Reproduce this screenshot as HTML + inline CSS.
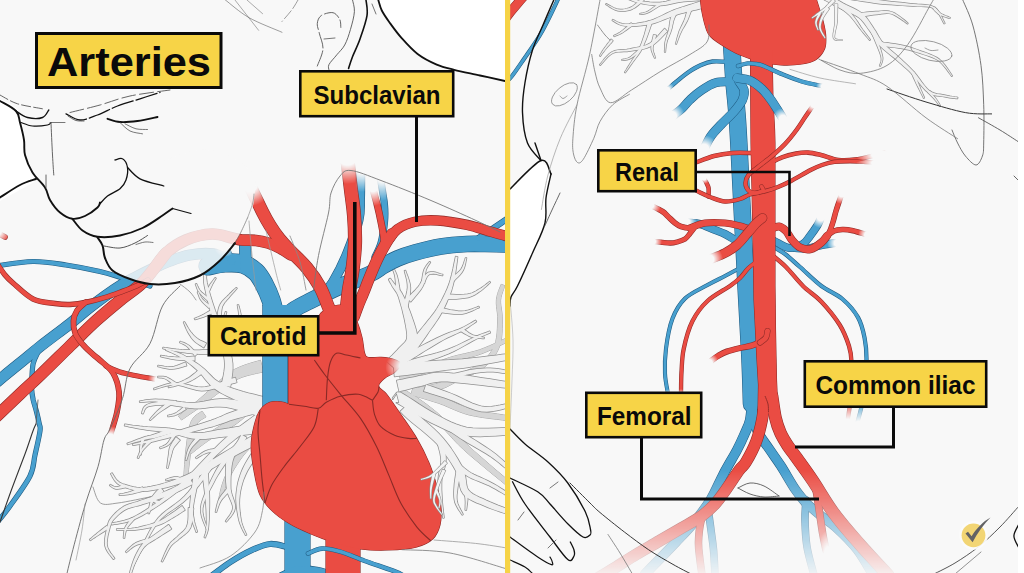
<!DOCTYPE html>
<html><head><meta charset="utf-8"><title>Arteries</title>
<style>
html,body{margin:0;padding:0;background:#f8f8f8;overflow:hidden}
body{width:1024px;height:573px;font-family:"Liberation Sans",sans-serif}
svg{display:block}
</style></head><body>
<svg width="1024" height="573" viewBox="0 0 1024 573">
<defs>
<radialGradient id="fb"><stop offset="0" stop-color="#f8f8f8" stop-opacity="1"/><stop offset="0.45" stop-color="#f8f8f8" stop-opacity="0.92"/><stop offset="1" stop-color="#f8f8f8" stop-opacity="0"/></radialGradient>
<radialGradient id="fw"><stop offset="0" stop-color="#fff" stop-opacity="1"/><stop offset="0.45" stop-color="#fff" stop-opacity="0.92"/><stop offset="1" stop-color="#fff" stop-opacity="0"/></radialGradient>
<radialGradient id="fk"><stop offset="0" stop-color="#000" stop-opacity="1"/><stop offset="0.35" stop-color="#000" stop-opacity="1"/><stop offset="1" stop-color="#000" stop-opacity="0"/></radialGradient>
<linearGradient id="lgB" x1="0" y1="0" x2="0" y2="1"><stop offset="0" stop-color="#000" stop-opacity="0"/><stop offset="1" stop-color="#000" stop-opacity="0.95"/></linearGradient>
<mask id="mlin" maskUnits="userSpaceOnUse" x="0" y="0" width="1024" height="573"><rect width="1024" height="573" fill="#fff"/><rect x="510" y="470" width="508" height="104" fill="url(#lgB)"/></mask>
<clipPath id="cl"><rect x="0" y="0" width="505" height="573"/></clipPath>
<clipPath id="cr"><rect x="510" y="0" width="508" height="573"/></clipPath>
</defs>
<rect width="1024" height="573" fill="#f8f8f8"/>
<path d="M0 99C2.5 100.3 11.3 103.5 15 107C18.7 110.5 20.5 114 22 120C23.5 126 23.2 136.3 24 143C24.8 149.7 25 153.7 27 160C29 166.3 34.5 177.5 36 181L0 201Z" fill="#fff"/>
<path d="M378.3 0C378.9 1.8 379.9 6.7 381.8 10.5C383.7 14.3 386.4 18.1 389.7 22.7C393 27.3 397.2 33.2 401.9 38.4C406.5 43.6 411.8 49.6 417.6 54C423.4 58.4 430.6 62 436.7 64.6C442.8 67.2 447 68 454.2 69.8C461.4 71.6 471.5 73.6 480 75.5C488.5 77.4 500.8 80.1 505 81L505 0Z" fill="#fff"/>
<path d="M510 189L541 160.5C542.7 162.8 550.2 167.8 551 174C551.8 180.2 547 189.8 546 198C545 206.2 547.2 213.8 545 223C542.8 232.2 537.1 242.5 532.5 253C527.9 263.5 521.1 278.7 517.5 286C513.9 293.3 512.2 293.7 511 297C509.8 300.3 510.2 304.5 510 306L510 306Z" fill="#fff"/>
<g clip-path="url(#cl)" stroke-linejoin="round">
<g fill="#d6d6d6" stroke="#a8a8a8" stroke-width="1">
<path d="M260.4 360.2L257.7 361.1L253.8 362.2L249.1 363.6L244 365.3L239 367.3L234.3 369.5L230.1 372.1L226.2 375.1L222.6 378.1L219.2 381.2L216 384.2L213 386.8L210.2 389.2L207.7 391.5L205.3 393.7L203 395.9L200.6 398L197.9 400.3L194.7 403L191.1 406L187.3 409L183.7 411.8L180.7 414.3L178.5 416L181.5 420L183.8 418.4L187 416.2L190.8 413.6L194.8 410.9L198.7 408.1L202.1 405.7L205 403.5L207.7 401.4L210.2 399.4L212.7 397.4L215.3 395.4L218.2 393.2L221.5 390.7L224.9 388L228.4 385.2L231.9 382.6L235.4 380.4L238.9 378.5L242.8 377L247.3 375.6L252.1 374.4L256.7 373.3L260.7 372.5L263.6 371.8Z"/>
<path d="M254.5 394.5L252.1 397L248.8 400.6L244.9 404.8L240.7 409.2L236.5 413.4L232.6 416.9L228.8 419.9L224.7 422.8L220.6 425.5L216.4 428.1L212.3 430.8L208.3 433.6L204.5 436.7L200.6 439.9L196.9 443.2L193.6 446.1L190.8 448.6L188.7 450.5L191.3 453.5L193.5 451.9L196.4 449.6L199.9 446.8L203.8 443.9L207.8 441L211.7 438.4L215.5 436L219.7 433.6L224 431.3L228.5 428.8L233 426.1L237.4 423.1L241.9 419.5L246.6 415.4L251.2 411.2L255.5 407.2L259 403.9L261.5 401.5Z"/>
<path d="M259 427.3L256.7 430.1L253.3 433.9L249.3 438.5L245 443.5L241 448.5L237.6 453.2L234.7 457.7L232.1 462.1L229.8 466.6L227.6 471L225.7 475.2L224 479.2L222.6 483.2L221.4 487.2L220.4 491.1L219.7 494.6L219 497.5L218.5 499.6L221.5 500.4L222.1 498.3L222.9 495.4L223.8 492L225 488.3L226.4 484.5L228 480.8L229.8 477.1L231.9 473.1L234.2 469L236.8 464.9L239.5 460.8L242.4 456.8L245.9 452.5L250.1 448L254.5 443.3L258.7 439L262.4 435.4L265 432.7Z"/>
<path d="M202 411.1L201 411.9L199.4 412.9L197.3 414.3L194.9 416.2L192.7 418.8L190.9 422.1L189.6 426L188.6 430.4L187.8 435.1L187.1 440.1L186.5 445L185.9 449.6L185.4 454.4L185 459.5L184.6 464.6L184.3 469.3L184 473.3L183.8 476.1L187.8 476.5L188.1 473.6L188.5 469.7L189.1 465L189.7 460L190.3 455L191.1 450.4L191.8 445.8L192.7 440.9L193.5 436.1L194.5 431.6L195.6 427.7L196.7 424.7L198 422.6L199.5 421.1L201.2 419.8L203 418.7L204.7 417.7L206 416.9Z"/>
<path d="M398 395.5L400 396.6L402.6 398L405.7 399.7L409 401.6L412.5 403.7L415.9 405.9L419.2 408.2L422.7 410.7L426.3 413.3L430 416.1L433.8 419.1L437.6 422.5L441.4 426.3L445.2 430.4L449.2 434.8L453.5 439.6L458.3 444.6L463.7 449.7L470.3 455.6L478.1 462.1L486.2 468.9L494 475.3L500.7 480.7L505.4 484.5L508.6 480.7L504 476.7L497.4 471.2L489.8 464.7L481.8 457.7L474.2 451.1L467.9 445.3L462.8 440.2L458.3 435.2L454.2 430.5L450.3 425.9L446.4 421.5L442.4 417.5L438.4 413.8L434.5 410.5L430.7 407.5L427.1 404.7L423.5 402.1L420.1 399.7L416.6 397.3L413 395L409.6 392.9L406.5 391.1L403.9 389.6L402 388.5Z"/>
<path d="M410.8 394.8L413.9 395.7L418 396.9L423 398.4L428.3 400L433.7 401.7L438.8 403.3L443.5 405.1L448.2 407.1L453.1 409.2L458.2 411.3L463.5 413.3L469.2 415L475.6 416.3L482.7 417.5L490 418.5L496.8 419.3L502.5 420L506.6 420.5L507.4 415.5L503.2 414.9L497.5 414L490.8 413L483.6 411.8L476.8 410.5L470.8 409L465.6 407.3L460.6 405.3L455.8 403.2L451 400.9L446.1 398.7L441.2 396.7L436.1 394.8L430.6 392.9L425.3 391.1L420.3 389.5L416.2 388.2L413.2 387.2Z"/>
<path d="M415.8 395.4L418.6 394.7L422.6 393.8L427.4 392.7L432.4 391.5L437 390.3L441 389.1L443.9 388.1L446.2 387.2L448.1 386.2L450 385.2L452.2 384L455.1 382.5L459 380.7L463.7 378.6L468.9 376.2L474.1 373.7L479.1 370.9L483.4 368L487 364.9L490.2 361.7L493 358.3L495.5 354.7L497.6 350.9L499.4 346.9L500.7 342.6L501.6 337.9L502 333.2L502.2 328.6L502.3 324.1L502.3 320L502.2 316.1L501.9 312.4L501.4 309L500.9 305.8L500.6 302.9L500.6 300.2L501 297.5L501.7 294.7L502.6 291.9L503.5 289.4L504.3 287.3L504.9 285.7L501.1 284.3L500.6 285.9L499.7 288L498.7 290.6L497.7 293.5L496.9 296.6L496.4 299.8L496.3 303.1L496.5 306.3L496.9 309.6L497.4 313L497.6 316.4L497.7 320L497.5 324L497.4 328.4L497.1 332.8L496.6 337.2L495.8 341.4L494.6 345.1L493 348.5L491 351.8L488.8 354.9L486.2 357.9L483.2 360.8L480 363.4L476.1 366L471.5 368.5L466.4 370.8L461.3 373L456.5 375.1L452.5 376.9L449.4 378.4L447.1 379.6L445.3 380.5L443.6 381.3L441.7 382L439 382.9L435.3 383.9L430.8 385L425.9 386.1L421.1 387.1L417.1 388L414.2 388.6Z"/>
<path d="M400.8 380.9L402.9 380.3L405.6 379.5L408.9 378.6L412.7 377.4L416.7 376.1L421 374.6L425.5 372.9L430.3 370.8L435.4 368.6L440.6 366.4L445.8 364.3L450.8 362.4L455.7 360.9L460.7 359.6L465.7 358.3L470.8 357.1L475.8 355.7L480.7 354.1L485.8 352.1L491.1 349.8L496.3 347.4L501 345.1L505 343.2L507.8 341.8L506.2 338.2L503.2 339.5L499.2 341.4L494.5 343.6L489.3 345.9L484.2 348L479.3 349.9L474.5 351.3L469.7 352.5L464.6 353.7L459.5 354.8L454.4 356.1L449.2 357.6L444 359.4L438.6 361.5L433.3 363.7L428.2 365.8L423.4 367.7L419 369.4L415 370.7L411 371.9L407.3 372.9L404 373.8L401.3 374.5L399.2 375.1Z"/>
</g><g fill="#d6d6d6" stroke="none">
<path d="M260.4 360.2L257.7 361.1L253.8 362.2L249.1 363.6L244 365.3L239 367.3L234.3 369.5L230.1 372.1L226.2 375.1L222.6 378.1L219.2 381.2L216 384.2L213 386.8L210.2 389.2L207.7 391.5L205.3 393.7L203 395.9L200.6 398L197.9 400.3L194.7 403L191.1 406L187.3 409L183.7 411.8L180.7 414.3L178.5 416L181.5 420L183.8 418.4L187 416.2L190.8 413.6L194.8 410.9L198.7 408.1L202.1 405.7L205 403.5L207.7 401.4L210.2 399.4L212.7 397.4L215.3 395.4L218.2 393.2L221.5 390.7L224.9 388L228.4 385.2L231.9 382.6L235.4 380.4L238.9 378.5L242.8 377L247.3 375.6L252.1 374.4L256.7 373.3L260.7 372.5L263.6 371.8Z"/>
<path d="M254.5 394.5L252.1 397L248.8 400.6L244.9 404.8L240.7 409.2L236.5 413.4L232.6 416.9L228.8 419.9L224.7 422.8L220.6 425.5L216.4 428.1L212.3 430.8L208.3 433.6L204.5 436.7L200.6 439.9L196.9 443.2L193.6 446.1L190.8 448.6L188.7 450.5L191.3 453.5L193.5 451.9L196.4 449.6L199.9 446.8L203.8 443.9L207.8 441L211.7 438.4L215.5 436L219.7 433.6L224 431.3L228.5 428.8L233 426.1L237.4 423.1L241.9 419.5L246.6 415.4L251.2 411.2L255.5 407.2L259 403.9L261.5 401.5Z"/>
<path d="M259 427.3L256.7 430.1L253.3 433.9L249.3 438.5L245 443.5L241 448.5L237.6 453.2L234.7 457.7L232.1 462.1L229.8 466.6L227.6 471L225.7 475.2L224 479.2L222.6 483.2L221.4 487.2L220.4 491.1L219.7 494.6L219 497.5L218.5 499.6L221.5 500.4L222.1 498.3L222.9 495.4L223.8 492L225 488.3L226.4 484.5L228 480.8L229.8 477.1L231.9 473.1L234.2 469L236.8 464.9L239.5 460.8L242.4 456.8L245.9 452.5L250.1 448L254.5 443.3L258.7 439L262.4 435.4L265 432.7Z"/>
<path d="M202 411.1L201 411.9L199.4 412.9L197.3 414.3L194.9 416.2L192.7 418.8L190.9 422.1L189.6 426L188.6 430.4L187.8 435.1L187.1 440.1L186.5 445L185.9 449.6L185.4 454.4L185 459.5L184.6 464.6L184.3 469.3L184 473.3L183.8 476.1L187.8 476.5L188.1 473.6L188.5 469.7L189.1 465L189.7 460L190.3 455L191.1 450.4L191.8 445.8L192.7 440.9L193.5 436.1L194.5 431.6L195.6 427.7L196.7 424.7L198 422.6L199.5 421.1L201.2 419.8L203 418.7L204.7 417.7L206 416.9Z"/>
<path d="M398 395.5L400 396.6L402.6 398L405.7 399.7L409 401.6L412.5 403.7L415.9 405.9L419.2 408.2L422.7 410.7L426.3 413.3L430 416.1L433.8 419.1L437.6 422.5L441.4 426.3L445.2 430.4L449.2 434.8L453.5 439.6L458.3 444.6L463.7 449.7L470.3 455.6L478.1 462.1L486.2 468.9L494 475.3L500.7 480.7L505.4 484.5L508.6 480.7L504 476.7L497.4 471.2L489.8 464.7L481.8 457.7L474.2 451.1L467.9 445.3L462.8 440.2L458.3 435.2L454.2 430.5L450.3 425.9L446.4 421.5L442.4 417.5L438.4 413.8L434.5 410.5L430.7 407.5L427.1 404.7L423.5 402.1L420.1 399.7L416.6 397.3L413 395L409.6 392.9L406.5 391.1L403.9 389.6L402 388.5Z"/>
<path d="M410.8 394.8L413.9 395.7L418 396.9L423 398.4L428.3 400L433.7 401.7L438.8 403.3L443.5 405.1L448.2 407.1L453.1 409.2L458.2 411.3L463.5 413.3L469.2 415L475.6 416.3L482.7 417.5L490 418.5L496.8 419.3L502.5 420L506.6 420.5L507.4 415.5L503.2 414.9L497.5 414L490.8 413L483.6 411.8L476.8 410.5L470.8 409L465.6 407.3L460.6 405.3L455.8 403.2L451 400.9L446.1 398.7L441.2 396.7L436.1 394.8L430.6 392.9L425.3 391.1L420.3 389.5L416.2 388.2L413.2 387.2Z"/>
<path d="M415.8 395.4L418.6 394.7L422.6 393.8L427.4 392.7L432.4 391.5L437 390.3L441 389.1L443.9 388.1L446.2 387.2L448.1 386.2L450 385.2L452.2 384L455.1 382.5L459 380.7L463.7 378.6L468.9 376.2L474.1 373.7L479.1 370.9L483.4 368L487 364.9L490.2 361.7L493 358.3L495.5 354.7L497.6 350.9L499.4 346.9L500.7 342.6L501.6 337.9L502 333.2L502.2 328.6L502.3 324.1L502.3 320L502.2 316.1L501.9 312.4L501.4 309L500.9 305.8L500.6 302.9L500.6 300.2L501 297.5L501.7 294.7L502.6 291.9L503.5 289.4L504.3 287.3L504.9 285.7L501.1 284.3L500.6 285.9L499.7 288L498.7 290.6L497.7 293.5L496.9 296.6L496.4 299.8L496.3 303.1L496.5 306.3L496.9 309.6L497.4 313L497.6 316.4L497.7 320L497.5 324L497.4 328.4L497.1 332.8L496.6 337.2L495.8 341.4L494.6 345.1L493 348.5L491 351.8L488.8 354.9L486.2 357.9L483.2 360.8L480 363.4L476.1 366L471.5 368.5L466.4 370.8L461.3 373L456.5 375.1L452.5 376.9L449.4 378.4L447.1 379.6L445.3 380.5L443.6 381.3L441.7 382L439 382.9L435.3 383.9L430.8 385L425.9 386.1L421.1 387.1L417.1 388L414.2 388.6Z"/>
<path d="M400.8 380.9L402.9 380.3L405.6 379.5L408.9 378.6L412.7 377.4L416.7 376.1L421 374.6L425.5 372.9L430.3 370.8L435.4 368.6L440.6 366.4L445.8 364.3L450.8 362.4L455.7 360.9L460.7 359.6L465.7 358.3L470.8 357.1L475.8 355.7L480.7 354.1L485.8 352.1L491.1 349.8L496.3 347.4L501 345.1L505 343.2L507.8 341.8L506.2 338.2L503.2 339.5L499.2 341.4L494.5 343.6L489.3 345.9L484.2 348L479.3 349.9L474.5 351.3L469.7 352.5L464.6 353.7L459.5 354.8L454.4 356.1L449.2 357.6L444 359.4L438.6 361.5L433.3 363.7L428.2 365.8L423.4 367.7L419 369.4L415 370.7L411 371.9L407.3 372.9L404 373.8L401.3 374.5L399.2 375.1Z"/>
</g></g>
<g clip-path="url(#cl)" stroke-linejoin="round">
<g fill="#f0f0f0" stroke="#8f8f8f" stroke-width="1.5">
<path d="M267.8 397.8L264.5 397L259.7 395.9L254.2 394.6L248.5 393.2L243 391.7L238.3 390.3L234.3 389L230.6 387.7L227.1 386.3L223.9 384.9L220.8 383.3L217.9 381.6L215.1 379.7L212.6 377.4L210.1 374.9L207.5 372.2L204.8 369.5L201.8 367L198.6 364.6L195.4 362.4L192 360.2L188.7 358.1L185.5 356.3L182.4 354.6L179.3 353.2L176.1 351.9L173 350.9L170.3 350L168 349.3L166.3 348.7L165.7 350.1L167.4 350.8L169.6 351.8L172.3 352.9L175.1 354.2L178 355.7L180.8 357.4L183.6 359.3L186.6 361.4L189.6 363.7L192.6 366.1L195.5 368.6L198.2 371L200.6 373.6L202.9 376.3L205.2 379.2L207.6 382.1L210.3 385.1L213.3 387.8L216.6 390.1L219.9 392.3L223.4 394.2L227 396L230.8 397.8L234.9 399.7L239.7 401.6L245.2 403.7L251 405.7L256.4 407.6L261 409.1L264.2 410.2Z"/>
<path d="M265.4 406.7L261.2 405.7L255.3 404.3L248.2 402.7L240.6 401L233.2 399.7L226.4 399L220.3 399L214.5 399.6L209.1 400.5L204.1 401.5L199.3 402.3L194.7 402.7L190.2 402.7L185.7 402.4L181.3 402L176.9 401.5L172.7 401.2L168.5 401.1L164.5 401.3L160.4 401.7L156.6 402.2L153 402.8L149.8 403.6L147.2 404.6L145.1 405.9L143.7 407.6L142.9 409.4L142.4 411L142 412.3L141.7 413.2L143.1 413.8L143.5 412.8L144 411.5L144.5 410.1L145.3 408.7L146.4 407.5L148 406.6L150.4 406L153.4 405.5L156.9 405.1L160.7 404.9L164.6 404.8L168.5 404.9L172.3 405.2L176.4 405.9L180.6 406.6L185.1 407.4L189.8 408.1L194.7 408.5L199.8 408.4L205 407.9L210.1 407.3L215.2 406.8L220.4 406.7L225.6 407L231.6 408.2L238.5 409.9L245.7 412L252.5 414.2L258.4 416L262.6 417.3Z"/>
<path d="M176.3 401L174 400.8L170.7 400.4L166.9 400L162.8 399.6L158.9 399.4L155.4 399.3L152.3 399.4L149.2 399.7L146.2 400.1L143.5 400.6L141.3 400.9L139.6 401.2L139.8 402.2L141.4 402.1L143.7 401.9L146.3 401.7L149.3 401.5L152.3 401.4L155.4 401.5L158.7 401.9L162.5 402.5L166.5 403.2L170.2 403.9L173.4 404.6L175.7 405Z"/>
<path d="M230.4 386.7L230.8 384.4L231.3 381.1L231.8 377L232.4 372.6L232.7 368L232.6 363.6L232 359.3L231.2 355.1L230.1 350.8L228.9 346.7L227.7 342.8L226.5 339.1L225.4 335.6L224.1 332.3L222.9 329.1L221.6 326.2L220.5 323.5L219.5 321.1L218.6 319L217.9 317.3L217.2 315.8L216.6 314.4L216 312.8L215.2 310.7L214.3 308.1L213.3 305.1L212.3 301.9L211.3 298.7L210.3 295.5L209.5 292.6L208.8 289.9L208.1 287.3L207.5 284.8L206.9 282.4L206.6 280.1L206.3 278L206.4 275.8L206.6 273.5L206.9 271.3L207.4 269.3L207.7 267.5L208 266.2L206 265.8L205.7 267L205.2 268.7L204.7 270.8L204.2 273.1L203.8 275.6L203.7 278L203.8 280.4L204 282.9L204.4 285.4L204.9 288L205.5 290.7L206.1 293.4L206.7 296.4L207.5 299.7L208.4 303L209.2 306.3L210 309.4L210.8 312.1L211.5 314.3L212.1 316.1L212.6 317.7L213.2 319.2L213.8 320.8L214.5 322.9L215.4 325.5L216.4 328.3L217.5 331.2L218.5 334.3L219.5 337.5L220.5 340.9L221.4 344.5L222.3 348.4L223.3 352.5L224 356.5L224.6 360.4L224.8 364L224.7 367.7L224.2 371.7L223.5 375.7L222.7 379.5L222 382.8L221.6 385.3Z"/>
<path d="M212.2 309.4L211.1 310.1L209.6 311L207.9 312L206 313.1L204.2 314.2L202.6 315L201.1 315.8L199.5 316.5L198 317.1L196.6 317.7L195.4 318.2L194.5 318.5L194.9 319.5L195.8 319.2L197 318.9L198.5 318.5L200.1 318L201.8 317.5L203.4 317L205.2 316.3L207.2 315.5L209.2 314.6L211.1 313.8L212.7 313.1L213.8 312.6Z"/>
<path d="M221 320.2L221.1 318.6L221.1 316.4L221.2 313.8L221.4 311.1L221.8 308.6L222.3 306.5L223.2 304.8L224.2 303.1L225.5 301.4L226.9 299.8L228.4 298.2L229.7 296.6L231 295L232.4 293.4L233.8 291.9L235.1 290.4L236.2 289.2L237 288.3L236.2 287.7L235.4 288.5L234.2 289.6L232.8 290.9L231.3 292.4L229.7 293.9L228.3 295.4L226.9 296.8L225.3 298.3L223.8 299.8L222.2 301.5L220.8 303.4L219.7 305.5L218.8 307.9L218.2 310.6L217.8 313.5L217.5 316.1L217.2 318.3L217 319.8Z"/>
<path d="M208.3 293.7L208.7 292.7L209.2 291.5L209.9 290L210.5 288.4L211.2 286.9L211.9 285.5L212.5 284.2L213.3 282.8L214.1 281.4L214.9 280.1L215.5 279.1L216 278.3L215.2 277.7L214.6 278.4L213.9 279.4L213 280.6L212 281.9L211 283.2L210.1 284.5L209.3 285.9L208.4 287.4L207.6 288.9L206.8 290.3L206.1 291.5L205.7 292.3Z"/>
<path d="M210 298.9L208.9 298L207.3 296.9L205.5 295.6L203.7 294.1L202 292.7L200.7 291.4L199.7 290.1L198.8 288.7L198.1 287.2L197.4 285.8L196.9 284.7L196.5 283.8L195.5 284.2L195.9 285.1L196.3 286.3L196.8 287.8L197.5 289.4L198.3 291L199.3 292.6L200.6 294.1L202.2 295.8L204 297.4L205.6 299L207.1 300.2L208 301.1Z"/>
<path d="M225.8 344.8L227.1 343.3L229 341.2L231.3 338.7L233.6 336.1L235.7 333.4L237.4 330.9L238.6 328.7L239.5 326.5L240.2 324.4L240.7 322.3L241 320.2L241.1 318.1L241 315.7L240.6 313.1L240 310.6L239.4 308.3L238.8 306.3L238.5 304.9L237.5 305.1L237.7 306.5L238.1 308.6L238.5 310.9L238.8 313.4L239 315.8L238.9 317.9L238.6 319.9L238.1 321.8L237.6 323.6L236.8 325.4L235.8 327.2L234.6 329.1L232.9 331.1L230.7 333.4L228.2 335.8L225.8 338L223.7 339.9L222.2 341.2Z"/>
<path d="M206.2 343.2L205.2 342.7L203.7 342L202 341.2L200.2 340.4L198.6 339.5L197.2 338.6L196 337.6L194.8 336.6L193.7 335.5L192.6 334.3L191.6 333.1L190.5 331.7L189.4 330.2L188.2 328.3L187.1 326.4L186 324.5L185.1 322.9L184.4 321.8L183.6 322.2L184.1 323.4L184.8 325.1L185.6 327.1L186.5 329.2L187.5 331.3L188.5 333.1L189.4 334.6L190.4 336.1L191.3 337.5L192.4 338.9L193.6 340.2L194.8 341.4L196.3 342.7L198.1 343.9L199.8 345.1L201.5 346.1L202.8 347L203.8 347.6Z"/>
<path d="M214 349.5L212 349.6L209.3 349.7L206 349.9L202.6 350L199.2 350.2L196.1 350.2L193.2 350.2L190.3 350.1L187.5 350.1L184.7 349.9L181.9 349.8L179.1 349.6L176.2 349.3L173.1 348.9L170.1 348.5L167.2 348.1L164.8 347.8L163.1 347.5L162.9 348.5L164.6 348.9L167 349.4L169.8 350L172.9 350.7L175.9 351.3L178.9 351.8L181.6 352.2L184.4 352.6L187.3 353L190.1 353.3L193 353.6L195.9 353.8L199.1 354L202.6 354.2L206.1 354.3L209.3 354.4L212.1 354.4L214 354.5Z"/>
<path d="M194.7 356.5L192.6 356.6L189.8 356.8L186.5 357L183 357.2L179.5 357.3L176.5 357.3L173.6 357.1L170.5 356.8L167.5 356.5L164.8 356.1L162.5 355.7L160.8 355.5L160.6 356.5L162.3 356.9L164.5 357.4L167.3 358L170.2 358.7L173.3 359.3L176.3 359.7L179.5 360L183 360.2L186.6 360.3L189.9 360.4L192.7 360.4L194.7 360.5Z"/>
<path d="M198.5 370L197.4 370.9L196 372.2L194.3 373.7L192.4 375.2L190.5 376.7L188.7 377.9L186.7 379L184.6 380.1L182.3 381.2L180.1 382.1L178 383L176.1 383.8L174.4 384.5L172.9 385L171.5 385.5L170.2 385.9L169.2 386.3L168.4 386.5L168.6 387.5L169.4 387.3L170.5 387.1L171.8 386.8L173.3 386.5L175 386.1L176.7 385.6L178.7 385L180.9 384.4L183.3 383.7L185.7 382.9L188.1 382L190.3 381.1L192.5 379.9L194.8 378.6L196.9 377.2L198.8 375.9L200.4 374.8L201.5 374Z"/>
<path d="M185.4 362.3L183.9 362.9L181.8 363.8L179.4 364.7L176.8 365.7L174.3 366.4L171.9 366.9L169.6 367L166.9 366.8L164.3 366.5L161.8 366.1L159.6 365.7L158.1 365.5L157.9 366.5L159.4 366.8L161.5 367.4L164 368L166.7 368.6L169.4 369L172.1 369.1L174.7 368.8L177.5 368.3L180.3 367.5L182.9 366.8L185 366.1L186.6 365.7Z"/>
<path d="M168.8 401.4L167.5 402.5L165.7 403.9L163.5 405.7L161.3 407.6L159.1 409.4L157.3 411.1L155.6 412.7L154.1 414.4L152.7 416L151.4 417.5L150.4 418.8L149.6 419.7L150.4 420.3L151.2 419.5L152.4 418.4L153.8 417.1L155.4 415.7L157 414.2L158.7 412.9L160.7 411.5L163 409.9L165.5 408.3L167.8 406.8L169.8 405.5L171.2 404.6Z"/>
<path d="M261.3 423L257 423.7L251 424.7L243.8 425.9L236.3 427.1L229.2 428.3L223 429.2L217.8 430.1L213.2 431L208.9 431.8L204.9 432.5L201 432.9L196.9 433L192.7 432.7L188.4 432.1L184 431.2L179.5 430.2L174.9 429.3L170.3 428.6L165.7 428.1L161 427.8L156.3 427.5L151.8 427.2L147.5 427L143.6 426.7L139.8 426.3L136.1 425.8L132.6 425.4L129.4 424.9L126.8 424.5L124.8 424.3L124.6 425.7L126.5 426.1L129.1 426.7L132.2 427.3L135.7 428L139.4 428.7L143.2 429.3L147.2 429.9L151.5 430.4L156 430.9L160.6 431.5L165.2 432.1L169.7 432.8L174 433.8L178.3 434.9L182.8 436.2L187.3 437.4L191.9 438.4L196.7 439L201.2 439.1L205.6 438.9L209.9 438.5L214.3 437.9L218.9 437.3L224 436.8L230.2 436.2L237.4 435.5L245 434.7L252.2 434L258.3 433.4L262.7 433Z"/>
<path d="M169.2 428.6L167.5 429.3L165.2 430.2L162.5 431.3L159.7 432.4L156.9 433.4L154.5 434.3L152.5 434.9L150.7 435.4L149 435.8L147.2 436.3L145.2 436.8L143.1 437.5L140.5 438.4L137.5 439.5L134.4 440.7L131.5 441.9L129 442.8L127.2 443.5L127.6 444.5L129.4 443.9L131.9 443.2L134.9 442.3L138.1 441.4L141.1 440.6L143.7 439.9L145.9 439.4L147.8 439.1L149.6 438.8L151.4 438.5L153.3 438.2L155.5 437.7L158.1 437.1L160.9 436.3L163.9 435.4L166.7 434.6L169.1 433.9L170.8 433.4Z"/>
<path d="M141.6 438.6L141.4 439.5L141.1 440.7L140.8 442.2L140.5 443.8L140.2 445.4L140 446.9L140 448.3L140 449.8L140 451.3L140.1 452.7L140.2 453.9L140.2 454.7L141.2 454.7L141.3 453.9L141.3 452.7L141.4 451.4L141.6 449.9L141.7 448.5L142 447.1L142.3 445.8L142.8 444.3L143.2 442.9L143.7 441.5L144.2 440.3L144.4 439.4Z"/>
<path d="M176 437.2L175.4 438.1L174.5 439.4L173.4 441L172.2 442.8L171.2 444.5L170.4 446.1L169.8 447.6L169.4 448.9L169.2 450.2L169 451.5L168.9 452.8L168.7 454.4L168.4 456.5L168 459L167.7 461.7L167.4 464.2L167.1 466.4L166.9 467.9L167.9 468.1L168.3 466.6L168.8 464.5L169.5 462L170.1 459.4L170.8 457L171.3 455L171.8 453.4L172.1 452L172.4 450.9L172.7 449.9L173.1 448.9L173.6 447.9L174.5 446.6L175.6 445.2L176.9 443.7L178.1 442.3L179.2 441.1L180 440.2Z"/>
<path d="M198.5 434.7L197.4 436L195.9 437.9L194 440.2L192.1 442.6L190.4 445.1L189 447.4L188 449.7L187.2 452.2L186.6 454.5L186.2 456.7L185.8 458.5L185.5 459.9L186.5 460.1L186.9 458.8L187.5 457.1L188.1 455L188.9 452.7L189.9 450.6L191 448.6L192.5 446.6L194.4 444.5L196.5 442.3L198.5 440.3L200.3 438.6L201.5 437.3Z"/>
<path d="M259.6 431.6L255.3 434.1L249.3 437.6L242.2 441.8L234.8 446.1L227.7 450.3L221.6 454L216.4 457.2L211.8 460.3L207.6 463.1L203.5 465.8L199.5 468.3L195.4 470.6L191.1 472.8L186.7 474.9L182.4 476.8L178 478.6L173.7 480.2L169.3 481.7L164.9 483.1L160.3 484.4L155.8 485.6L151.3 486.6L147.1 487.3L143.3 487.7L139.8 487.7L136.5 487.5L133.4 486.9L130.4 486.2L127.8 485.5L125.4 484.8L123.4 484.2L121.8 483.6L120.6 483L119.5 482.4L118.5 481.6L117.4 480.7L116.3 479.6L115.3 478.2L114.3 476.7L113.4 475.2L112.6 473.9L112 473L110.8 473.8L111.3 474.7L112 476L112.8 477.6L113.8 479.2L114.8 480.8L116 482.1L117.1 483.2L118.2 484.1L119.5 484.9L120.9 485.7L122.6 486.5L124.6 487.2L127 488L129.7 488.9L132.7 489.7L136.1 490.5L139.6 491L143.5 491.1L147.6 490.9L152 490.3L156.6 489.6L161.3 488.6L166.1 487.5L170.7 486.3L175.2 485L179.8 483.5L184.4 481.9L189 480.2L193.6 478.3L198.2 476.2L202.7 473.9L207 471.5L211.3 469L215.7 466.4L220.3 463.6L225.4 460.8L231.7 457.4L239 453.6L246.6 449.6L253.9 445.9L260 442.7L264.4 440.4Z"/>
<path d="M142.4 487.1L141 487.6L139 488.4L136.7 489.3L134.2 490.3L131.8 491.2L129.7 491.9L127.8 492.4L125.7 492.9L123.8 493.4L122 493.8L120.4 494.1L119.3 494.3L119.5 495.3L120.6 495.2L122.2 495.1L124 494.9L126 494.7L128.2 494.5L130.3 494.1L132.5 493.7L135.1 493.1L137.7 492.4L140.1 491.8L142.1 491.3L143.6 490.9Z"/>
<path d="M124.6 484.6L123.6 484.9L122.2 485.4L120.6 486L118.9 486.5L117.3 486.9L116.1 487.1L115 486.9L113.9 486.6L112.8 486L111.8 485.5L110.9 484.9L110.3 484.6L109.7 485.4L110.3 485.8L111.1 486.5L112.1 487.2L113.2 487.9L114.5 488.6L115.9 488.9L117.6 488.9L119.3 488.7L121.2 488.4L122.9 488L124.4 487.7L125.4 487.4Z"/>
<path d="M160.3 487.5L159.6 488.3L158.5 489.4L157.3 490.6L155.9 492L154.7 493.5L153.6 494.8L152.8 496.1L152.1 497.3L151.6 498.4L151.1 499.6L150.6 500.9L150.2 502.4L149.8 504.2L149.4 506.2L149 508.4L148.7 510.4L148.4 512.2L148.2 513.4L149.2 513.6L149.6 512.4L150.1 510.7L150.7 508.8L151.3 506.7L152 504.8L152.6 503.2L153.2 501.9L153.8 500.8L154.3 499.9L154.9 499L155.6 498.1L156.4 497.2L157.5 496.1L158.8 495L160.2 493.9L161.6 492.9L162.8 491.9L163.7 491.3Z"/>
<path d="M193.8 472.9L193.6 474.6L193.3 476.9L192.9 479.8L192.5 482.8L192.1 486L191.7 489L191.4 492.1L191 495.3L190.6 498.7L190.3 502L190 505.1L190 507.9L190.1 510.4L190.3 512.6L190.6 514.6L191 516.5L191.5 518.3L192 520.2L192.6 522.4L193.4 524.7L194.3 527L195.1 529.1L195.8 530.9L196.3 532.2L197.3 531.8L196.9 530.5L196.3 528.7L195.7 526.5L195 524.2L194.4 521.9L194 519.8L193.7 517.8L193.3 516L193.1 514.2L193 512.4L192.9 510.3L193 508.1L193.3 505.4L193.8 502.4L194.4 499.2L195 496L195.7 492.8L196.3 489.8L196.9 486.8L197.6 483.7L198.2 480.7L198.8 478L199.4 475.6L199.8 473.9Z"/>
<path d="M188.5 507.8L188.4 510L188.4 513.1L188.4 516.5L188.2 520.1L187.7 523.4L187 526.1L186 528.1L184.5 530L182.7 531.9L180.7 533.6L178.8 535.3L177.1 537L175.6 538.3L174.3 539.4L173.1 540.5L171.8 541.6L170.4 543.1L169.1 544.9L167.7 547.4L166.3 550.4L164.8 553.6L163.5 556.8L162.4 559.4L161.5 561.3L162.5 561.7L163.4 559.9L164.7 557.3L166.2 554.3L167.8 551.2L169.4 548.3L170.9 546.1L172.2 544.5L173.4 543.4L174.6 542.4L175.9 541.5L177.4 540.4L178.9 539L180.7 537.6L182.7 536L184.9 534.3L187 532.4L189 530.2L190.6 527.5L191.6 524.3L192.3 520.7L192.8 516.9L193.1 513.3L193.3 510.3L193.5 508.2Z"/>
<path d="M201.8 470.3L202.3 473.6L202.9 478.2L203.7 483.6L204.4 489.3L205.1 495L205.6 500.1L206 504.9L206.3 509.8L206.5 514.6L206.6 519.2L206.7 523.3L206.6 526.7L206.4 529.5L206 531.8L205.5 533.6L205.1 535.1L204.6 536.3L204.3 537.3L205.3 537.7L205.6 536.7L206.1 535.5L206.8 534L207.4 532.1L208 529.8L208.4 526.9L208.7 523.3L209 519.2L209.2 514.6L209.3 509.7L209.4 504.8L209.4 499.9L209.3 494.7L209 488.9L208.6 483.1L208.3 477.6L208 473L207.8 469.7Z"/>
<path d="M228.6 451L228.3 452.3L227.8 454.1L227.2 456.3L226.7 458.9L226.2 461.9L225.9 465.1L225.8 468.7L225.7 472.7L225.8 477.1L226 481.5L226.4 485.7L226.9 489.7L227.8 493.3L229.1 496.8L230.5 499.9L231.7 502.8L232.6 505.5L232.9 507.9L232.4 510.3L231.2 512.9L229.7 515.5L228 517.8L226.6 519.7L225.6 521.2L226.4 521.8L227.5 520.4L229.1 518.6L231 516.4L232.8 513.8L234.3 511.1L235.1 508.1L235.1 505L234.4 501.9L233.3 498.8L232.2 495.6L231.3 492.4L230.7 489.1L230.6 485.5L230.6 481.4L230.7 477.1L231 472.9L231.3 469L231.7 465.7L232.2 462.9L232.8 460.4L233.6 458.1L234.3 456.1L234.9 454.3L235.4 453Z"/>
<path d="M227.3 488.1L226.4 489.2L225 490.9L223.4 492.9L221.7 495L220.2 497.2L218.9 499.4L218 501.6L217.3 504L216.7 506.4L216.2 508.7L215.8 510.5L215.5 511.9L216.5 512.1L216.9 510.8L217.5 509L218.2 506.9L219.1 504.6L220 502.5L221.1 500.6L222.4 498.8L224.1 496.9L225.9 495L227.7 493.3L229.2 491.8L230.3 490.7Z"/>
<path d="M190.1 478.8L188.3 479.7L185.9 481.1L183 482.7L180 484.4L176.8 486.1L173.9 487.6L171 488.9L168 490.2L164.9 491.6L161.9 492.8L158.8 494L155.9 495.2L153 496.3L150.2 497.3L147.5 498.3L144.7 499.2L142 500.1L139.4 501L136.8 501.9L134.2 502.6L131.5 503.4L128.9 504.2L126.3 505.2L123.8 506.4L121.5 508L119.2 509.7L117.1 511.5L115.1 513.4L113.4 515.3L111.9 517L110.7 518.5L109.7 519.9L109 521.2L108.4 522.7L107.9 524.4L107.4 526.5L106.8 529.1L106.1 532.2L105.4 535.7L104.9 539.2L104.7 542.6L105 545.7L105.9 548.6L107.4 551.3L109.1 553.9L110.9 556.1L112.4 558L113.4 559.3L114.6 558.5L113.6 557L112.2 555.1L110.5 552.9L109 550.4L107.7 547.8L107 545.3L106.9 542.6L107.2 539.4L107.7 536.1L108.5 532.8L109.3 529.7L110 527.1L110.6 525.2L111.1 523.7L111.6 522.5L112.2 521.4L113 520.3L114.1 519L115.6 517.4L117.3 515.7L119.2 514L121.3 512.3L123.4 510.8L125.6 509.6L127.7 508.6L130.1 507.8L132.6 507.1L135.2 506.4L137.9 505.7L140.6 505L143.3 504.1L146.1 503.3L148.8 502.4L151.7 501.5L154.6 500.6L157.5 499.6L160.5 498.5L163.6 497.4L166.8 496.2L170 495L173.1 493.7L176.1 492.4L179.3 491L182.5 489.4L185.7 487.8L188.7 486.2L191.1 485L192.9 484Z"/>
<path d="M107 525.6L105.9 526.4L104.4 527.6L102.7 528.9L100.8 530.4L99 531.8L97.4 533.1L95.9 534.4L94.4 535.6L92.9 536.8L91.6 538L90.5 538.9L89.7 539.6L90.3 540.4L91.2 539.8L92.4 539L93.8 538L95.4 537L97 535.9L98.6 534.9L100.3 533.8L102.3 532.6L104.3 531.3L106.2 530.1L107.8 529.1L109 528.4Z"/>
<path d="M182.1 505.9L180.6 507L178.6 508.4L176.3 510.2L173.8 512L171.2 513.7L168.9 515.3L166.8 516.6L164.9 517.9L163 519.1L161 520.3L158.7 521.4L156.2 522.5L153.1 523.5L149.6 524.6L145.9 525.6L142.1 526.5L138.3 527.4L134.9 528L131.5 528.4L127.9 528.7L124.5 528.8L121.3 528.9L118.7 528.9L116.7 529L116.7 530L118.6 530.1L121.3 530.2L124.5 530.3L128 530.3L131.6 530.3L135.1 530L138.7 529.5L142.5 528.9L146.5 528.2L150.3 527.4L154 526.5L157.2 525.5L160.1 524.5L162.5 523.5L164.8 522.4L166.9 521.2L168.9 520L171.1 518.7L173.5 517.3L176.2 515.7L178.9 514L181.3 512.4L183.4 511L184.9 510.1Z"/>
<path d="M168.6 524.7L167 525.9L164.7 527.5L161.9 529.5L159.1 531.5L156.3 533.6L153.9 535.3L151.8 536.8L149.8 538.1L147.8 539.5L145.8 540.9L144 542.5L142.2 544.4L140.5 546.7L139 549.1L137.6 551.7L136.2 554.3L135 556.9L133.9 559.5L132.9 562.3L131.9 565.2L131.1 568.1L130.3 570.8L129.7 573.1L129.3 574.8L130.7 575.2L131.3 573.6L132 571.3L132.9 568.7L133.9 565.8L134.9 563L136.1 560.5L137.3 558L138.6 555.5L140 553L141.5 550.7L143 548.5L144.6 546.6L146.3 545L148 543.7L149.8 542.5L151.8 541.3L153.9 540.1L156.1 538.7L158.7 537L161.5 535.2L164.5 533.3L167.3 531.5L169.7 530L171.4 528.9Z"/>
<path d="M149.6 538.3L148 538.8L145.9 539.4L143.3 540.1L140.5 541L137.9 541.9L135.5 543L133.4 544.4L131.5 546L129.6 547.7L128 549.3L126.7 550.7L125.7 551.6L126.3 552.4L127.4 551.5L128.9 550.3L130.6 548.8L132.5 547.3L134.5 546L136.5 545L138.7 544.2L141.3 543.5L144 542.9L146.6 542.4L148.8 542L150.4 541.7Z"/>
<path d="M259.1 442L257.3 444.9L254.6 448.9L251.4 453.7L248.1 458.9L245.1 464.1L242.7 468.9L240.9 473.3L239.4 477.7L238.2 482L237.3 486.3L236.7 490.6L236.2 494.8L236.1 499.3L236.4 503.8L236.8 508.3L237.5 512.6L238.2 516.6L239 520.2L240 523.5L241.2 526.6L242.5 529.4L243.7 531.8L244.8 533.7L245.5 535.2L246.5 534.8L245.8 533.2L244.9 531.2L243.8 528.8L242.7 526L241.7 523L241 519.8L240.4 516.2L239.9 512.2L239.5 508L239.3 503.6L239.4 499.3L239.8 495.2L240.4 491.1L241.3 487.1L242.4 483.1L243.7 479.1L245.4 475.1L247.3 471.1L249.8 466.8L253 462L256.5 457.2L259.9 452.7L262.8 448.8L264.9 446Z"/>
<path d="M256.7 403.7L253.8 404.7L249.8 406L245 407.6L240 409.3L235.1 410.9L230.8 412.5L227.3 413.8L224.2 415.1L221.4 416.4L218.5 417.6L215.2 418.9L211.1 420.4L205.8 422.2L199.7 424.2L193.1 426.3L186.4 428.3L180.1 430.3L174.5 432.1L169.5 433.6L165 435.1L160.8 436.4L156.9 437.6L153.2 438.8L149.7 439.8L146.2 440.7L142.9 441.6L139.7 442.3L136.9 442.9L134.6 443.5L132.9 443.9L133.1 445.3L134.9 445L137.3 444.6L140.1 444.2L143.3 443.6L146.8 443L150.3 442.2L153.9 441.4L157.7 440.5L161.7 439.5L166 438.4L170.6 437.2L175.5 435.9L181.3 434.5L187.7 432.9L194.5 431.2L201.2 429.5L207.5 427.8L212.9 426.4L217.3 425L220.9 423.8L224 422.7L226.8 421.7L229.8 420.6L233.2 419.5L237.5 418.3L242.4 416.9L247.5 415.5L252.3 414.2L256.4 413.1L259.3 412.3Z"/>
<path d="M255.7 414.7L253.3 416.5L249.9 419L245.9 421.9L241.7 425.1L237.5 428.3L233.8 431.2L230.7 433.8L227.9 436.2L225.2 438.5L222.4 441.1L219.2 444.1L215.5 447.8L210.9 452.4L205.8 457.8L200.3 463.6L194.7 469.5L189.3 475L184.3 479.9L179.7 484.2L175.3 488L171 491.6L166.9 495L162.7 498.3L158.4 501.4L154 504.6L149.6 507.6L145.2 510.5L140.8 513.2L136.5 515.6L132.5 517.7L128.6 519.2L124.5 520.5L120.5 521.4L116.9 522.2L113.8 522.8L111.6 523.3L111.8 524.7L114.1 524.3L117.2 523.9L120.9 523.2L125 522.4L129.2 521.3L133.5 519.7L137.7 517.8L142.1 515.5L146.6 512.9L151.2 510.1L155.8 507.2L160.4 504.2L164.8 501.1L169.1 498L173.5 494.7L177.9 491.2L182.5 487.4L187.3 483.3L192.6 478.5L198.3 473.1L204.1 467.4L209.8 461.8L215.1 456.6L219.7 452.2L223.6 448.8L226.8 445.9L229.6 443.5L232.3 441.4L235 439.2L238.2 436.8L241.9 434L246.1 431.1L250.4 428.1L254.4 425.3L257.9 423L260.3 421.3Z"/>
<path d="M241.4 434.5L240.9 435.4L240.4 436.5L239.7 437.8L238.9 439.2L237.9 441L236.5 442.9L234.7 445.2L232.4 447.9L229.9 450.9L227.2 454.1L224.6 457.4L222.2 460.7L220.1 463.9L218.1 467L216.2 470.2L214.4 473.6L212.6 477.1L210.8 480.8L208.9 485L206.8 489.5L204.7 494.2L202.9 498.9L201.5 503.5L200.7 507.9L200.8 512.1L201.7 516.4L203 520.4L204.4 524L205.7 527L206.5 529.2L207.5 528.8L206.8 526.6L205.6 523.5L204.4 519.9L203.3 516L202.6 512L202.7 508.1L203.6 504.1L205.2 499.8L207.2 495.3L209.4 490.7L211.7 486.4L213.8 482.4L215.7 478.7L217.6 475.4L219.6 472.3L221.6 469.2L223.6 466.3L225.8 463.3L228.2 460.3L230.9 457.3L233.6 454.3L236.3 451.4L238.8 448.7L240.9 446.3L242.5 444.2L243.8 442.3L244.8 440.6L245.6 439.3L246.2 438.2L246.6 437.5Z"/>
<path d="M211.8 458.7L211.2 459.8L210.6 461.1L209.7 462.6L208.6 464.5L207.1 466.8L205.1 469.6L202.5 473.2L199.4 477.6L196 482.3L192.2 487.2L188.4 492L184.5 496.2L180.5 500L176 503.5L171.4 506.9L166.7 510.3L162.3 513.9L158.4 517.8L155.1 522.1L152.2 526.7L149.5 531.3L147.1 536L144.9 540.4L142.8 544.6L140.6 548.7L138.6 552.9L136.7 556.9L135 560.5L133.6 563.5L132.6 565.8L133.4 566.2L134.6 564L136.1 561L137.8 557.4L139.8 553.5L142 549.4L144.2 545.4L146.5 541.3L148.9 536.9L151.4 532.4L154.1 527.9L157.1 523.6L160.4 519.6L164.2 516L168.5 512.6L173.2 509.4L178 506.1L182.7 502.6L187.1 498.8L191.2 494.5L195.3 489.7L199.3 484.9L202.9 480.2L206.2 475.9L208.9 472.4L211 469.5L212.7 467.1L213.9 465.1L214.9 463.5L215.6 462.2L216.2 461.3Z"/>
<path d="M235.3 377.6L234 378L232.2 378.6L230.1 379.3L227.7 380.1L225.1 380.9L222.3 381.7L219.3 382.7L216 383.9L212.6 385.1L209.1 386.2L205.4 387L201.7 387.3L197.7 387.1L193.3 386.2L188.7 385.1L184 384L179.4 383.1L175 382.8L170.8 383.2L166.6 384.2L162.6 385.4L159 386.7L156 387.8L153.9 388.5L154.1 389.5L156.4 388.8L159.4 387.9L163 386.8L167 385.8L171.1 385L175 384.8L179 385.3L183.4 386.3L188 387.7L192.7 389.1L197.3 390.2L201.7 390.7L205.9 390.5L209.9 389.8L213.7 388.8L217.3 387.7L220.5 386.7L223.5 385.9L226.3 385.2L229 384.5L231.5 383.8L233.6 383.3L235.4 382.8L236.7 382.4Z"/>
<path d="M197.1 354L196.2 353.1L195 351.6L193.4 350L191.8 348.2L190.1 346.6L188.6 345.3L187 344.3L185.4 343.5L183.8 342.8L182.3 342.3L181.1 341.9L180.2 341.5L179.8 342.5L180.7 342.9L181.8 343.4L183.2 344.1L184.7 344.8L186.1 345.7L187.4 346.7L188.7 348L190.1 349.7L191.6 351.5L192.9 353.3L194 354.9L194.9 356Z"/>
<path d="M175.9 382.8L174.9 382.1L173.4 381.2L171.7 380.1L169.9 378.9L168 377.9L166.4 377.1L164.7 376.7L163.1 376.5L161.5 376.4L160.1 376.5L158.9 376.5L158 376.5L158 377.5L158.8 377.6L160 377.7L161.4 377.8L162.9 378L164.3 378.4L165.6 378.9L167 379.7L168.6 380.8L170.3 382.1L171.8 383.3L173.2 384.4L174.1 385.2Z"/>
<path d="M184.1 406.8L183.2 407.5L181.8 408.6L180.3 409.9L178.6 411.1L177 412.3L175.6 413.2L174.2 413.8L172.8 414.3L171.3 414.7L169.9 415L168.8 415.3L167.9 415.5L168.1 416.5L169 416.4L170.1 416.2L171.6 416L173.2 415.8L174.8 415.4L176.4 414.8L178.1 414L179.9 413L181.7 411.9L183.4 410.8L184.8 409.9L185.9 409.2Z"/>
<path d="M148.9 440L148 441L146.8 442.4L145.3 444.2L143.8 446L142.4 447.8L141.2 449.5L140.3 451.1L139.5 452.7L138.9 454.3L138.3 455.7L137.9 456.9L137.5 457.8L138.5 458.2L138.9 457.4L139.4 456.2L140.1 454.8L140.9 453.4L141.8 451.9L142.8 450.5L144 449.1L145.5 447.5L147.2 445.8L148.8 444.3L150.1 443L151.1 442Z"/>
<path d="M173.7 433.2L173 434.4L172.1 436.1L171 438.1L169.7 440.1L168.5 441.9L167.4 443.3L166.2 444.4L164.8 445.2L163.3 446L161.9 446.6L160.7 447.1L159.8 447.5L160.2 448.5L161.1 448.1L162.3 447.8L163.8 447.3L165.5 446.6L167.1 445.8L168.6 444.7L170.1 443.2L171.6 441.4L173 439.4L174.4 437.5L175.5 435.9L176.3 434.8Z"/>
<path d="M159.9 501.4L158.9 501.1L157.5 500.6L155.8 500.1L153.9 499.5L151.9 499.1L150 499L148.2 499.2L146.2 499.6L144.2 500.1L142.4 500.7L141 501.2L139.9 501.5L140.1 502.5L141.2 502.3L142.8 501.9L144.6 501.5L146.5 501.2L148.3 501L150 501L151.5 501.3L153.2 501.8L154.9 502.5L156.5 503.2L157.9 503.8L158.9 504.2Z"/>
<path d="M186.5 480L185.4 479.6L183.9 479L182.1 478.3L180.1 477.7L178.1 477.1L176.1 476.9L174.1 477L172.1 477.4L170.2 478L168.4 478.6L166.9 479.2L165.9 479.5L166.1 480.5L167.2 480.3L168.8 479.9L170.6 479.5L172.5 479.2L174.3 479L175.9 479.1L177.5 479.5L179.2 480.2L181 481L182.6 481.9L184 482.7L185.1 483.2Z"/>
<path d="M213.1 334L214.2 332.8L215.8 331.1L217.6 329L219.6 326.8L221.4 324.5L222.8 322.5L223.8 320.5L224.6 318.5L225.3 316.5L225.8 314.7L226.2 313.2L226.5 312.2L225.5 311.8L225.1 312.9L224.6 314.4L224 316.1L223.2 317.9L222.3 319.8L221.2 321.5L219.8 323.3L217.9 325.2L215.9 327.3L213.9 329.2L212.1 330.8L210.9 332Z"/>
<path d="M210.9 305.8L210 305.1L208.6 304.2L207 303L205.4 301.8L203.9 300.6L202.7 299.4L201.8 298.2L200.9 296.8L200.1 295.3L199.5 293.9L198.9 292.7L198.5 291.8L197.5 292.2L197.9 293.1L198.3 294.3L198.9 295.8L199.5 297.5L200.3 299.1L201.3 300.6L202.5 302L203.9 303.5L205.5 305L206.9 306.3L208.2 307.4L209.1 308.2Z"/>
<path d="M131.8 517.8L131.1 518.8L130 520.2L128.6 521.9L127.3 523.8L126.1 525.7L125.1 527.6L124.5 529.5L124.1 531.5L123.9 533.5L123.7 535.3L123.6 536.8L123.5 537.9L124.5 538.1L124.7 537L124.9 535.5L125.3 533.7L125.7 531.8L126.2 530L126.9 528.4L127.8 526.9L129.1 525.2L130.6 523.5L132 522L133.3 520.6L134.2 519.6Z"/>
<path d="M217.4 448.3L216.1 448.5L214.3 448.8L212.2 449.2L209.9 449.6L207.7 450.2L205.6 450.9L203.7 451.9L201.7 453.2L199.9 454.5L198.2 455.7L196.8 456.8L195.7 457.6L196.3 458.4L197.4 457.8L198.9 456.8L200.7 455.8L202.6 454.7L204.6 453.7L206.4 453.1L208.3 452.6L210.4 452.3L212.6 452.1L214.7 451.9L216.5 451.8L217.8 451.7Z"/>
<path d="M397.6 370.9L398.9 369.3L400.6 367L402.7 364.3L405 361.4L407.1 358.5L408.9 356L410.3 354L411.8 352.1L413.5 349.9L415.1 347.4L416.5 344.3L417.3 340.9L417.4 337.3L416.9 333.8L416.2 330.4L415.2 327L414.1 323.5L412.9 319.9L411.5 316L409.9 311.5L408.1 306.9L406.2 302.5L404.5 298.4L402.8 295.1L401.4 292.4L399.9 290.3L398.6 288.7L397.4 287.4L396.3 286.3L395.3 285.1L394.3 283.8L393.3 282.5L392.4 281.2L391.5 280.1L390.9 279.2L390.3 278.5L388.7 279.5L389.1 280.3L389.6 281.3L390.3 282.5L391.1 283.9L391.9 285.4L392.7 286.9L393.7 288.3L394.7 289.7L395.6 291L396.6 292.5L397.6 294.4L398.6 296.9L399.6 300.3L400.8 304.4L402.1 308.9L403.2 313.6L404.3 318.1L405.1 322.1L405.8 325.7L406.4 329.1L406.8 332.2L407.1 335L407 337.3L406.7 339.1L406.2 340.4L405.5 341.5L404.4 342.7L402.9 344.2L401.1 346L399.1 348L397.1 350.3L394.7 352.7L392.3 355.2L389.9 357.5L387.8 359.6L386.4 361.1Z"/>
<path d="M407.4 308.6L407.8 306.3L408.5 303.1L409.2 299.2L409.9 295.2L410.3 291.1L410.4 287.5L410 284.1L409.1 280.8L408.1 277.6L407 274.7L406.1 272.3L405.5 270.6L404.5 270.8L405 272.7L405.6 275.1L406.4 278.1L407.1 281.2L407.5 284.5L407.6 287.5L407.2 290.7L406.4 294.5L405.3 298.4L404.2 302L403.2 305.2L402.6 307.4Z"/>
<path d="M399.7 289.8L399.5 288.2L399.1 286L398.7 283.4L398.2 280.7L397.6 278.1L397 275.7L396.3 273.7L395.4 271.7L394.5 269.8L393.7 268.2L393 266.8L392.5 265.8L391.5 266.2L392 267.3L392.5 268.7L393.2 270.4L393.9 272.3L394.5 274.3L395 276.3L395.3 278.5L395.6 281.1L395.8 283.8L396 286.4L396.1 288.6L396.3 290.2Z"/>
<path d="M410.8 301.7L412 300.3L413.6 298.4L415.6 296.1L417.7 293.6L419.7 291L421.5 288.5L423 285.9L424.2 283L425.4 280.2L426.5 277.7L427.8 275.7L429.1 274.5L430.9 273.9L433.3 273.8L436 274.1L438.6 274.7L440.9 275.2L442.5 275.5L442.7 274.5L441.2 274.1L438.9 273.4L436.3 272.6L433.5 272L430.7 271.9L428.1 272.5L426 274.2L424.3 276.4L422.8 279L421.4 281.7L420 284.3L418.5 286.5L416.7 288.6L414.6 290.9L412.3 293.1L410.2 295.2L408.4 297L407.2 298.3Z"/>
<path d="M424.5 283.2L424.6 281.7L424.7 279.6L424.9 277.2L425.1 274.6L425.5 272.2L425.9 270.3L426.5 268.7L427.3 267.1L428.2 265.6L429.1 264.3L429.9 263.1L430.4 262.3L429.6 261.7L429 262.5L428.1 263.5L427.1 264.8L426 266.3L425 267.9L424.1 269.7L423.5 271.8L422.9 274.3L422.5 276.8L422.1 279.3L421.8 281.4L421.5 282.8Z"/>
<path d="M402.1 367.6L403.3 366.1L405 364.1L406.9 361.7L409.1 359L411.5 356.1L413.8 353L416.1 349.9L418.7 346.4L421.3 342.7L424 339L426.6 335.3L429 331.7L431.3 328.4L433.6 325.2L435.9 321.9L438.2 318.6L440.3 315.1L442.4 311.3L444.4 307.3L446.4 303.1L448.2 298.8L450 294.4L451.6 289.9L452.9 285.3L454.1 280.3L455.1 274.9L455.9 269.4L456.6 264.3L457.2 260.1L457.6 257L455.6 256.6L455 259.7L454.1 263.9L453.1 268.9L451.9 274.2L450.5 279.4L449.1 284.1L447.4 288.4L445.6 292.6L443.6 296.7L441.5 300.8L439.4 304.6L437.2 308.3L435 311.7L432.7 314.8L430.4 317.8L427.9 320.8L425.4 323.9L422.8 327.1L420.1 330.4L417.3 333.9L414.4 337.4L411.5 340.8L408.8 344L406.2 347L403.8 349.7L401.4 352.4L399.1 354.9L397 357.1L395.2 359L393.9 360.4Z"/>
<path d="M446.1 299.5L448.5 299.3L452 299.1L456.2 298.9L460.5 298.6L464.6 298.1L468.1 297.5L470.9 296.6L473.2 295.6L475.3 294.5L477.1 293.3L478.8 292.1L480.6 290.9L482.5 289.5L484.4 287.8L486.2 286.2L487.9 284.6L489.3 283.3L490.3 282.4L489.7 281.6L488.6 282.5L487.1 283.7L485.3 285.1L483.3 286.5L481.4 287.9L479.4 289.1L477.6 290.2L475.8 291.3L474 292.2L472.1 293.1L470 293.8L467.5 294.3L464.3 294.6L460.3 294.8L456.1 294.7L452 294.6L448.4 294.5L445.9 294.5Z"/>
<path d="M439.7 312.2L442.1 312.5L445.6 312.9L449.7 313.4L454 313.9L458.3 314.1L462.1 313.9L465.6 313.2L469 312.1L472.2 310.7L475.1 309.4L477.4 308.2L479.2 307.5L478.8 306.5L477 307.2L474.5 308.1L471.6 309.2L468.4 310.2L465.1 311L461.9 311.3L458.4 311.2L454.4 310.6L450.2 309.9L446.2 309L442.8 308.3L440.3 307.8Z"/>
<path d="M453.4 281.5L454.4 280.4L456 278.8L457.9 277L459.8 274.9L461.6 272.8L463 270.6L464 268.4L464.8 266L465.4 263.6L465.8 261.4L466.2 259.5L466.5 258.1L465.5 257.9L465.1 259.2L464.5 261L463.8 263.2L463 265.4L462.1 267.5L461 269.4L459.5 271L457.7 272.8L455.6 274.5L453.6 276.1L451.9 277.5L450.6 278.5Z"/>
<path d="M402.1 365.4L403.5 364.4L405.4 363.2L407.7 361.6L410.4 359.9L413.4 358L416.7 355.9L420.5 353.5L425 350.7L429.9 347.8L434.8 344.8L439.4 342.1L443.6 339.7L447.2 337.8L450.6 336.2L453.8 334.8L456.8 333.4L459.8 332.1L462.6 330.6L465.4 329L468.2 327.3L470.7 325.5L473.1 323.9L475 322.6L476.4 321.6L475.6 320.4L474.1 321.2L472.1 322.4L469.7 323.8L467 325.3L464.2 326.8L461.4 328.2L458.6 329.4L455.6 330.5L452.5 331.6L449.2 332.8L445.5 334.2L441.6 335.9L437.2 337.9L432.3 340.4L427.2 343L422.1 345.6L417.4 348L413.3 350.1L409.8 351.9L406.6 353.7L403.8 355.3L401.4 356.6L399.4 357.7L397.9 358.6Z"/>
<path d="M399.2 371.3L401.2 370.5L404 369.4L407.2 368.2L410.9 366.7L414.8 365.3L418.9 363.8L423.2 362.3L428.1 360.8L433.2 359.2L438.5 357.5L443.7 355.6L448.8 353.6L453.7 351.3L458.8 348.7L463.7 345.9L468.4 343.3L472.8 340.8L476.5 338.9L479.7 337.3L482.6 336L485.1 334.9L487.2 334L488.9 333.3L490.3 332.7L489.7 331.3L488.4 331.8L486.6 332.4L484.4 333.2L481.8 334.1L478.9 335.3L475.5 336.7L471.6 338.6L467.1 340.7L462.3 343.1L457.2 345.6L452.2 347.8L447.2 349.8L442.3 351.5L437.1 353L431.8 354.4L426.6 355.7L421.7 357L417.1 358.2L412.9 359.5L408.8 360.8L405 362L401.7 363.1L398.9 364L396.8 364.7Z"/>
<path d="M461 331.5L462.1 332.1L463.6 333L465.4 334.1L467.5 335.2L469.5 336.3L471.6 337.1L473.8 337.6L476.1 337.9L478.5 338.2L480.7 338.3L482.6 338.4L483.9 338.5L484.1 337.5L482.7 337.3L480.9 337L478.7 336.6L476.4 336.1L474.3 335.6L472.4 334.9L470.7 334L468.8 332.9L467.1 331.6L465.4 330.4L464 329.3L463 328.5Z"/>
<path d="M394.6 376.5L399.8 375.8L407.1 374.9L415.7 373.8L424.7 372.7L433.2 371.7L440.3 370.8L445.8 370.1L450.4 369.6L454.6 369.1L458.7 368.6L463.2 368L468.3 367.2L474.7 366.1L482.1 364.8L489.7 363.3L496.9 362L503.1 360.8L507.5 360L506.5 354L502.1 354.6L495.9 355.4L488.6 356.3L480.9 357.3L473.6 358.1L467.3 358.8L462.2 359.3L457.9 359.6L453.8 359.8L449.6 360.1L444.9 360.3L439.3 360.6L432.2 361.1L423.6 361.6L414.6 362.2L406 362.7L398.6 363.2L393.4 363.5Z"/>
<path d="M399.2 391.4L401.6 390.7L405 389.9L408.9 388.9L413.2 387.8L417.3 386.8L421.1 385.9L424.6 385L427.7 384L430.7 383.1L433.6 382.4L436.6 381.9L439.9 381.5L443.7 381.5L447.7 381.6L452.1 382L456.8 382.5L461.9 383L467.3 383.6L473.7 384.2L481 385L488.7 385.9L496 386.7L502.2 387.5L506.6 388L507.4 382L503 381.3L496.9 380.3L489.6 379.1L482 377.9L474.6 376.8L468.3 375.8L462.9 375L457.9 374.3L453.1 373.6L448.5 373L444 372.6L439.7 372.5L435.5 372.7L431.8 373.2L428.4 373.9L425.2 374.7L422.1 375.4L418.9 376.1L415.1 376.9L410.9 377.7L406.6 378.6L402.6 379.4L399.2 380.1L396.8 380.6Z"/>
<path d="M425.2 382.5L427.3 382.3L430.2 382.1L433.6 381.8L437.5 381.4L441.5 380.9L445.4 380.2L449.4 379.3L453.7 378.2L458 377L462.4 375.8L466.5 374.8L470.4 373.9L473.9 373.3L477.4 372.7L480.7 372.3L483.9 372L487 371.8L490 371.7L493.1 371.8L496.3 372.1L499.5 372.4L502.5 372.9L505 373.2L506.8 373.5L507.2 370.5L505.4 370.2L502.9 369.8L500 369.3L496.7 368.8L493.3 368.5L490 368.3L486.8 368.3L483.6 368.4L480.3 368.7L476.9 369L473.4 369.5L469.6 370.1L465.6 370.9L461.3 371.9L457 373L452.6 374.1L448.4 375L444.6 375.8L440.8 376.3L437 376.7L433.2 377L429.8 377.2L426.9 377.4L424.8 377.5Z"/>
<path d="M399.4 403.3L403.6 398L403.3 396.2L398.7 403L396.3 402.8L397.1 403.1L399.3 404.3L402.9 406.4L407.8 409.4L413.6 412.9L419.7 416.5L426 420L431.8 423L437.1 425.6L442.3 428.1L447.5 430.5L453 432.6L458.8 434.3L465.1 435.6L472.3 436.3L480.3 436.4L488.5 436.1L496.1 435.7L502.6 435.2L507.1 435L506.9 428L502.3 428.1L495.8 428.3L488.3 428.5L480.4 428.5L472.9 428.2L466.5 427.4L461.1 426L456 424.3L451.1 422.2L446.3 419.9L441.3 417.3L436.2 414.6L430.8 411.5L424.9 407.9L419 404.2L413.4 400.5L408.5 397.3L404.7 394.9L402.2 393.5L400.6 392.6L397.3 392.2L392.7 399.3L392.6 398L396.6 392.7Z"/>
<path d="M423.9 391.3L426.6 392.1L430.2 393.2L434.5 394.6L439.2 396L444.1 397.6L448.9 399.2L453.8 401.1L459.2 403.5L464.8 405.9L470.5 408.2L476.1 410.2L481.4 411.4L486.7 411.7L491.9 411.3L496.8 410.4L501.2 409.4L504.8 408.5L507.4 408L506.6 404L503.9 404.5L500.2 405.3L496 406.1L491.4 406.8L486.7 407L482.2 406.6L477.6 405.3L472.4 403.4L467 400.9L461.5 398.3L456.2 395.7L451.1 393.6L446.2 391.7L441.3 389.9L436.5 388.3L432.3 386.8L428.7 385.6L426.1 384.7Z"/>
<path d="M400.3 411.4L400.8 411.9L401.4 412.6L402.3 413.6L403.7 414.9L405.6 416.7L408.3 419.2L412.1 422.4L416.8 426.2L422.1 430.4L427.4 434.9L432.5 439.4L436.9 443.8L440.7 448.3L444.4 453L447.9 457.9L451.1 462.7L453.9 467.3L456.2 471.5L457.8 475.3L458.7 478.9L459.3 482.6L459.9 486.4L461.1 490.3L463.2 493.9L466.1 496.9L469.5 499.2L473.1 501.1L476.7 502.7L480.3 504.1L483.8 505.6L487.7 507.2L492 508.9L496.3 510.4L500.3 511.8L503.7 512.9L506.1 513.7L507.9 509.1L505.4 508.1L502.1 506.9L498.1 505.4L493.9 503.7L489.8 502L486.2 500.4L482.7 498.7L479.1 497.2L475.8 495.6L472.8 493.9L470.3 492.1L468.4 490.1L467.2 487.8L466.5 485L466.1 481.6L465.5 477.6L464.6 473.1L462.8 468.5L460.4 463.7L457.6 458.7L454.4 453.6L450.9 448.3L447.1 443.2L443.1 438.2L438.5 433.3L433.3 428.3L427.9 423.5L422.7 419L418.2 415.1L414.7 412L412.3 409.7L410.7 408L409.6 406.8L408.9 406L408.3 405.3L407.7 404.6Z"/>
<path d="M437.1 441.7L437.6 443.7L438.4 446.6L439.3 449.9L440.2 453.4L440.8 456.9L441.1 460L441 462.9L440.6 466L439.9 469.2L439.2 472.5L438.6 475.9L438.3 479.4L438.3 482.9L438.4 486.4L438.7 489.9L439.1 493.4L439.5 496.8L439.9 500.1L440.4 503.4L441 506.9L441.6 510.3L442.2 513.4L442.7 516L443 517.9L444 517.7L443.8 515.8L443.4 513.2L443.1 510.1L442.7 506.7L442.3 503.2L442.1 499.9L441.9 496.6L441.7 493.2L441.5 489.8L441.5 486.3L441.5 482.9L441.7 479.6L442.2 476.5L443 473.3L443.9 470.1L444.8 466.9L445.5 463.5L445.9 460L445.8 456.3L445.3 452.5L444.6 448.7L443.9 445.2L443.3 442.4L442.9 440.3Z"/>
<path d="M456.5 469.5L456.3 471.4L455.9 474L455.4 477.2L454.9 480.5L454.5 483.8L454.3 486.8L454.1 489.5L454 492.1L454 494.6L454.1 497.1L454.4 499.6L454.9 502.1L455.9 504.6L457.2 507.1L458.6 509.5L460.1 511.7L461.3 513.5L462.2 514.9L463 514.3L462.3 512.9L461.2 511L460 508.7L458.8 506.3L457.7 503.8L457.1 501.5L456.8 499.3L456.7 497L456.8 494.7L457.1 492.3L457.4 489.8L457.7 487.2L458.2 484.4L458.9 481.2L459.6 478L460.4 474.9L461 472.3L461.5 470.5Z"/>
<path d="M464.3 492.2L464.4 493L464.7 494.2L464.9 495.5L465.1 497L465.3 498.5L465.4 500L465.5 501.6L465.5 503.5L465.4 505.4L465.4 507.3L465.3 508.8L465.3 510L466.3 510L466.5 508.9L466.7 507.4L466.9 505.6L467.2 503.6L467.4 501.7L467.6 500L467.6 498.4L467.6 496.8L467.5 495.2L467.4 493.8L467.3 492.7L467.3 491.8Z"/>
<path d="M448 429.9L449.6 431L451.8 432.4L454.4 434.2L457.4 436.2L460.6 438.4L464.1 440.6L468 443L472.5 445.5L477.2 448.3L481.9 451L486.2 453.6L490 456L493.3 458.3L496.5 460.7L499.4 463L501.9 465.1L504.1 466.9L505.7 468.2L508.3 465.2L506.8 463.8L504.7 461.9L502.2 459.7L499.3 457.2L496.2 454.6L492.8 452L489 449.3L484.6 446.5L480 443.5L475.5 440.6L471.2 437.9L467.5 435.4L464.2 433.1L461.1 430.9L458.2 428.8L455.7 426.9L453.6 425.3L452 424.1Z"/>
<path d="M456.4 467.9L457.6 468.9L459.3 470.2L461.3 471.8L463.6 473.5L466.1 475.3L468.9 476.9L472 478.5L475.3 479.9L478.9 481.3L482.5 482.7L486 484.2L489.2 485.6L492.3 487.3L495.7 489.1L498.9 491L501.9 492.7L504.4 494.2L506.2 495.3L507.8 492.7L506 491.6L503.5 490L500.6 488.2L497.4 486.1L494.1 484.2L490.8 482.4L487.5 480.7L484 479.1L480.5 477.5L477 476L473.8 474.5L471.1 473.1L468.7 471.5L466.4 469.8L464.2 468.1L462.4 466.5L460.8 465.1L459.6 464.1Z"/>
</g><g fill="#f0f0f0" stroke="none">
<path d="M267.8 397.8L264.5 397L259.7 395.9L254.2 394.6L248.5 393.2L243 391.7L238.3 390.3L234.3 389L230.6 387.7L227.1 386.3L223.9 384.9L220.8 383.3L217.9 381.6L215.1 379.7L212.6 377.4L210.1 374.9L207.5 372.2L204.8 369.5L201.8 367L198.6 364.6L195.4 362.4L192 360.2L188.7 358.1L185.5 356.3L182.4 354.6L179.3 353.2L176.1 351.9L173 350.9L170.3 350L168 349.3L166.3 348.7L165.7 350.1L167.4 350.8L169.6 351.8L172.3 352.9L175.1 354.2L178 355.7L180.8 357.4L183.6 359.3L186.6 361.4L189.6 363.7L192.6 366.1L195.5 368.6L198.2 371L200.6 373.6L202.9 376.3L205.2 379.2L207.6 382.1L210.3 385.1L213.3 387.8L216.6 390.1L219.9 392.3L223.4 394.2L227 396L230.8 397.8L234.9 399.7L239.7 401.6L245.2 403.7L251 405.7L256.4 407.6L261 409.1L264.2 410.2Z"/>
<path d="M265.4 406.7L261.2 405.7L255.3 404.3L248.2 402.7L240.6 401L233.2 399.7L226.4 399L220.3 399L214.5 399.6L209.1 400.5L204.1 401.5L199.3 402.3L194.7 402.7L190.2 402.7L185.7 402.4L181.3 402L176.9 401.5L172.7 401.2L168.5 401.1L164.5 401.3L160.4 401.7L156.6 402.2L153 402.8L149.8 403.6L147.2 404.6L145.1 405.9L143.7 407.6L142.9 409.4L142.4 411L142 412.3L141.7 413.2L143.1 413.8L143.5 412.8L144 411.5L144.5 410.1L145.3 408.7L146.4 407.5L148 406.6L150.4 406L153.4 405.5L156.9 405.1L160.7 404.9L164.6 404.8L168.5 404.9L172.3 405.2L176.4 405.9L180.6 406.6L185.1 407.4L189.8 408.1L194.7 408.5L199.8 408.4L205 407.9L210.1 407.3L215.2 406.8L220.4 406.7L225.6 407L231.6 408.2L238.5 409.9L245.7 412L252.5 414.2L258.4 416L262.6 417.3Z"/>
<path d="M176.3 401L174 400.8L170.7 400.4L166.9 400L162.8 399.6L158.9 399.4L155.4 399.3L152.3 399.4L149.2 399.7L146.2 400.1L143.5 400.6L141.3 400.9L139.6 401.2L139.8 402.2L141.4 402.1L143.7 401.9L146.3 401.7L149.3 401.5L152.3 401.4L155.4 401.5L158.7 401.9L162.5 402.5L166.5 403.2L170.2 403.9L173.4 404.6L175.7 405Z"/>
<path d="M230.4 386.7L230.8 384.4L231.3 381.1L231.8 377L232.4 372.6L232.7 368L232.6 363.6L232 359.3L231.2 355.1L230.1 350.8L228.9 346.7L227.7 342.8L226.5 339.1L225.4 335.6L224.1 332.3L222.9 329.1L221.6 326.2L220.5 323.5L219.5 321.1L218.6 319L217.9 317.3L217.2 315.8L216.6 314.4L216 312.8L215.2 310.7L214.3 308.1L213.3 305.1L212.3 301.9L211.3 298.7L210.3 295.5L209.5 292.6L208.8 289.9L208.1 287.3L207.5 284.8L206.9 282.4L206.6 280.1L206.3 278L206.4 275.8L206.6 273.5L206.9 271.3L207.4 269.3L207.7 267.5L208 266.2L206 265.8L205.7 267L205.2 268.7L204.7 270.8L204.2 273.1L203.8 275.6L203.7 278L203.8 280.4L204 282.9L204.4 285.4L204.9 288L205.5 290.7L206.1 293.4L206.7 296.4L207.5 299.7L208.4 303L209.2 306.3L210 309.4L210.8 312.1L211.5 314.3L212.1 316.1L212.6 317.7L213.2 319.2L213.8 320.8L214.5 322.9L215.4 325.5L216.4 328.3L217.5 331.2L218.5 334.3L219.5 337.5L220.5 340.9L221.4 344.5L222.3 348.4L223.3 352.5L224 356.5L224.6 360.4L224.8 364L224.7 367.7L224.2 371.7L223.5 375.7L222.7 379.5L222 382.8L221.6 385.3Z"/>
<path d="M212.2 309.4L211.1 310.1L209.6 311L207.9 312L206 313.1L204.2 314.2L202.6 315L201.1 315.8L199.5 316.5L198 317.1L196.6 317.7L195.4 318.2L194.5 318.5L194.9 319.5L195.8 319.2L197 318.9L198.5 318.5L200.1 318L201.8 317.5L203.4 317L205.2 316.3L207.2 315.5L209.2 314.6L211.1 313.8L212.7 313.1L213.8 312.6Z"/>
<path d="M221 320.2L221.1 318.6L221.1 316.4L221.2 313.8L221.4 311.1L221.8 308.6L222.3 306.5L223.2 304.8L224.2 303.1L225.5 301.4L226.9 299.8L228.4 298.2L229.7 296.6L231 295L232.4 293.4L233.8 291.9L235.1 290.4L236.2 289.2L237 288.3L236.2 287.7L235.4 288.5L234.2 289.6L232.8 290.9L231.3 292.4L229.7 293.9L228.3 295.4L226.9 296.8L225.3 298.3L223.8 299.8L222.2 301.5L220.8 303.4L219.7 305.5L218.8 307.9L218.2 310.6L217.8 313.5L217.5 316.1L217.2 318.3L217 319.8Z"/>
<path d="M208.3 293.7L208.7 292.7L209.2 291.5L209.9 290L210.5 288.4L211.2 286.9L211.9 285.5L212.5 284.2L213.3 282.8L214.1 281.4L214.9 280.1L215.5 279.1L216 278.3L215.2 277.7L214.6 278.4L213.9 279.4L213 280.6L212 281.9L211 283.2L210.1 284.5L209.3 285.9L208.4 287.4L207.6 288.9L206.8 290.3L206.1 291.5L205.7 292.3Z"/>
<path d="M210 298.9L208.9 298L207.3 296.9L205.5 295.6L203.7 294.1L202 292.7L200.7 291.4L199.7 290.1L198.8 288.7L198.1 287.2L197.4 285.8L196.9 284.7L196.5 283.8L195.5 284.2L195.9 285.1L196.3 286.3L196.8 287.8L197.5 289.4L198.3 291L199.3 292.6L200.6 294.1L202.2 295.8L204 297.4L205.6 299L207.1 300.2L208 301.1Z"/>
<path d="M225.8 344.8L227.1 343.3L229 341.2L231.3 338.7L233.6 336.1L235.7 333.4L237.4 330.9L238.6 328.7L239.5 326.5L240.2 324.4L240.7 322.3L241 320.2L241.1 318.1L241 315.7L240.6 313.1L240 310.6L239.4 308.3L238.8 306.3L238.5 304.9L237.5 305.1L237.7 306.5L238.1 308.6L238.5 310.9L238.8 313.4L239 315.8L238.9 317.9L238.6 319.9L238.1 321.8L237.6 323.6L236.8 325.4L235.8 327.2L234.6 329.1L232.9 331.1L230.7 333.4L228.2 335.8L225.8 338L223.7 339.9L222.2 341.2Z"/>
<path d="M206.2 343.2L205.2 342.7L203.7 342L202 341.2L200.2 340.4L198.6 339.5L197.2 338.6L196 337.6L194.8 336.6L193.7 335.5L192.6 334.3L191.6 333.1L190.5 331.7L189.4 330.2L188.2 328.3L187.1 326.4L186 324.5L185.1 322.9L184.4 321.8L183.6 322.2L184.1 323.4L184.8 325.1L185.6 327.1L186.5 329.2L187.5 331.3L188.5 333.1L189.4 334.6L190.4 336.1L191.3 337.5L192.4 338.9L193.6 340.2L194.8 341.4L196.3 342.7L198.1 343.9L199.8 345.1L201.5 346.1L202.8 347L203.8 347.6Z"/>
<path d="M214 349.5L212 349.6L209.3 349.7L206 349.9L202.6 350L199.2 350.2L196.1 350.2L193.2 350.2L190.3 350.1L187.5 350.1L184.7 349.9L181.9 349.8L179.1 349.6L176.2 349.3L173.1 348.9L170.1 348.5L167.2 348.1L164.8 347.8L163.1 347.5L162.9 348.5L164.6 348.9L167 349.4L169.8 350L172.9 350.7L175.9 351.3L178.9 351.8L181.6 352.2L184.4 352.6L187.3 353L190.1 353.3L193 353.6L195.9 353.8L199.1 354L202.6 354.2L206.1 354.3L209.3 354.4L212.1 354.4L214 354.5Z"/>
<path d="M194.7 356.5L192.6 356.6L189.8 356.8L186.5 357L183 357.2L179.5 357.3L176.5 357.3L173.6 357.1L170.5 356.8L167.5 356.5L164.8 356.1L162.5 355.7L160.8 355.5L160.6 356.5L162.3 356.9L164.5 357.4L167.3 358L170.2 358.7L173.3 359.3L176.3 359.7L179.5 360L183 360.2L186.6 360.3L189.9 360.4L192.7 360.4L194.7 360.5Z"/>
<path d="M198.5 370L197.4 370.9L196 372.2L194.3 373.7L192.4 375.2L190.5 376.7L188.7 377.9L186.7 379L184.6 380.1L182.3 381.2L180.1 382.1L178 383L176.1 383.8L174.4 384.5L172.9 385L171.5 385.5L170.2 385.9L169.2 386.3L168.4 386.5L168.6 387.5L169.4 387.3L170.5 387.1L171.8 386.8L173.3 386.5L175 386.1L176.7 385.6L178.7 385L180.9 384.4L183.3 383.7L185.7 382.9L188.1 382L190.3 381.1L192.5 379.9L194.8 378.6L196.9 377.2L198.8 375.9L200.4 374.8L201.5 374Z"/>
<path d="M185.4 362.3L183.9 362.9L181.8 363.8L179.4 364.7L176.8 365.7L174.3 366.4L171.9 366.9L169.6 367L166.9 366.8L164.3 366.5L161.8 366.1L159.6 365.7L158.1 365.5L157.9 366.5L159.4 366.8L161.5 367.4L164 368L166.7 368.6L169.4 369L172.1 369.1L174.7 368.8L177.5 368.3L180.3 367.5L182.9 366.8L185 366.1L186.6 365.7Z"/>
<path d="M168.8 401.4L167.5 402.5L165.7 403.9L163.5 405.7L161.3 407.6L159.1 409.4L157.3 411.1L155.6 412.7L154.1 414.4L152.7 416L151.4 417.5L150.4 418.8L149.6 419.7L150.4 420.3L151.2 419.5L152.4 418.4L153.8 417.1L155.4 415.7L157 414.2L158.7 412.9L160.7 411.5L163 409.9L165.5 408.3L167.8 406.8L169.8 405.5L171.2 404.6Z"/>
<path d="M261.3 423L257 423.7L251 424.7L243.8 425.9L236.3 427.1L229.2 428.3L223 429.2L217.8 430.1L213.2 431L208.9 431.8L204.9 432.5L201 432.9L196.9 433L192.7 432.7L188.4 432.1L184 431.2L179.5 430.2L174.9 429.3L170.3 428.6L165.7 428.1L161 427.8L156.3 427.5L151.8 427.2L147.5 427L143.6 426.7L139.8 426.3L136.1 425.8L132.6 425.4L129.4 424.9L126.8 424.5L124.8 424.3L124.6 425.7L126.5 426.1L129.1 426.7L132.2 427.3L135.7 428L139.4 428.7L143.2 429.3L147.2 429.9L151.5 430.4L156 430.9L160.6 431.5L165.2 432.1L169.7 432.8L174 433.8L178.3 434.9L182.8 436.2L187.3 437.4L191.9 438.4L196.7 439L201.2 439.1L205.6 438.9L209.9 438.5L214.3 437.9L218.9 437.3L224 436.8L230.2 436.2L237.4 435.5L245 434.7L252.2 434L258.3 433.4L262.7 433Z"/>
<path d="M169.2 428.6L167.5 429.3L165.2 430.2L162.5 431.3L159.7 432.4L156.9 433.4L154.5 434.3L152.5 434.9L150.7 435.4L149 435.8L147.2 436.3L145.2 436.8L143.1 437.5L140.5 438.4L137.5 439.5L134.4 440.7L131.5 441.9L129 442.8L127.2 443.5L127.6 444.5L129.4 443.9L131.9 443.2L134.9 442.3L138.1 441.4L141.1 440.6L143.7 439.9L145.9 439.4L147.8 439.1L149.6 438.8L151.4 438.5L153.3 438.2L155.5 437.7L158.1 437.1L160.9 436.3L163.9 435.4L166.7 434.6L169.1 433.9L170.8 433.4Z"/>
<path d="M141.6 438.6L141.4 439.5L141.1 440.7L140.8 442.2L140.5 443.8L140.2 445.4L140 446.9L140 448.3L140 449.8L140 451.3L140.1 452.7L140.2 453.9L140.2 454.7L141.2 454.7L141.3 453.9L141.3 452.7L141.4 451.4L141.6 449.9L141.7 448.5L142 447.1L142.3 445.8L142.8 444.3L143.2 442.9L143.7 441.5L144.2 440.3L144.4 439.4Z"/>
<path d="M176 437.2L175.4 438.1L174.5 439.4L173.4 441L172.2 442.8L171.2 444.5L170.4 446.1L169.8 447.6L169.4 448.9L169.2 450.2L169 451.5L168.9 452.8L168.7 454.4L168.4 456.5L168 459L167.7 461.7L167.4 464.2L167.1 466.4L166.9 467.9L167.9 468.1L168.3 466.6L168.8 464.5L169.5 462L170.1 459.4L170.8 457L171.3 455L171.8 453.4L172.1 452L172.4 450.9L172.7 449.9L173.1 448.9L173.6 447.9L174.5 446.6L175.6 445.2L176.9 443.7L178.1 442.3L179.2 441.1L180 440.2Z"/>
<path d="M198.5 434.7L197.4 436L195.9 437.9L194 440.2L192.1 442.6L190.4 445.1L189 447.4L188 449.7L187.2 452.2L186.6 454.5L186.2 456.7L185.8 458.5L185.5 459.9L186.5 460.1L186.9 458.8L187.5 457.1L188.1 455L188.9 452.7L189.9 450.6L191 448.6L192.5 446.6L194.4 444.5L196.5 442.3L198.5 440.3L200.3 438.6L201.5 437.3Z"/>
<path d="M259.6 431.6L255.3 434.1L249.3 437.6L242.2 441.8L234.8 446.1L227.7 450.3L221.6 454L216.4 457.2L211.8 460.3L207.6 463.1L203.5 465.8L199.5 468.3L195.4 470.6L191.1 472.8L186.7 474.9L182.4 476.8L178 478.6L173.7 480.2L169.3 481.7L164.9 483.1L160.3 484.4L155.8 485.6L151.3 486.6L147.1 487.3L143.3 487.7L139.8 487.7L136.5 487.5L133.4 486.9L130.4 486.2L127.8 485.5L125.4 484.8L123.4 484.2L121.8 483.6L120.6 483L119.5 482.4L118.5 481.6L117.4 480.7L116.3 479.6L115.3 478.2L114.3 476.7L113.4 475.2L112.6 473.9L112 473L110.8 473.8L111.3 474.7L112 476L112.8 477.6L113.8 479.2L114.8 480.8L116 482.1L117.1 483.2L118.2 484.1L119.5 484.9L120.9 485.7L122.6 486.5L124.6 487.2L127 488L129.7 488.9L132.7 489.7L136.1 490.5L139.6 491L143.5 491.1L147.6 490.9L152 490.3L156.6 489.6L161.3 488.6L166.1 487.5L170.7 486.3L175.2 485L179.8 483.5L184.4 481.9L189 480.2L193.6 478.3L198.2 476.2L202.7 473.9L207 471.5L211.3 469L215.7 466.4L220.3 463.6L225.4 460.8L231.7 457.4L239 453.6L246.6 449.6L253.9 445.9L260 442.7L264.4 440.4Z"/>
<path d="M142.4 487.1L141 487.6L139 488.4L136.7 489.3L134.2 490.3L131.8 491.2L129.7 491.9L127.8 492.4L125.7 492.9L123.8 493.4L122 493.8L120.4 494.1L119.3 494.3L119.5 495.3L120.6 495.2L122.2 495.1L124 494.9L126 494.7L128.2 494.5L130.3 494.1L132.5 493.7L135.1 493.1L137.7 492.4L140.1 491.8L142.1 491.3L143.6 490.9Z"/>
<path d="M124.6 484.6L123.6 484.9L122.2 485.4L120.6 486L118.9 486.5L117.3 486.9L116.1 487.1L115 486.9L113.9 486.6L112.8 486L111.8 485.5L110.9 484.9L110.3 484.6L109.7 485.4L110.3 485.8L111.1 486.5L112.1 487.2L113.2 487.9L114.5 488.6L115.9 488.9L117.6 488.9L119.3 488.7L121.2 488.4L122.9 488L124.4 487.7L125.4 487.4Z"/>
<path d="M160.3 487.5L159.6 488.3L158.5 489.4L157.3 490.6L155.9 492L154.7 493.5L153.6 494.8L152.8 496.1L152.1 497.3L151.6 498.4L151.1 499.6L150.6 500.9L150.2 502.4L149.8 504.2L149.4 506.2L149 508.4L148.7 510.4L148.4 512.2L148.2 513.4L149.2 513.6L149.6 512.4L150.1 510.7L150.7 508.8L151.3 506.7L152 504.8L152.6 503.2L153.2 501.9L153.8 500.8L154.3 499.9L154.9 499L155.6 498.1L156.4 497.2L157.5 496.1L158.8 495L160.2 493.9L161.6 492.9L162.8 491.9L163.7 491.3Z"/>
<path d="M193.8 472.9L193.6 474.6L193.3 476.9L192.9 479.8L192.5 482.8L192.1 486L191.7 489L191.4 492.1L191 495.3L190.6 498.7L190.3 502L190 505.1L190 507.9L190.1 510.4L190.3 512.6L190.6 514.6L191 516.5L191.5 518.3L192 520.2L192.6 522.4L193.4 524.7L194.3 527L195.1 529.1L195.8 530.9L196.3 532.2L197.3 531.8L196.9 530.5L196.3 528.7L195.7 526.5L195 524.2L194.4 521.9L194 519.8L193.7 517.8L193.3 516L193.1 514.2L193 512.4L192.9 510.3L193 508.1L193.3 505.4L193.8 502.4L194.4 499.2L195 496L195.7 492.8L196.3 489.8L196.9 486.8L197.6 483.7L198.2 480.7L198.8 478L199.4 475.6L199.8 473.9Z"/>
<path d="M188.5 507.8L188.4 510L188.4 513.1L188.4 516.5L188.2 520.1L187.7 523.4L187 526.1L186 528.1L184.5 530L182.7 531.9L180.7 533.6L178.8 535.3L177.1 537L175.6 538.3L174.3 539.4L173.1 540.5L171.8 541.6L170.4 543.1L169.1 544.9L167.7 547.4L166.3 550.4L164.8 553.6L163.5 556.8L162.4 559.4L161.5 561.3L162.5 561.7L163.4 559.9L164.7 557.3L166.2 554.3L167.8 551.2L169.4 548.3L170.9 546.1L172.2 544.5L173.4 543.4L174.6 542.4L175.9 541.5L177.4 540.4L178.9 539L180.7 537.6L182.7 536L184.9 534.3L187 532.4L189 530.2L190.6 527.5L191.6 524.3L192.3 520.7L192.8 516.9L193.1 513.3L193.3 510.3L193.5 508.2Z"/>
<path d="M201.8 470.3L202.3 473.6L202.9 478.2L203.7 483.6L204.4 489.3L205.1 495L205.6 500.1L206 504.9L206.3 509.8L206.5 514.6L206.6 519.2L206.7 523.3L206.6 526.7L206.4 529.5L206 531.8L205.5 533.6L205.1 535.1L204.6 536.3L204.3 537.3L205.3 537.7L205.6 536.7L206.1 535.5L206.8 534L207.4 532.1L208 529.8L208.4 526.9L208.7 523.3L209 519.2L209.2 514.6L209.3 509.7L209.4 504.8L209.4 499.9L209.3 494.7L209 488.9L208.6 483.1L208.3 477.6L208 473L207.8 469.7Z"/>
<path d="M228.6 451L228.3 452.3L227.8 454.1L227.2 456.3L226.7 458.9L226.2 461.9L225.9 465.1L225.8 468.7L225.7 472.7L225.8 477.1L226 481.5L226.4 485.7L226.9 489.7L227.8 493.3L229.1 496.8L230.5 499.9L231.7 502.8L232.6 505.5L232.9 507.9L232.4 510.3L231.2 512.9L229.7 515.5L228 517.8L226.6 519.7L225.6 521.2L226.4 521.8L227.5 520.4L229.1 518.6L231 516.4L232.8 513.8L234.3 511.1L235.1 508.1L235.1 505L234.4 501.9L233.3 498.8L232.2 495.6L231.3 492.4L230.7 489.1L230.6 485.5L230.6 481.4L230.7 477.1L231 472.9L231.3 469L231.7 465.7L232.2 462.9L232.8 460.4L233.6 458.1L234.3 456.1L234.9 454.3L235.4 453Z"/>
<path d="M227.3 488.1L226.4 489.2L225 490.9L223.4 492.9L221.7 495L220.2 497.2L218.9 499.4L218 501.6L217.3 504L216.7 506.4L216.2 508.7L215.8 510.5L215.5 511.9L216.5 512.1L216.9 510.8L217.5 509L218.2 506.9L219.1 504.6L220 502.5L221.1 500.6L222.4 498.8L224.1 496.9L225.9 495L227.7 493.3L229.2 491.8L230.3 490.7Z"/>
<path d="M190.1 478.8L188.3 479.7L185.9 481.1L183 482.7L180 484.4L176.8 486.1L173.9 487.6L171 488.9L168 490.2L164.9 491.6L161.9 492.8L158.8 494L155.9 495.2L153 496.3L150.2 497.3L147.5 498.3L144.7 499.2L142 500.1L139.4 501L136.8 501.9L134.2 502.6L131.5 503.4L128.9 504.2L126.3 505.2L123.8 506.4L121.5 508L119.2 509.7L117.1 511.5L115.1 513.4L113.4 515.3L111.9 517L110.7 518.5L109.7 519.9L109 521.2L108.4 522.7L107.9 524.4L107.4 526.5L106.8 529.1L106.1 532.2L105.4 535.7L104.9 539.2L104.7 542.6L105 545.7L105.9 548.6L107.4 551.3L109.1 553.9L110.9 556.1L112.4 558L113.4 559.3L114.6 558.5L113.6 557L112.2 555.1L110.5 552.9L109 550.4L107.7 547.8L107 545.3L106.9 542.6L107.2 539.4L107.7 536.1L108.5 532.8L109.3 529.7L110 527.1L110.6 525.2L111.1 523.7L111.6 522.5L112.2 521.4L113 520.3L114.1 519L115.6 517.4L117.3 515.7L119.2 514L121.3 512.3L123.4 510.8L125.6 509.6L127.7 508.6L130.1 507.8L132.6 507.1L135.2 506.4L137.9 505.7L140.6 505L143.3 504.1L146.1 503.3L148.8 502.4L151.7 501.5L154.6 500.6L157.5 499.6L160.5 498.5L163.6 497.4L166.8 496.2L170 495L173.1 493.7L176.1 492.4L179.3 491L182.5 489.4L185.7 487.8L188.7 486.2L191.1 485L192.9 484Z"/>
<path d="M107 525.6L105.9 526.4L104.4 527.6L102.7 528.9L100.8 530.4L99 531.8L97.4 533.1L95.9 534.4L94.4 535.6L92.9 536.8L91.6 538L90.5 538.9L89.7 539.6L90.3 540.4L91.2 539.8L92.4 539L93.8 538L95.4 537L97 535.9L98.6 534.9L100.3 533.8L102.3 532.6L104.3 531.3L106.2 530.1L107.8 529.1L109 528.4Z"/>
<path d="M182.1 505.9L180.6 507L178.6 508.4L176.3 510.2L173.8 512L171.2 513.7L168.9 515.3L166.8 516.6L164.9 517.9L163 519.1L161 520.3L158.7 521.4L156.2 522.5L153.1 523.5L149.6 524.6L145.9 525.6L142.1 526.5L138.3 527.4L134.9 528L131.5 528.4L127.9 528.7L124.5 528.8L121.3 528.9L118.7 528.9L116.7 529L116.7 530L118.6 530.1L121.3 530.2L124.5 530.3L128 530.3L131.6 530.3L135.1 530L138.7 529.5L142.5 528.9L146.5 528.2L150.3 527.4L154 526.5L157.2 525.5L160.1 524.5L162.5 523.5L164.8 522.4L166.9 521.2L168.9 520L171.1 518.7L173.5 517.3L176.2 515.7L178.9 514L181.3 512.4L183.4 511L184.9 510.1Z"/>
<path d="M168.6 524.7L167 525.9L164.7 527.5L161.9 529.5L159.1 531.5L156.3 533.6L153.9 535.3L151.8 536.8L149.8 538.1L147.8 539.5L145.8 540.9L144 542.5L142.2 544.4L140.5 546.7L139 549.1L137.6 551.7L136.2 554.3L135 556.9L133.9 559.5L132.9 562.3L131.9 565.2L131.1 568.1L130.3 570.8L129.7 573.1L129.3 574.8L130.7 575.2L131.3 573.6L132 571.3L132.9 568.7L133.9 565.8L134.9 563L136.1 560.5L137.3 558L138.6 555.5L140 553L141.5 550.7L143 548.5L144.6 546.6L146.3 545L148 543.7L149.8 542.5L151.8 541.3L153.9 540.1L156.1 538.7L158.7 537L161.5 535.2L164.5 533.3L167.3 531.5L169.7 530L171.4 528.9Z"/>
<path d="M149.6 538.3L148 538.8L145.9 539.4L143.3 540.1L140.5 541L137.9 541.9L135.5 543L133.4 544.4L131.5 546L129.6 547.7L128 549.3L126.7 550.7L125.7 551.6L126.3 552.4L127.4 551.5L128.9 550.3L130.6 548.8L132.5 547.3L134.5 546L136.5 545L138.7 544.2L141.3 543.5L144 542.9L146.6 542.4L148.8 542L150.4 541.7Z"/>
<path d="M259.1 442L257.3 444.9L254.6 448.9L251.4 453.7L248.1 458.9L245.1 464.1L242.7 468.9L240.9 473.3L239.4 477.7L238.2 482L237.3 486.3L236.7 490.6L236.2 494.8L236.1 499.3L236.4 503.8L236.8 508.3L237.5 512.6L238.2 516.6L239 520.2L240 523.5L241.2 526.6L242.5 529.4L243.7 531.8L244.8 533.7L245.5 535.2L246.5 534.8L245.8 533.2L244.9 531.2L243.8 528.8L242.7 526L241.7 523L241 519.8L240.4 516.2L239.9 512.2L239.5 508L239.3 503.6L239.4 499.3L239.8 495.2L240.4 491.1L241.3 487.1L242.4 483.1L243.7 479.1L245.4 475.1L247.3 471.1L249.8 466.8L253 462L256.5 457.2L259.9 452.7L262.8 448.8L264.9 446Z"/>
<path d="M256.7 403.7L253.8 404.7L249.8 406L245 407.6L240 409.3L235.1 410.9L230.8 412.5L227.3 413.8L224.2 415.1L221.4 416.4L218.5 417.6L215.2 418.9L211.1 420.4L205.8 422.2L199.7 424.2L193.1 426.3L186.4 428.3L180.1 430.3L174.5 432.1L169.5 433.6L165 435.1L160.8 436.4L156.9 437.6L153.2 438.8L149.7 439.8L146.2 440.7L142.9 441.6L139.7 442.3L136.9 442.9L134.6 443.5L132.9 443.9L133.1 445.3L134.9 445L137.3 444.6L140.1 444.2L143.3 443.6L146.8 443L150.3 442.2L153.9 441.4L157.7 440.5L161.7 439.5L166 438.4L170.6 437.2L175.5 435.9L181.3 434.5L187.7 432.9L194.5 431.2L201.2 429.5L207.5 427.8L212.9 426.4L217.3 425L220.9 423.8L224 422.7L226.8 421.7L229.8 420.6L233.2 419.5L237.5 418.3L242.4 416.9L247.5 415.5L252.3 414.2L256.4 413.1L259.3 412.3Z"/>
<path d="M255.7 414.7L253.3 416.5L249.9 419L245.9 421.9L241.7 425.1L237.5 428.3L233.8 431.2L230.7 433.8L227.9 436.2L225.2 438.5L222.4 441.1L219.2 444.1L215.5 447.8L210.9 452.4L205.8 457.8L200.3 463.6L194.7 469.5L189.3 475L184.3 479.9L179.7 484.2L175.3 488L171 491.6L166.9 495L162.7 498.3L158.4 501.4L154 504.6L149.6 507.6L145.2 510.5L140.8 513.2L136.5 515.6L132.5 517.7L128.6 519.2L124.5 520.5L120.5 521.4L116.9 522.2L113.8 522.8L111.6 523.3L111.8 524.7L114.1 524.3L117.2 523.9L120.9 523.2L125 522.4L129.2 521.3L133.5 519.7L137.7 517.8L142.1 515.5L146.6 512.9L151.2 510.1L155.8 507.2L160.4 504.2L164.8 501.1L169.1 498L173.5 494.7L177.9 491.2L182.5 487.4L187.3 483.3L192.6 478.5L198.3 473.1L204.1 467.4L209.8 461.8L215.1 456.6L219.7 452.2L223.6 448.8L226.8 445.9L229.6 443.5L232.3 441.4L235 439.2L238.2 436.8L241.9 434L246.1 431.1L250.4 428.1L254.4 425.3L257.9 423L260.3 421.3Z"/>
<path d="M241.4 434.5L240.9 435.4L240.4 436.5L239.7 437.8L238.9 439.2L237.9 441L236.5 442.9L234.7 445.2L232.4 447.9L229.9 450.9L227.2 454.1L224.6 457.4L222.2 460.7L220.1 463.9L218.1 467L216.2 470.2L214.4 473.6L212.6 477.1L210.8 480.8L208.9 485L206.8 489.5L204.7 494.2L202.9 498.9L201.5 503.5L200.7 507.9L200.8 512.1L201.7 516.4L203 520.4L204.4 524L205.7 527L206.5 529.2L207.5 528.8L206.8 526.6L205.6 523.5L204.4 519.9L203.3 516L202.6 512L202.7 508.1L203.6 504.1L205.2 499.8L207.2 495.3L209.4 490.7L211.7 486.4L213.8 482.4L215.7 478.7L217.6 475.4L219.6 472.3L221.6 469.2L223.6 466.3L225.8 463.3L228.2 460.3L230.9 457.3L233.6 454.3L236.3 451.4L238.8 448.7L240.9 446.3L242.5 444.2L243.8 442.3L244.8 440.6L245.6 439.3L246.2 438.2L246.6 437.5Z"/>
<path d="M211.8 458.7L211.2 459.8L210.6 461.1L209.7 462.6L208.6 464.5L207.1 466.8L205.1 469.6L202.5 473.2L199.4 477.6L196 482.3L192.2 487.2L188.4 492L184.5 496.2L180.5 500L176 503.5L171.4 506.9L166.7 510.3L162.3 513.9L158.4 517.8L155.1 522.1L152.2 526.7L149.5 531.3L147.1 536L144.9 540.4L142.8 544.6L140.6 548.7L138.6 552.9L136.7 556.9L135 560.5L133.6 563.5L132.6 565.8L133.4 566.2L134.6 564L136.1 561L137.8 557.4L139.8 553.5L142 549.4L144.2 545.4L146.5 541.3L148.9 536.9L151.4 532.4L154.1 527.9L157.1 523.6L160.4 519.6L164.2 516L168.5 512.6L173.2 509.4L178 506.1L182.7 502.6L187.1 498.8L191.2 494.5L195.3 489.7L199.3 484.9L202.9 480.2L206.2 475.9L208.9 472.4L211 469.5L212.7 467.1L213.9 465.1L214.9 463.5L215.6 462.2L216.2 461.3Z"/>
<path d="M235.3 377.6L234 378L232.2 378.6L230.1 379.3L227.7 380.1L225.1 380.9L222.3 381.7L219.3 382.7L216 383.9L212.6 385.1L209.1 386.2L205.4 387L201.7 387.3L197.7 387.1L193.3 386.2L188.7 385.1L184 384L179.4 383.1L175 382.8L170.8 383.2L166.6 384.2L162.6 385.4L159 386.7L156 387.8L153.9 388.5L154.1 389.5L156.4 388.8L159.4 387.9L163 386.8L167 385.8L171.1 385L175 384.8L179 385.3L183.4 386.3L188 387.7L192.7 389.1L197.3 390.2L201.7 390.7L205.9 390.5L209.9 389.8L213.7 388.8L217.3 387.7L220.5 386.7L223.5 385.9L226.3 385.2L229 384.5L231.5 383.8L233.6 383.3L235.4 382.8L236.7 382.4Z"/>
<path d="M197.1 354L196.2 353.1L195 351.6L193.4 350L191.8 348.2L190.1 346.6L188.6 345.3L187 344.3L185.4 343.5L183.8 342.8L182.3 342.3L181.1 341.9L180.2 341.5L179.8 342.5L180.7 342.9L181.8 343.4L183.2 344.1L184.7 344.8L186.1 345.7L187.4 346.7L188.7 348L190.1 349.7L191.6 351.5L192.9 353.3L194 354.9L194.9 356Z"/>
<path d="M175.9 382.8L174.9 382.1L173.4 381.2L171.7 380.1L169.9 378.9L168 377.9L166.4 377.1L164.7 376.7L163.1 376.5L161.5 376.4L160.1 376.5L158.9 376.5L158 376.5L158 377.5L158.8 377.6L160 377.7L161.4 377.8L162.9 378L164.3 378.4L165.6 378.9L167 379.7L168.6 380.8L170.3 382.1L171.8 383.3L173.2 384.4L174.1 385.2Z"/>
<path d="M184.1 406.8L183.2 407.5L181.8 408.6L180.3 409.9L178.6 411.1L177 412.3L175.6 413.2L174.2 413.8L172.8 414.3L171.3 414.7L169.9 415L168.8 415.3L167.9 415.5L168.1 416.5L169 416.4L170.1 416.2L171.6 416L173.2 415.8L174.8 415.4L176.4 414.8L178.1 414L179.9 413L181.7 411.9L183.4 410.8L184.8 409.9L185.9 409.2Z"/>
<path d="M148.9 440L148 441L146.8 442.4L145.3 444.2L143.8 446L142.4 447.8L141.2 449.5L140.3 451.1L139.5 452.7L138.9 454.3L138.3 455.7L137.9 456.9L137.5 457.8L138.5 458.2L138.9 457.4L139.4 456.2L140.1 454.8L140.9 453.4L141.8 451.9L142.8 450.5L144 449.1L145.5 447.5L147.2 445.8L148.8 444.3L150.1 443L151.1 442Z"/>
<path d="M173.7 433.2L173 434.4L172.1 436.1L171 438.1L169.7 440.1L168.5 441.9L167.4 443.3L166.2 444.4L164.8 445.2L163.3 446L161.9 446.6L160.7 447.1L159.8 447.5L160.2 448.5L161.1 448.1L162.3 447.8L163.8 447.3L165.5 446.6L167.1 445.8L168.6 444.7L170.1 443.2L171.6 441.4L173 439.4L174.4 437.5L175.5 435.9L176.3 434.8Z"/>
<path d="M159.9 501.4L158.9 501.1L157.5 500.6L155.8 500.1L153.9 499.5L151.9 499.1L150 499L148.2 499.2L146.2 499.6L144.2 500.1L142.4 500.7L141 501.2L139.9 501.5L140.1 502.5L141.2 502.3L142.8 501.9L144.6 501.5L146.5 501.2L148.3 501L150 501L151.5 501.3L153.2 501.8L154.9 502.5L156.5 503.2L157.9 503.8L158.9 504.2Z"/>
<path d="M186.5 480L185.4 479.6L183.9 479L182.1 478.3L180.1 477.7L178.1 477.1L176.1 476.9L174.1 477L172.1 477.4L170.2 478L168.4 478.6L166.9 479.2L165.9 479.5L166.1 480.5L167.2 480.3L168.8 479.9L170.6 479.5L172.5 479.2L174.3 479L175.9 479.1L177.5 479.5L179.2 480.2L181 481L182.6 481.9L184 482.7L185.1 483.2Z"/>
<path d="M213.1 334L214.2 332.8L215.8 331.1L217.6 329L219.6 326.8L221.4 324.5L222.8 322.5L223.8 320.5L224.6 318.5L225.3 316.5L225.8 314.7L226.2 313.2L226.5 312.2L225.5 311.8L225.1 312.9L224.6 314.4L224 316.1L223.2 317.9L222.3 319.8L221.2 321.5L219.8 323.3L217.9 325.2L215.9 327.3L213.9 329.2L212.1 330.8L210.9 332Z"/>
<path d="M210.9 305.8L210 305.1L208.6 304.2L207 303L205.4 301.8L203.9 300.6L202.7 299.4L201.8 298.2L200.9 296.8L200.1 295.3L199.5 293.9L198.9 292.7L198.5 291.8L197.5 292.2L197.9 293.1L198.3 294.3L198.9 295.8L199.5 297.5L200.3 299.1L201.3 300.6L202.5 302L203.9 303.5L205.5 305L206.9 306.3L208.2 307.4L209.1 308.2Z"/>
<path d="M131.8 517.8L131.1 518.8L130 520.2L128.6 521.9L127.3 523.8L126.1 525.7L125.1 527.6L124.5 529.5L124.1 531.5L123.9 533.5L123.7 535.3L123.6 536.8L123.5 537.9L124.5 538.1L124.7 537L124.9 535.5L125.3 533.7L125.7 531.8L126.2 530L126.9 528.4L127.8 526.9L129.1 525.2L130.6 523.5L132 522L133.3 520.6L134.2 519.6Z"/>
<path d="M217.4 448.3L216.1 448.5L214.3 448.8L212.2 449.2L209.9 449.6L207.7 450.2L205.6 450.9L203.7 451.9L201.7 453.2L199.9 454.5L198.2 455.7L196.8 456.8L195.7 457.6L196.3 458.4L197.4 457.8L198.9 456.8L200.7 455.8L202.6 454.7L204.6 453.7L206.4 453.1L208.3 452.6L210.4 452.3L212.6 452.1L214.7 451.9L216.5 451.8L217.8 451.7Z"/>
<path d="M397.6 370.9L398.9 369.3L400.6 367L402.7 364.3L405 361.4L407.1 358.5L408.9 356L410.3 354L411.8 352.1L413.5 349.9L415.1 347.4L416.5 344.3L417.3 340.9L417.4 337.3L416.9 333.8L416.2 330.4L415.2 327L414.1 323.5L412.9 319.9L411.5 316L409.9 311.5L408.1 306.9L406.2 302.5L404.5 298.4L402.8 295.1L401.4 292.4L399.9 290.3L398.6 288.7L397.4 287.4L396.3 286.3L395.3 285.1L394.3 283.8L393.3 282.5L392.4 281.2L391.5 280.1L390.9 279.2L390.3 278.5L388.7 279.5L389.1 280.3L389.6 281.3L390.3 282.5L391.1 283.9L391.9 285.4L392.7 286.9L393.7 288.3L394.7 289.7L395.6 291L396.6 292.5L397.6 294.4L398.6 296.9L399.6 300.3L400.8 304.4L402.1 308.9L403.2 313.6L404.3 318.1L405.1 322.1L405.8 325.7L406.4 329.1L406.8 332.2L407.1 335L407 337.3L406.7 339.1L406.2 340.4L405.5 341.5L404.4 342.7L402.9 344.2L401.1 346L399.1 348L397.1 350.3L394.7 352.7L392.3 355.2L389.9 357.5L387.8 359.6L386.4 361.1Z"/>
<path d="M407.4 308.6L407.8 306.3L408.5 303.1L409.2 299.2L409.9 295.2L410.3 291.1L410.4 287.5L410 284.1L409.1 280.8L408.1 277.6L407 274.7L406.1 272.3L405.5 270.6L404.5 270.8L405 272.7L405.6 275.1L406.4 278.1L407.1 281.2L407.5 284.5L407.6 287.5L407.2 290.7L406.4 294.5L405.3 298.4L404.2 302L403.2 305.2L402.6 307.4Z"/>
<path d="M399.7 289.8L399.5 288.2L399.1 286L398.7 283.4L398.2 280.7L397.6 278.1L397 275.7L396.3 273.7L395.4 271.7L394.5 269.8L393.7 268.2L393 266.8L392.5 265.8L391.5 266.2L392 267.3L392.5 268.7L393.2 270.4L393.9 272.3L394.5 274.3L395 276.3L395.3 278.5L395.6 281.1L395.8 283.8L396 286.4L396.1 288.6L396.3 290.2Z"/>
<path d="M410.8 301.7L412 300.3L413.6 298.4L415.6 296.1L417.7 293.6L419.7 291L421.5 288.5L423 285.9L424.2 283L425.4 280.2L426.5 277.7L427.8 275.7L429.1 274.5L430.9 273.9L433.3 273.8L436 274.1L438.6 274.7L440.9 275.2L442.5 275.5L442.7 274.5L441.2 274.1L438.9 273.4L436.3 272.6L433.5 272L430.7 271.9L428.1 272.5L426 274.2L424.3 276.4L422.8 279L421.4 281.7L420 284.3L418.5 286.5L416.7 288.6L414.6 290.9L412.3 293.1L410.2 295.2L408.4 297L407.2 298.3Z"/>
<path d="M424.5 283.2L424.6 281.7L424.7 279.6L424.9 277.2L425.1 274.6L425.5 272.2L425.9 270.3L426.5 268.7L427.3 267.1L428.2 265.6L429.1 264.3L429.9 263.1L430.4 262.3L429.6 261.7L429 262.5L428.1 263.5L427.1 264.8L426 266.3L425 267.9L424.1 269.7L423.5 271.8L422.9 274.3L422.5 276.8L422.1 279.3L421.8 281.4L421.5 282.8Z"/>
<path d="M402.1 367.6L403.3 366.1L405 364.1L406.9 361.7L409.1 359L411.5 356.1L413.8 353L416.1 349.9L418.7 346.4L421.3 342.7L424 339L426.6 335.3L429 331.7L431.3 328.4L433.6 325.2L435.9 321.9L438.2 318.6L440.3 315.1L442.4 311.3L444.4 307.3L446.4 303.1L448.2 298.8L450 294.4L451.6 289.9L452.9 285.3L454.1 280.3L455.1 274.9L455.9 269.4L456.6 264.3L457.2 260.1L457.6 257L455.6 256.6L455 259.7L454.1 263.9L453.1 268.9L451.9 274.2L450.5 279.4L449.1 284.1L447.4 288.4L445.6 292.6L443.6 296.7L441.5 300.8L439.4 304.6L437.2 308.3L435 311.7L432.7 314.8L430.4 317.8L427.9 320.8L425.4 323.9L422.8 327.1L420.1 330.4L417.3 333.9L414.4 337.4L411.5 340.8L408.8 344L406.2 347L403.8 349.7L401.4 352.4L399.1 354.9L397 357.1L395.2 359L393.9 360.4Z"/>
<path d="M446.1 299.5L448.5 299.3L452 299.1L456.2 298.9L460.5 298.6L464.6 298.1L468.1 297.5L470.9 296.6L473.2 295.6L475.3 294.5L477.1 293.3L478.8 292.1L480.6 290.9L482.5 289.5L484.4 287.8L486.2 286.2L487.9 284.6L489.3 283.3L490.3 282.4L489.7 281.6L488.6 282.5L487.1 283.7L485.3 285.1L483.3 286.5L481.4 287.9L479.4 289.1L477.6 290.2L475.8 291.3L474 292.2L472.1 293.1L470 293.8L467.5 294.3L464.3 294.6L460.3 294.8L456.1 294.7L452 294.6L448.4 294.5L445.9 294.5Z"/>
<path d="M439.7 312.2L442.1 312.5L445.6 312.9L449.7 313.4L454 313.9L458.3 314.1L462.1 313.9L465.6 313.2L469 312.1L472.2 310.7L475.1 309.4L477.4 308.2L479.2 307.5L478.8 306.5L477 307.2L474.5 308.1L471.6 309.2L468.4 310.2L465.1 311L461.9 311.3L458.4 311.2L454.4 310.6L450.2 309.9L446.2 309L442.8 308.3L440.3 307.8Z"/>
<path d="M453.4 281.5L454.4 280.4L456 278.8L457.9 277L459.8 274.9L461.6 272.8L463 270.6L464 268.4L464.8 266L465.4 263.6L465.8 261.4L466.2 259.5L466.5 258.1L465.5 257.9L465.1 259.2L464.5 261L463.8 263.2L463 265.4L462.1 267.5L461 269.4L459.5 271L457.7 272.8L455.6 274.5L453.6 276.1L451.9 277.5L450.6 278.5Z"/>
<path d="M402.1 365.4L403.5 364.4L405.4 363.2L407.7 361.6L410.4 359.9L413.4 358L416.7 355.9L420.5 353.5L425 350.7L429.9 347.8L434.8 344.8L439.4 342.1L443.6 339.7L447.2 337.8L450.6 336.2L453.8 334.8L456.8 333.4L459.8 332.1L462.6 330.6L465.4 329L468.2 327.3L470.7 325.5L473.1 323.9L475 322.6L476.4 321.6L475.6 320.4L474.1 321.2L472.1 322.4L469.7 323.8L467 325.3L464.2 326.8L461.4 328.2L458.6 329.4L455.6 330.5L452.5 331.6L449.2 332.8L445.5 334.2L441.6 335.9L437.2 337.9L432.3 340.4L427.2 343L422.1 345.6L417.4 348L413.3 350.1L409.8 351.9L406.6 353.7L403.8 355.3L401.4 356.6L399.4 357.7L397.9 358.6Z"/>
<path d="M399.2 371.3L401.2 370.5L404 369.4L407.2 368.2L410.9 366.7L414.8 365.3L418.9 363.8L423.2 362.3L428.1 360.8L433.2 359.2L438.5 357.5L443.7 355.6L448.8 353.6L453.7 351.3L458.8 348.7L463.7 345.9L468.4 343.3L472.8 340.8L476.5 338.9L479.7 337.3L482.6 336L485.1 334.9L487.2 334L488.9 333.3L490.3 332.7L489.7 331.3L488.4 331.8L486.6 332.4L484.4 333.2L481.8 334.1L478.9 335.3L475.5 336.7L471.6 338.6L467.1 340.7L462.3 343.1L457.2 345.6L452.2 347.8L447.2 349.8L442.3 351.5L437.1 353L431.8 354.4L426.6 355.7L421.7 357L417.1 358.2L412.9 359.5L408.8 360.8L405 362L401.7 363.1L398.9 364L396.8 364.7Z"/>
<path d="M461 331.5L462.1 332.1L463.6 333L465.4 334.1L467.5 335.2L469.5 336.3L471.6 337.1L473.8 337.6L476.1 337.9L478.5 338.2L480.7 338.3L482.6 338.4L483.9 338.5L484.1 337.5L482.7 337.3L480.9 337L478.7 336.6L476.4 336.1L474.3 335.6L472.4 334.9L470.7 334L468.8 332.9L467.1 331.6L465.4 330.4L464 329.3L463 328.5Z"/>
<path d="M394.6 376.5L399.8 375.8L407.1 374.9L415.7 373.8L424.7 372.7L433.2 371.7L440.3 370.8L445.8 370.1L450.4 369.6L454.6 369.1L458.7 368.6L463.2 368L468.3 367.2L474.7 366.1L482.1 364.8L489.7 363.3L496.9 362L503.1 360.8L507.5 360L506.5 354L502.1 354.6L495.9 355.4L488.6 356.3L480.9 357.3L473.6 358.1L467.3 358.8L462.2 359.3L457.9 359.6L453.8 359.8L449.6 360.1L444.9 360.3L439.3 360.6L432.2 361.1L423.6 361.6L414.6 362.2L406 362.7L398.6 363.2L393.4 363.5Z"/>
<path d="M399.2 391.4L401.6 390.7L405 389.9L408.9 388.9L413.2 387.8L417.3 386.8L421.1 385.9L424.6 385L427.7 384L430.7 383.1L433.6 382.4L436.6 381.9L439.9 381.5L443.7 381.5L447.7 381.6L452.1 382L456.8 382.5L461.9 383L467.3 383.6L473.7 384.2L481 385L488.7 385.9L496 386.7L502.2 387.5L506.6 388L507.4 382L503 381.3L496.9 380.3L489.6 379.1L482 377.9L474.6 376.8L468.3 375.8L462.9 375L457.9 374.3L453.1 373.6L448.5 373L444 372.6L439.7 372.5L435.5 372.7L431.8 373.2L428.4 373.9L425.2 374.7L422.1 375.4L418.9 376.1L415.1 376.9L410.9 377.7L406.6 378.6L402.6 379.4L399.2 380.1L396.8 380.6Z"/>
<path d="M425.2 382.5L427.3 382.3L430.2 382.1L433.6 381.8L437.5 381.4L441.5 380.9L445.4 380.2L449.4 379.3L453.7 378.2L458 377L462.4 375.8L466.5 374.8L470.4 373.9L473.9 373.3L477.4 372.7L480.7 372.3L483.9 372L487 371.8L490 371.7L493.1 371.8L496.3 372.1L499.5 372.4L502.5 372.9L505 373.2L506.8 373.5L507.2 370.5L505.4 370.2L502.9 369.8L500 369.3L496.7 368.8L493.3 368.5L490 368.3L486.8 368.3L483.6 368.4L480.3 368.7L476.9 369L473.4 369.5L469.6 370.1L465.6 370.9L461.3 371.9L457 373L452.6 374.1L448.4 375L444.6 375.8L440.8 376.3L437 376.7L433.2 377L429.8 377.2L426.9 377.4L424.8 377.5Z"/>
<path d="M399.4 403.3L403.6 398L403.3 396.2L398.7 403L396.3 402.8L397.1 403.1L399.3 404.3L402.9 406.4L407.8 409.4L413.6 412.9L419.7 416.5L426 420L431.8 423L437.1 425.6L442.3 428.1L447.5 430.5L453 432.6L458.8 434.3L465.1 435.6L472.3 436.3L480.3 436.4L488.5 436.1L496.1 435.7L502.6 435.2L507.1 435L506.9 428L502.3 428.1L495.8 428.3L488.3 428.5L480.4 428.5L472.9 428.2L466.5 427.4L461.1 426L456 424.3L451.1 422.2L446.3 419.9L441.3 417.3L436.2 414.6L430.8 411.5L424.9 407.9L419 404.2L413.4 400.5L408.5 397.3L404.7 394.9L402.2 393.5L400.6 392.6L397.3 392.2L392.7 399.3L392.6 398L396.6 392.7Z"/>
<path d="M423.9 391.3L426.6 392.1L430.2 393.2L434.5 394.6L439.2 396L444.1 397.6L448.9 399.2L453.8 401.1L459.2 403.5L464.8 405.9L470.5 408.2L476.1 410.2L481.4 411.4L486.7 411.7L491.9 411.3L496.8 410.4L501.2 409.4L504.8 408.5L507.4 408L506.6 404L503.9 404.5L500.2 405.3L496 406.1L491.4 406.8L486.7 407L482.2 406.6L477.6 405.3L472.4 403.4L467 400.9L461.5 398.3L456.2 395.7L451.1 393.6L446.2 391.7L441.3 389.9L436.5 388.3L432.3 386.8L428.7 385.6L426.1 384.7Z"/>
<path d="M400.3 411.4L400.8 411.9L401.4 412.6L402.3 413.6L403.7 414.9L405.6 416.7L408.3 419.2L412.1 422.4L416.8 426.2L422.1 430.4L427.4 434.9L432.5 439.4L436.9 443.8L440.7 448.3L444.4 453L447.9 457.9L451.1 462.7L453.9 467.3L456.2 471.5L457.8 475.3L458.7 478.9L459.3 482.6L459.9 486.4L461.1 490.3L463.2 493.9L466.1 496.9L469.5 499.2L473.1 501.1L476.7 502.7L480.3 504.1L483.8 505.6L487.7 507.2L492 508.9L496.3 510.4L500.3 511.8L503.7 512.9L506.1 513.7L507.9 509.1L505.4 508.1L502.1 506.9L498.1 505.4L493.9 503.7L489.8 502L486.2 500.4L482.7 498.7L479.1 497.2L475.8 495.6L472.8 493.9L470.3 492.1L468.4 490.1L467.2 487.8L466.5 485L466.1 481.6L465.5 477.6L464.6 473.1L462.8 468.5L460.4 463.7L457.6 458.7L454.4 453.6L450.9 448.3L447.1 443.2L443.1 438.2L438.5 433.3L433.3 428.3L427.9 423.5L422.7 419L418.2 415.1L414.7 412L412.3 409.7L410.7 408L409.6 406.8L408.9 406L408.3 405.3L407.7 404.6Z"/>
<path d="M437.1 441.7L437.6 443.7L438.4 446.6L439.3 449.9L440.2 453.4L440.8 456.9L441.1 460L441 462.9L440.6 466L439.9 469.2L439.2 472.5L438.6 475.9L438.3 479.4L438.3 482.9L438.4 486.4L438.7 489.9L439.1 493.4L439.5 496.8L439.9 500.1L440.4 503.4L441 506.9L441.6 510.3L442.2 513.4L442.7 516L443 517.9L444 517.7L443.8 515.8L443.4 513.2L443.1 510.1L442.7 506.7L442.3 503.2L442.1 499.9L441.9 496.6L441.7 493.2L441.5 489.8L441.5 486.3L441.5 482.9L441.7 479.6L442.2 476.5L443 473.3L443.9 470.1L444.8 466.9L445.5 463.5L445.9 460L445.8 456.3L445.3 452.5L444.6 448.7L443.9 445.2L443.3 442.4L442.9 440.3Z"/>
<path d="M456.5 469.5L456.3 471.4L455.9 474L455.4 477.2L454.9 480.5L454.5 483.8L454.3 486.8L454.1 489.5L454 492.1L454 494.6L454.1 497.1L454.4 499.6L454.9 502.1L455.9 504.6L457.2 507.1L458.6 509.5L460.1 511.7L461.3 513.5L462.2 514.9L463 514.3L462.3 512.9L461.2 511L460 508.7L458.8 506.3L457.7 503.8L457.1 501.5L456.8 499.3L456.7 497L456.8 494.7L457.1 492.3L457.4 489.8L457.7 487.2L458.2 484.4L458.9 481.2L459.6 478L460.4 474.9L461 472.3L461.5 470.5Z"/>
<path d="M464.3 492.2L464.4 493L464.7 494.2L464.9 495.5L465.1 497L465.3 498.5L465.4 500L465.5 501.6L465.5 503.5L465.4 505.4L465.4 507.3L465.3 508.8L465.3 510L466.3 510L466.5 508.9L466.7 507.4L466.9 505.6L467.2 503.6L467.4 501.7L467.6 500L467.6 498.4L467.6 496.8L467.5 495.2L467.4 493.8L467.3 492.7L467.3 491.8Z"/>
<path d="M448 429.9L449.6 431L451.8 432.4L454.4 434.2L457.4 436.2L460.6 438.4L464.1 440.6L468 443L472.5 445.5L477.2 448.3L481.9 451L486.2 453.6L490 456L493.3 458.3L496.5 460.7L499.4 463L501.9 465.1L504.1 466.9L505.7 468.2L508.3 465.2L506.8 463.8L504.7 461.9L502.2 459.7L499.3 457.2L496.2 454.6L492.8 452L489 449.3L484.6 446.5L480 443.5L475.5 440.6L471.2 437.9L467.5 435.4L464.2 433.1L461.1 430.9L458.2 428.8L455.7 426.9L453.6 425.3L452 424.1Z"/>
<path d="M456.4 467.9L457.6 468.9L459.3 470.2L461.3 471.8L463.6 473.5L466.1 475.3L468.9 476.9L472 478.5L475.3 479.9L478.9 481.3L482.5 482.7L486 484.2L489.2 485.6L492.3 487.3L495.7 489.1L498.9 491L501.9 492.7L504.4 494.2L506.2 495.3L507.8 492.7L506 491.6L503.5 490L500.6 488.2L497.4 486.1L494.1 484.2L490.8 482.4L487.5 480.7L484 479.1L480.5 477.5L477 476L473.8 474.5L471.1 473.1L468.7 471.5L466.4 469.8L464.2 468.1L462.4 466.5L460.8 465.1L459.6 464.1Z"/>
</g></g>
<g clip-path="url(#cr)" stroke-linejoin="round">
<g fill="#f0f0f0" stroke="#8f8f8f" stroke-width="1.4">
<path d="M703 0.5L701.5 1L699.5 1.7L697 2.5L694.4 3.3L691.7 4.2L689.1 5L686.9 5.7L684.7 6.4L682.4 7.1L680 7.9L677.2 8.8L674.1 10L670.4 11.6L666.4 13.5L662.2 15.6L657.9 17.6L653.7 19.4L649.6 20.8L645.4 21.9L641 22.7L636.6 23.4L632.3 23.8L628.4 24.1L625.1 24.1L622.2 23.7L619.7 23L617.5 22.1L615.6 21.1L614 20.2L612.7 19.6L612.3 20.4L613.4 21.1L615 22.1L616.9 23.3L619.2 24.4L621.9 25.4L624.9 25.9L628.4 26.2L632.5 26.2L636.8 26L641.4 25.6L646 25L650.4 24.2L654.9 23L659.5 21.4L664 19.6L668.4 17.9L672.4 16.2L675.9 15L679 14L681.6 13.3L684 12.7L686.2 12.1L688.5 11.6L690.9 11L693.4 10.3L696.2 9.7L698.9 9L701.4 8.4L703.5 7.8L705 7.5Z"/>
<path d="M648.1 21.4L647.7 22.8L647.2 24.8L646.6 27L645.9 29.5L645.2 32L644.5 34.5L643.7 36.9L642.8 39.5L642 42.1L641 44.6L640 47.1L639 49.5L637.8 51.6L636.6 53.7L635.3 55.7L633.9 57.7L632.6 59.6L631.4 61.6L630.1 63.6L628.8 65.7L627.5 67.7L626.4 69.6L625.4 71.1L624.7 72.3L625.3 72.7L626.1 71.6L627.2 70.1L628.5 68.3L629.8 66.3L631.3 64.3L632.6 62.4L634 60.6L635.4 58.7L636.8 56.8L638.3 54.8L639.7 52.8L641 50.5L642.3 48.2L643.4 45.7L644.5 43.1L645.6 40.5L646.6 37.9L647.5 35.5L648.4 33.1L649.3 30.6L650.1 28.1L650.9 25.8L651.5 23.9L651.9 22.6Z"/>
<path d="M673.1 11.3L672.8 12.1L672.4 13.3L671.9 14.7L671.4 16.3L670.8 17.9L670.4 19.6L670.1 21.2L669.8 22.8L669.6 24.5L669.4 26.2L669.1 27.9L668.8 29.7L668.3 31.5L667.7 33.5L667 35.6L666.3 37.8L665.7 39.8L665.2 41.8L664.9 43.8L664.8 45.8L664.7 47.7L664.7 49.5L664.6 50.9L664.6 52L665.4 52L665.5 51L665.6 49.5L665.8 47.8L666 45.9L666.4 44L666.8 42.2L667.3 40.3L668.1 38.4L668.9 36.4L669.8 34.3L670.6 32.3L671.2 30.3L671.8 28.5L672.2 26.7L672.5 25L672.9 23.4L673.2 21.9L673.6 20.4L674.1 19L674.7 17.5L675.4 16.1L676 14.7L676.5 13.6L676.9 12.7Z"/>
<path d="M688.1 7.4L687.7 8.7L687.3 10.6L686.7 12.7L686 15L685.4 17.3L684.6 19.4L683.8 21.4L682.9 23.4L681.9 25.4L680.9 27.5L680 29.6L679.1 31.6L678.4 33.9L677.7 36.2L677 38.6L676.5 40.7L676 42.6L675.6 43.9L676.4 44.1L676.8 42.8L677.5 41L678.2 38.9L679.1 36.7L679.9 34.4L680.9 32.4L681.8 30.4L682.9 28.5L684.1 26.6L685.2 24.6L686.3 22.6L687.4 20.6L688.3 18.4L689.2 16.1L690.1 13.8L690.8 11.7L691.4 9.9L691.9 8.6Z"/>
<path d="M664.6 28.6L662.9 30.4L660.6 33L658 35.9L655.1 38.9L652.1 41.6L649.2 43.7L646.3 45.1L643.2 46.1L639.8 47L636.4 47.6L633 48.2L629.8 48.9L626.8 49.4L623.7 49.7L620.7 49.8L617.8 50.1L614.9 50.7L612.2 51.8L609.6 53.6L607.1 55.9L604.7 58.5L602.7 61.1L601 63.2L599.7 64.7L600.3 65.3L601.6 63.8L603.4 61.7L605.6 59.3L607.9 56.8L610.4 54.7L612.8 53.2L615.3 52.3L618 51.9L620.8 51.7L623.9 51.6L627 51.5L630.2 51.1L633.4 50.6L636.8 50.1L640.4 49.6L643.9 48.9L647.4 47.8L650.8 46.3L654.1 44.2L657.4 41.4L660.5 38.4L663.4 35.5L665.7 33.1L667.4 31.4Z"/>
<path d="M639.2 49.1L638.1 50.1L636.6 51.5L634.9 53.1L633 54.8L631.2 56.3L629.7 57.4L628.2 58.1L626.7 58.6L625.3 59L623.9 59.2L622.8 59.4L621.9 59.6L622.1 60.4L622.9 60.3L624.1 60.2L625.5 60L627 59.8L628.7 59.3L630.3 58.6L632.1 57.6L634.1 56.2L636.1 54.6L638 53.1L639.6 51.8L640.8 50.9Z"/>
<path d="M631.1 22.9L630 23.9L628.5 25.3L626.8 26.9L624.9 28.5L623.1 30.1L621.5 31.3L620.1 32.3L618.6 33.2L617.1 34L615.8 34.7L614.7 35.2L613.8 35.6L614.2 36.4L615 36L616.2 35.6L617.6 35L619.2 34.4L620.8 33.6L622.5 32.7L624.2 31.5L626.2 30.1L628.2 28.6L630.1 27.2L631.7 25.9L632.9 25.1Z"/>
<path d="M699.8 -4.4L697.6 -4.2L694.6 -3.8L691.1 -3.5L687.2 -3L683.3 -2.5L679.7 -2L676.3 -1.3L672.9 -0.4L669.6 0.5L666.3 1.4L663.1 2L659.9 2.4L656.6 2.5L653.2 2.5L649.8 2.2L646.5 1.8L643.3 1.4L640.2 0.9L637.3 0.2L634.4 -0.6L631.6 -1.6L629 -2.5L626.9 -3.2L625.3 -3.8L624.7 -2.2L626.3 -1.6L628.4 -0.7L630.9 0.3L633.7 1.4L636.7 2.4L639.8 3.1L642.8 3.8L646.1 4.4L649.5 4.9L653 5.3L656.6 5.6L660.1 5.6L663.6 5.3L667 4.7L670.4 4L673.8 3.2L677.1 2.5L680.3 2L683.8 1.6L687.6 1.2L691.4 1L695 0.7L698 0.5L700.2 0.4Z"/>
<path d="M659.3 3L658 4L656.1 5.4L654 7.1L651.7 8.8L649.5 10.3L647.7 11.4L646.1 12.1L644.6 12.6L643.2 13L641.9 13.2L640.8 13.4L639.9 13.6L640.1 14.4L640.9 14.3L642 14.2L643.3 14L644.9 13.7L646.6 13.3L648.3 12.6L650.3 11.6L652.6 10.2L655 8.7L657.4 7.2L659.3 5.9L660.7 5Z"/>
<path d="M653.6 34.6L653.3 36.1L652.8 38.1L652.2 40.6L651.7 43.2L651.3 45.7L651.2 48L651.4 50.1L652 52.1L652.8 54L653.5 55.7L654.2 57.1L654.6 58.1L655.4 57.9L655 56.8L654.5 55.3L653.9 53.6L653.3 51.7L652.9 49.8L652.8 48L653.1 46L653.7 43.6L654.4 41.2L655.2 38.8L655.9 36.8L656.4 35.4Z"/>
<path d="M643.9 -4.2L642.5 -2.8L640.6 -0.9L638.4 1.4L636.1 3.6L633.7 5.6L631.5 7L629.3 7.9L627.1 8.6L624.8 9.1L622.5 9.4L620.3 9.4L618.1 9.3L616 8.7L613.7 7.8L611.4 6.6L609.3 5.4L607.5 4.4L606.2 3.7L605.8 4.3L607.1 5.1L608.8 6.3L610.8 7.6L613.1 8.9L615.5 10.1L617.9 10.7L620.2 11.1L622.6 11.1L625.1 11L627.6 10.6L630.1 10L632.5 9L635.1 7.6L637.7 5.6L640.3 3.4L642.7 1.2L644.7 -0.6L646.1 -1.8Z"/>
<path d="M611.1 39.2L610.2 40.4L609 42.1L607.5 44L606 46.1L604.6 48L603.4 49.6L602.5 50.9L601.8 52.2L601.1 53.3L600.5 54.3L600 55.2L599.7 55.8L600.3 56.2L600.8 55.6L601.3 54.8L601.9 53.9L602.7 52.8L603.6 51.7L604.6 50.4L605.8 48.9L607.3 47.1L609 45.2L610.6 43.4L612 41.9L612.9 40.8Z"/>
<path d="M824.4 -0.2L826.1 0.7L828.5 2L831.3 3.6L834.4 5.3L837.6 7L840.6 8.6L843.8 10.1L847.1 11.6L850.5 13L853.7 14.5L856.6 16.1L859.1 17.7L861.2 19.6L863.1 21.7L864.9 24L866.6 26.4L868.3 28.9L870.1 31.3L871.7 33.7L873.2 36L874.6 38.4L876.2 40.9L878 43.4L880 45.9L882.4 48.3L885 50.5L887.7 52.7L890.4 54.9L893.1 57.1L895.8 59.3L898.5 61.7L901.2 64L903.9 66.4L906.6 68.8L909.3 71.3L911.9 74L914.5 76.9L917.2 80.3L919.8 83.7L922.5 87.1L925.2 90.1L928.1 92.5L931 94.1L933.9 95.2L936.9 95.8L939.7 96.1L942.4 96.4L944.8 96.8L947.3 97.3L949.8 97.7L952.2 98L954.4 98.3L956.2 98.5L957.5 98.6L957.7 97.4L956.4 97.1L954.6 96.9L952.4 96.6L950.1 96.2L947.6 95.7L945.2 95.2L942.6 94.7L939.9 94.3L937.2 93.9L934.5 93.2L931.9 92.2L929.3 90.7L926.9 88.5L924.4 85.6L921.8 82.2L919.3 78.7L916.7 75.2L914.1 72L911.4 69.2L908.7 66.5L906.1 64L903.4 61.5L900.8 59.1L898.2 56.7L895.5 54.3L892.8 52L890.1 49.7L887.6 47.5L885.2 45.3L883.2 43.1L881.4 40.9L879.9 38.6L878.4 36.2L877 33.7L875.6 31.2L873.9 28.7L872.3 26.2L870.6 23.7L868.9 21.1L867 18.5L864.9 16L862.3 13.7L859.4 11.5L856.2 9.7L852.8 8L849.5 6.4L846.3 4.9L843.4 3.4L840.4 1.7L837.4 -0L834.4 -1.8L831.6 -3.4L829.3 -4.8L827.6 -5.8Z"/>
<path d="M860.3 17L862 16.7L864.4 16.3L867.2 15.8L870.3 15.3L873.3 14.8L876.1 14.5L878.8 14.2L881.5 13.8L884.1 13.5L886.6 13.3L889.2 13.4L891.7 13.9L894.4 15.1L897.4 16.8L900.5 18.8L903.4 20.8L905.8 22.6L907.6 23.8L908 23.2L906.4 21.9L904.1 19.9L901.3 17.7L898.3 15.5L895.2 13.5L892.3 12.1L889.5 11.3L886.7 11L883.9 11L881.2 11.1L878.5 11.4L875.9 11.5L873 11.7L869.9 11.9L866.8 12.2L863.9 12.6L861.5 12.8L859.7 13Z"/>
<path d="M849.6 -0.8L852.9 -0.3L857.3 0.4L862.6 1.3L868.4 2.1L874.2 3L879.8 3.7L885.3 4.2L891.1 4.6L897 5L902.7 5.4L908.1 5.7L912.9 6.1L917.3 6.4L921.2 6.4L924.8 6.5L928.1 6.7L931 7.3L933.6 8.4L936 10.3L938.2 13L940.1 16.1L941.7 19.2L943.1 21.8L944.1 23.7L944.9 23.3L943.9 21.4L942.6 18.7L941 15.6L939.2 12.3L937 9.4L934.4 7.2L931.5 5.8L928.4 5.1L925 4.7L921.3 4.5L917.4 4.3L913.1 3.9L908.3 3.4L902.9 2.8L897.2 2.3L891.4 1.7L885.6 1L880.2 0.3L874.7 -0.5L869 -1.6L863.3 -2.6L858 -3.7L853.6 -4.5L850.4 -5.2Z"/>
<path d="M880.7 46L883.2 46.2L886.5 46.6L890.5 47L894.7 47.4L898.7 48L902.3 48.5L905.4 49.2L908.3 49.8L911.1 50.5L913.8 51.3L916.6 52.2L919.6 53.1L922.8 54.2L926.1 55.2L929.4 56.3L932.7 57.5L935.7 58.9L938.5 60.6L941.1 62.9L943.7 65.8L946.2 68.8L948.4 71.8L950.3 74.4L951.7 76.2L952.3 75.8L951 73.9L949.3 71.3L947.2 68.2L944.8 64.9L942.2 61.9L939.5 59.4L936.6 57.4L933.4 55.8L930.1 54.4L926.8 53.1L923.5 52L920.4 50.9L917.5 49.8L914.6 48.8L911.9 47.9L909 47L906.1 46.2L902.9 45.5L899.3 44.7L895.2 44L890.9 43.4L887 42.8L883.6 42.4L881.3 42Z"/>
<path d="M870.5 30.6L871.2 32.2L872.3 34.5L873.5 37.2L874.7 40.1L875.9 42.9L877 45.4L877.9 47.7L878.8 50L879.7 52.2L880.4 54.3L881 56.3L881.3 58.1L881.4 59.7L881.2 61.2L880.8 62.6L880.3 63.9L879.9 65L879.6 65.9L880.4 66.1L880.7 65.3L881.2 64.3L881.7 63L882.2 61.5L882.6 59.8L882.7 57.9L882.4 56L881.9 53.9L881.3 51.7L880.6 49.4L879.8 47L879 44.6L878.1 42L877.1 39.1L876 36.2L875 33.4L874.1 31.1L873.5 29.4Z"/>
<path d="M911.7 73.5L912.3 74.8L913.1 76.6L914 78.6L915.1 80.9L916.1 83.2L917.2 85.4L918.3 87.6L919.5 90L920.7 92.5L921.9 94.8L922.9 96.8L923.6 98.2L924.4 97.8L923.8 96.4L922.9 94.4L921.9 92L920.8 89.4L919.8 86.9L918.8 84.6L918 82.4L917.1 80.1L916.2 77.7L915.4 75.6L914.8 73.8L914.3 72.5Z"/>
<path d="M927.8 92.4L928.7 93.3L929.9 94.6L931.4 96.1L932.9 97.6L934.3 99.1L935.4 100.4L936.4 101.6L937.2 102.7L938 103.8L938.7 104.8L939.2 105.6L939.7 106.2L940.3 105.8L940 105.1L939.5 104.3L938.9 103.2L938.2 102.1L937.4 100.8L936.6 99.6L935.5 98.1L934.2 96.5L932.8 94.8L931.5 93.2L930.4 91.8L929.6 90.8Z"/>
<path d="M933.1 8.8L933.7 9.4L934.6 10.4L935.6 11.5L936.8 12.6L938.1 13.8L939.6 14.7L941.2 15.5L943.1 16.3L945.2 16.9L947.1 17.5L948.7 18L949.9 18.4L950.1 17.6L949 17.2L947.4 16.5L945.6 15.8L943.7 15L941.9 14.1L940.4 13.3L939.3 12.3L938.2 11.2L937.2 10L936.3 8.9L935.5 7.9L934.9 7.2Z"/>
<path d="M833.9 3.4L835.6 4.7L838 6.3L840.8 8.3L843.7 10.4L846.6 12.7L849.1 14.9L851.3 17.3L853.5 19.9L855.6 22.7L857.7 25.5L859.6 28.1L861.4 30.4L863.1 32.5L864.8 34.5L866.3 36.3L867.7 37.9L868.8 39.3L869.7 40.3L870.3 39.7L869.5 38.7L868.4 37.3L867.2 35.7L865.7 33.8L864.2 31.7L862.6 29.6L860.9 27.2L859.2 24.4L857.3 21.5L855.2 18.6L853.1 15.7L850.9 13.1L848.4 10.6L845.6 8.1L842.7 5.7L840 3.6L837.7 1.9L836.1 0.6Z"/>
</g><g fill="#f0f0f0" stroke="none">
<path d="M703 0.5L701.5 1L699.5 1.7L697 2.5L694.4 3.3L691.7 4.2L689.1 5L686.9 5.7L684.7 6.4L682.4 7.1L680 7.9L677.2 8.8L674.1 10L670.4 11.6L666.4 13.5L662.2 15.6L657.9 17.6L653.7 19.4L649.6 20.8L645.4 21.9L641 22.7L636.6 23.4L632.3 23.8L628.4 24.1L625.1 24.1L622.2 23.7L619.7 23L617.5 22.1L615.6 21.1L614 20.2L612.7 19.6L612.3 20.4L613.4 21.1L615 22.1L616.9 23.3L619.2 24.4L621.9 25.4L624.9 25.9L628.4 26.2L632.5 26.2L636.8 26L641.4 25.6L646 25L650.4 24.2L654.9 23L659.5 21.4L664 19.6L668.4 17.9L672.4 16.2L675.9 15L679 14L681.6 13.3L684 12.7L686.2 12.1L688.5 11.6L690.9 11L693.4 10.3L696.2 9.7L698.9 9L701.4 8.4L703.5 7.8L705 7.5Z"/>
<path d="M648.1 21.4L647.7 22.8L647.2 24.8L646.6 27L645.9 29.5L645.2 32L644.5 34.5L643.7 36.9L642.8 39.5L642 42.1L641 44.6L640 47.1L639 49.5L637.8 51.6L636.6 53.7L635.3 55.7L633.9 57.7L632.6 59.6L631.4 61.6L630.1 63.6L628.8 65.7L627.5 67.7L626.4 69.6L625.4 71.1L624.7 72.3L625.3 72.7L626.1 71.6L627.2 70.1L628.5 68.3L629.8 66.3L631.3 64.3L632.6 62.4L634 60.6L635.4 58.7L636.8 56.8L638.3 54.8L639.7 52.8L641 50.5L642.3 48.2L643.4 45.7L644.5 43.1L645.6 40.5L646.6 37.9L647.5 35.5L648.4 33.1L649.3 30.6L650.1 28.1L650.9 25.8L651.5 23.9L651.9 22.6Z"/>
<path d="M673.1 11.3L672.8 12.1L672.4 13.3L671.9 14.7L671.4 16.3L670.8 17.9L670.4 19.6L670.1 21.2L669.8 22.8L669.6 24.5L669.4 26.2L669.1 27.9L668.8 29.7L668.3 31.5L667.7 33.5L667 35.6L666.3 37.8L665.7 39.8L665.2 41.8L664.9 43.8L664.8 45.8L664.7 47.7L664.7 49.5L664.6 50.9L664.6 52L665.4 52L665.5 51L665.6 49.5L665.8 47.8L666 45.9L666.4 44L666.8 42.2L667.3 40.3L668.1 38.4L668.9 36.4L669.8 34.3L670.6 32.3L671.2 30.3L671.8 28.5L672.2 26.7L672.5 25L672.9 23.4L673.2 21.9L673.6 20.4L674.1 19L674.7 17.5L675.4 16.1L676 14.7L676.5 13.6L676.9 12.7Z"/>
<path d="M688.1 7.4L687.7 8.7L687.3 10.6L686.7 12.7L686 15L685.4 17.3L684.6 19.4L683.8 21.4L682.9 23.4L681.9 25.4L680.9 27.5L680 29.6L679.1 31.6L678.4 33.9L677.7 36.2L677 38.6L676.5 40.7L676 42.6L675.6 43.9L676.4 44.1L676.8 42.8L677.5 41L678.2 38.9L679.1 36.7L679.9 34.4L680.9 32.4L681.8 30.4L682.9 28.5L684.1 26.6L685.2 24.6L686.3 22.6L687.4 20.6L688.3 18.4L689.2 16.1L690.1 13.8L690.8 11.7L691.4 9.9L691.9 8.6Z"/>
<path d="M664.6 28.6L662.9 30.4L660.6 33L658 35.9L655.1 38.9L652.1 41.6L649.2 43.7L646.3 45.1L643.2 46.1L639.8 47L636.4 47.6L633 48.2L629.8 48.9L626.8 49.4L623.7 49.7L620.7 49.8L617.8 50.1L614.9 50.7L612.2 51.8L609.6 53.6L607.1 55.9L604.7 58.5L602.7 61.1L601 63.2L599.7 64.7L600.3 65.3L601.6 63.8L603.4 61.7L605.6 59.3L607.9 56.8L610.4 54.7L612.8 53.2L615.3 52.3L618 51.9L620.8 51.7L623.9 51.6L627 51.5L630.2 51.1L633.4 50.6L636.8 50.1L640.4 49.6L643.9 48.9L647.4 47.8L650.8 46.3L654.1 44.2L657.4 41.4L660.5 38.4L663.4 35.5L665.7 33.1L667.4 31.4Z"/>
<path d="M639.2 49.1L638.1 50.1L636.6 51.5L634.9 53.1L633 54.8L631.2 56.3L629.7 57.4L628.2 58.1L626.7 58.6L625.3 59L623.9 59.2L622.8 59.4L621.9 59.6L622.1 60.4L622.9 60.3L624.1 60.2L625.5 60L627 59.8L628.7 59.3L630.3 58.6L632.1 57.6L634.1 56.2L636.1 54.6L638 53.1L639.6 51.8L640.8 50.9Z"/>
<path d="M631.1 22.9L630 23.9L628.5 25.3L626.8 26.9L624.9 28.5L623.1 30.1L621.5 31.3L620.1 32.3L618.6 33.2L617.1 34L615.8 34.7L614.7 35.2L613.8 35.6L614.2 36.4L615 36L616.2 35.6L617.6 35L619.2 34.4L620.8 33.6L622.5 32.7L624.2 31.5L626.2 30.1L628.2 28.6L630.1 27.2L631.7 25.9L632.9 25.1Z"/>
<path d="M699.8 -4.4L697.6 -4.2L694.6 -3.8L691.1 -3.5L687.2 -3L683.3 -2.5L679.7 -2L676.3 -1.3L672.9 -0.4L669.6 0.5L666.3 1.4L663.1 2L659.9 2.4L656.6 2.5L653.2 2.5L649.8 2.2L646.5 1.8L643.3 1.4L640.2 0.9L637.3 0.2L634.4 -0.6L631.6 -1.6L629 -2.5L626.9 -3.2L625.3 -3.8L624.7 -2.2L626.3 -1.6L628.4 -0.7L630.9 0.3L633.7 1.4L636.7 2.4L639.8 3.1L642.8 3.8L646.1 4.4L649.5 4.9L653 5.3L656.6 5.6L660.1 5.6L663.6 5.3L667 4.7L670.4 4L673.8 3.2L677.1 2.5L680.3 2L683.8 1.6L687.6 1.2L691.4 1L695 0.7L698 0.5L700.2 0.4Z"/>
<path d="M659.3 3L658 4L656.1 5.4L654 7.1L651.7 8.8L649.5 10.3L647.7 11.4L646.1 12.1L644.6 12.6L643.2 13L641.9 13.2L640.8 13.4L639.9 13.6L640.1 14.4L640.9 14.3L642 14.2L643.3 14L644.9 13.7L646.6 13.3L648.3 12.6L650.3 11.6L652.6 10.2L655 8.7L657.4 7.2L659.3 5.9L660.7 5Z"/>
<path d="M653.6 34.6L653.3 36.1L652.8 38.1L652.2 40.6L651.7 43.2L651.3 45.7L651.2 48L651.4 50.1L652 52.1L652.8 54L653.5 55.7L654.2 57.1L654.6 58.1L655.4 57.9L655 56.8L654.5 55.3L653.9 53.6L653.3 51.7L652.9 49.8L652.8 48L653.1 46L653.7 43.6L654.4 41.2L655.2 38.8L655.9 36.8L656.4 35.4Z"/>
<path d="M643.9 -4.2L642.5 -2.8L640.6 -0.9L638.4 1.4L636.1 3.6L633.7 5.6L631.5 7L629.3 7.9L627.1 8.6L624.8 9.1L622.5 9.4L620.3 9.4L618.1 9.3L616 8.7L613.7 7.8L611.4 6.6L609.3 5.4L607.5 4.4L606.2 3.7L605.8 4.3L607.1 5.1L608.8 6.3L610.8 7.6L613.1 8.9L615.5 10.1L617.9 10.7L620.2 11.1L622.6 11.1L625.1 11L627.6 10.6L630.1 10L632.5 9L635.1 7.6L637.7 5.6L640.3 3.4L642.7 1.2L644.7 -0.6L646.1 -1.8Z"/>
<path d="M611.1 39.2L610.2 40.4L609 42.1L607.5 44L606 46.1L604.6 48L603.4 49.6L602.5 50.9L601.8 52.2L601.1 53.3L600.5 54.3L600 55.2L599.7 55.8L600.3 56.2L600.8 55.6L601.3 54.8L601.9 53.9L602.7 52.8L603.6 51.7L604.6 50.4L605.8 48.9L607.3 47.1L609 45.2L610.6 43.4L612 41.9L612.9 40.8Z"/>
<path d="M824.4 -0.2L826.1 0.7L828.5 2L831.3 3.6L834.4 5.3L837.6 7L840.6 8.6L843.8 10.1L847.1 11.6L850.5 13L853.7 14.5L856.6 16.1L859.1 17.7L861.2 19.6L863.1 21.7L864.9 24L866.6 26.4L868.3 28.9L870.1 31.3L871.7 33.7L873.2 36L874.6 38.4L876.2 40.9L878 43.4L880 45.9L882.4 48.3L885 50.5L887.7 52.7L890.4 54.9L893.1 57.1L895.8 59.3L898.5 61.7L901.2 64L903.9 66.4L906.6 68.8L909.3 71.3L911.9 74L914.5 76.9L917.2 80.3L919.8 83.7L922.5 87.1L925.2 90.1L928.1 92.5L931 94.1L933.9 95.2L936.9 95.8L939.7 96.1L942.4 96.4L944.8 96.8L947.3 97.3L949.8 97.7L952.2 98L954.4 98.3L956.2 98.5L957.5 98.6L957.7 97.4L956.4 97.1L954.6 96.9L952.4 96.6L950.1 96.2L947.6 95.7L945.2 95.2L942.6 94.7L939.9 94.3L937.2 93.9L934.5 93.2L931.9 92.2L929.3 90.7L926.9 88.5L924.4 85.6L921.8 82.2L919.3 78.7L916.7 75.2L914.1 72L911.4 69.2L908.7 66.5L906.1 64L903.4 61.5L900.8 59.1L898.2 56.7L895.5 54.3L892.8 52L890.1 49.7L887.6 47.5L885.2 45.3L883.2 43.1L881.4 40.9L879.9 38.6L878.4 36.2L877 33.7L875.6 31.2L873.9 28.7L872.3 26.2L870.6 23.7L868.9 21.1L867 18.5L864.9 16L862.3 13.7L859.4 11.5L856.2 9.7L852.8 8L849.5 6.4L846.3 4.9L843.4 3.4L840.4 1.7L837.4 -0L834.4 -1.8L831.6 -3.4L829.3 -4.8L827.6 -5.8Z"/>
<path d="M860.3 17L862 16.7L864.4 16.3L867.2 15.8L870.3 15.3L873.3 14.8L876.1 14.5L878.8 14.2L881.5 13.8L884.1 13.5L886.6 13.3L889.2 13.4L891.7 13.9L894.4 15.1L897.4 16.8L900.5 18.8L903.4 20.8L905.8 22.6L907.6 23.8L908 23.2L906.4 21.9L904.1 19.9L901.3 17.7L898.3 15.5L895.2 13.5L892.3 12.1L889.5 11.3L886.7 11L883.9 11L881.2 11.1L878.5 11.4L875.9 11.5L873 11.7L869.9 11.9L866.8 12.2L863.9 12.6L861.5 12.8L859.7 13Z"/>
<path d="M849.6 -0.8L852.9 -0.3L857.3 0.4L862.6 1.3L868.4 2.1L874.2 3L879.8 3.7L885.3 4.2L891.1 4.6L897 5L902.7 5.4L908.1 5.7L912.9 6.1L917.3 6.4L921.2 6.4L924.8 6.5L928.1 6.7L931 7.3L933.6 8.4L936 10.3L938.2 13L940.1 16.1L941.7 19.2L943.1 21.8L944.1 23.7L944.9 23.3L943.9 21.4L942.6 18.7L941 15.6L939.2 12.3L937 9.4L934.4 7.2L931.5 5.8L928.4 5.1L925 4.7L921.3 4.5L917.4 4.3L913.1 3.9L908.3 3.4L902.9 2.8L897.2 2.3L891.4 1.7L885.6 1L880.2 0.3L874.7 -0.5L869 -1.6L863.3 -2.6L858 -3.7L853.6 -4.5L850.4 -5.2Z"/>
<path d="M880.7 46L883.2 46.2L886.5 46.6L890.5 47L894.7 47.4L898.7 48L902.3 48.5L905.4 49.2L908.3 49.8L911.1 50.5L913.8 51.3L916.6 52.2L919.6 53.1L922.8 54.2L926.1 55.2L929.4 56.3L932.7 57.5L935.7 58.9L938.5 60.6L941.1 62.9L943.7 65.8L946.2 68.8L948.4 71.8L950.3 74.4L951.7 76.2L952.3 75.8L951 73.9L949.3 71.3L947.2 68.2L944.8 64.9L942.2 61.9L939.5 59.4L936.6 57.4L933.4 55.8L930.1 54.4L926.8 53.1L923.5 52L920.4 50.9L917.5 49.8L914.6 48.8L911.9 47.9L909 47L906.1 46.2L902.9 45.5L899.3 44.7L895.2 44L890.9 43.4L887 42.8L883.6 42.4L881.3 42Z"/>
<path d="M870.5 30.6L871.2 32.2L872.3 34.5L873.5 37.2L874.7 40.1L875.9 42.9L877 45.4L877.9 47.7L878.8 50L879.7 52.2L880.4 54.3L881 56.3L881.3 58.1L881.4 59.7L881.2 61.2L880.8 62.6L880.3 63.9L879.9 65L879.6 65.9L880.4 66.1L880.7 65.3L881.2 64.3L881.7 63L882.2 61.5L882.6 59.8L882.7 57.9L882.4 56L881.9 53.9L881.3 51.7L880.6 49.4L879.8 47L879 44.6L878.1 42L877.1 39.1L876 36.2L875 33.4L874.1 31.1L873.5 29.4Z"/>
<path d="M911.7 73.5L912.3 74.8L913.1 76.6L914 78.6L915.1 80.9L916.1 83.2L917.2 85.4L918.3 87.6L919.5 90L920.7 92.5L921.9 94.8L922.9 96.8L923.6 98.2L924.4 97.8L923.8 96.4L922.9 94.4L921.9 92L920.8 89.4L919.8 86.9L918.8 84.6L918 82.4L917.1 80.1L916.2 77.7L915.4 75.6L914.8 73.8L914.3 72.5Z"/>
<path d="M927.8 92.4L928.7 93.3L929.9 94.6L931.4 96.1L932.9 97.6L934.3 99.1L935.4 100.4L936.4 101.6L937.2 102.7L938 103.8L938.7 104.8L939.2 105.6L939.7 106.2L940.3 105.8L940 105.1L939.5 104.3L938.9 103.2L938.2 102.1L937.4 100.8L936.6 99.6L935.5 98.1L934.2 96.5L932.8 94.8L931.5 93.2L930.4 91.8L929.6 90.8Z"/>
<path d="M933.1 8.8L933.7 9.4L934.6 10.4L935.6 11.5L936.8 12.6L938.1 13.8L939.6 14.7L941.2 15.5L943.1 16.3L945.2 16.9L947.1 17.5L948.7 18L949.9 18.4L950.1 17.6L949 17.2L947.4 16.5L945.6 15.8L943.7 15L941.9 14.1L940.4 13.3L939.3 12.3L938.2 11.2L937.2 10L936.3 8.9L935.5 7.9L934.9 7.2Z"/>
<path d="M833.9 3.4L835.6 4.7L838 6.3L840.8 8.3L843.7 10.4L846.6 12.7L849.1 14.9L851.3 17.3L853.5 19.9L855.6 22.7L857.7 25.5L859.6 28.1L861.4 30.4L863.1 32.5L864.8 34.5L866.3 36.3L867.7 37.9L868.8 39.3L869.7 40.3L870.3 39.7L869.5 38.7L868.4 37.3L867.2 35.7L865.7 33.8L864.2 31.7L862.6 29.6L860.9 27.2L859.2 24.4L857.3 21.5L855.2 18.6L853.1 15.7L850.9 13.1L848.4 10.6L845.6 8.1L842.7 5.7L840 3.6L837.7 1.9L836.1 0.6Z"/>
</g></g>
<g clip-path="url(#cl)"><mask id="mk1" maskUnits="userSpaceOnUse" x="0" y="0" width="1024" height="573"><rect width="1024" height="573" fill="#fff"/>
<ellipse cx="225" cy="246" rx="11" ry="11" fill="url(#fk)"/>
<ellipse cx="362" cy="164" rx="26" ry="28" fill="url(#fk)"/>
<ellipse cx="382" cy="172" rx="18" ry="29" fill="url(#fk)"/>
</mask>
<g fill="none" stroke-linejoin="round" mask="url(#mk1)">
<g stroke="#1f5a80">
<path d="M-6 384.5C-5 383.6 -4.3 382.9 0 379.3C4.3 375.7 13.3 368.4 20 363C26.7 357.6 31.7 353.2 40 346.6C48.3 340.1 62.1 329.9 70 323.7C77.9 317.5 81.7 313.9 87.5 309.3C93.3 304.7 99.1 300.4 104.9 296.2C110.7 292 117.4 287.5 122.4 284.4C127.4 281.3 130.4 279.9 135 277.5C139.6 275.1 144.2 272.8 150 270C155.8 267.2 163.3 263.5 170 261C176.7 258.5 182.8 256.2 190 255C197.2 253.8 206.7 253.2 213 254C219.3 254.8 225.5 259 228 260" stroke-width="11.4" stroke-linecap="round"/>
<path d="M43 345C42.1 346.3 39.1 349.9 37.5 353C35.9 356.1 34.1 359.7 33.2 363.5C32.3 367.3 32.3 371.9 32 376C31.7 380.1 31.3 384 31.5 388C31.7 392 32.4 396 33.2 400C34.1 404 35.6 408 36.6 412C37.6 416 38.7 420.8 39.3 424C39.9 427.2 40.7 425.8 40 431C39.3 436.2 36.7 447.5 35 455C33.3 462.5 34.2 467.5 30 476C25.8 484.5 15.7 498 10 506C4.3 514 -1.7 521 -4 524" stroke-width="5.2" stroke-linecap="round"/>
<path d="M-4 266C2.2 265.2 21.3 261.7 33 261.5C44.7 261.3 54.8 263.3 66 265C77.2 266.7 90.5 269.3 100 271.5C109.5 273.7 114.7 275.6 123 278C131.3 280.4 145.5 284.7 150 286" stroke-width="5.2" stroke-linecap="round"/>
<path d="M208 266C210.8 265.5 219.2 263.3 225 263C230.8 262.7 237.8 262.5 243 264C248.2 265.5 252.5 268.7 256 272C259.5 275.3 261.5 279.3 264 284C266.5 288.7 269.1 294.3 271 300C272.9 305.7 274.8 315 275.5 318" stroke-width="19.2" stroke-linecap="round"/>
<path d="M246 268C245.9 266 245.6 260.3 245.4 256C245.2 251.7 245.1 244.3 245 242" stroke-width="12.2" stroke-linecap="round"/>
<path d="M232 262L226 248" stroke-width="7.2" stroke-linecap="round"/>
<path d="M275.2 305C275.2 309.2 275.2 320.8 275.2 330C275.2 339.2 275.2 347 275.2 360C275.2 373 275.2 400 275.2 408" stroke-width="25.8" stroke-linecap="butt"/>
<path d="M512 245C510.8 244.9 509.3 244.7 504.8 244.5C500.3 244.3 491.3 244.1 485 244C478.7 243.9 474.3 243.6 467 244C459.7 244.4 449.7 245.1 441 246.5C432.3 247.9 422.2 250.5 415 252.5C407.8 254.5 402.8 256.2 397.5 258.5C392.2 260.8 387.6 263.4 383 266C378.4 268.6 377.2 270.6 370 274C362.8 277.4 349.7 282.2 340 286.5C330.3 290.8 319.5 296.2 312 300C304.5 303.8 299.7 306 295 309C290.3 312 285.8 316.5 284 318" stroke-width="16.7" stroke-linecap="round"/>
<path d="M510 217C507 219 497.2 225.5 492 229C486.8 232.5 480.8 236.5 478.5 238" stroke-width="6.2" stroke-linecap="round"/>
<path d="M360.3 166C360.2 171.3 360.3 189 360 198C359.7 207 360.7 210.7 358.5 220C356.3 229.3 351.2 243.7 347 254C342.8 264.3 337.2 275 333 282C328.8 289 323.8 293.7 322 296" stroke-width="10" stroke-linecap="round"/>
<path d="M380 176C380.8 180.8 383.8 197.3 384.5 205C385.2 212.7 385.1 215.7 384.5 222C383.9 228.3 382.6 237.2 381 243C379.4 248.8 376 254.7 375 257" stroke-width="7.2" stroke-linecap="round"/>
<path d="M297.5 505L297.5 580" stroke-width="26.2" stroke-linecap="butt"/>
<path d="M287 547C284.2 546.5 275.8 543.5 270 544C264.2 544.5 258.6 547 252 550C245.4 553 237.5 557.5 230.5 562C223.5 566.5 213.4 574.5 210 577" stroke-width="6.2" stroke-linecap="round"/>
<path d="M278 579C281.2 577.7 290.3 572.2 297 571C303.7 569.8 311.2 570.7 318 572C324.8 573.3 334.7 577.8 338 579" stroke-width="10.2" stroke-linecap="round"/>
</g><g stroke="#48a0cf">
<path d="M-6 384.5C-5 383.6 -4.3 382.9 0 379.3C4.3 375.7 13.3 368.4 20 363C26.7 357.6 31.7 353.2 40 346.6C48.3 340.1 62.1 329.9 70 323.7C77.9 317.5 81.7 313.9 87.5 309.3C93.3 304.7 99.1 300.4 104.9 296.2C110.7 292 117.4 287.5 122.4 284.4C127.4 281.3 130.4 279.9 135 277.5C139.6 275.1 144.2 272.8 150 270C155.8 267.2 163.3 263.5 170 261C176.7 258.5 182.8 256.2 190 255C197.2 253.8 206.7 253.2 213 254C219.3 254.8 225.5 259 228 260" stroke-width="10.2" stroke-linecap="round"/>
<path d="M43 345C42.1 346.3 39.1 349.9 37.5 353C35.9 356.1 34.1 359.7 33.2 363.5C32.3 367.3 32.3 371.9 32 376C31.7 380.1 31.3 384 31.5 388C31.7 392 32.4 396 33.2 400C34.1 404 35.6 408 36.6 412C37.6 416 38.7 420.8 39.3 424C39.9 427.2 40.7 425.8 40 431C39.3 436.2 36.7 447.5 35 455C33.3 462.5 34.2 467.5 30 476C25.8 484.5 15.7 498 10 506C4.3 514 -1.7 521 -4 524" stroke-width="4" stroke-linecap="round"/>
<path d="M-4 266C2.2 265.2 21.3 261.7 33 261.5C44.7 261.3 54.8 263.3 66 265C77.2 266.7 90.5 269.3 100 271.5C109.5 273.7 114.7 275.6 123 278C131.3 280.4 145.5 284.7 150 286" stroke-width="4" stroke-linecap="round"/>
<path d="M208 266C210.8 265.5 219.2 263.3 225 263C230.8 262.7 237.8 262.5 243 264C248.2 265.5 252.5 268.7 256 272C259.5 275.3 261.5 279.3 264 284C266.5 288.7 269.1 294.3 271 300C272.9 305.7 274.8 315 275.5 318" stroke-width="18" stroke-linecap="round"/>
<path d="M246 268C245.9 266 245.6 260.3 245.4 256C245.2 251.7 245.1 244.3 245 242" stroke-width="11" stroke-linecap="round"/>
<path d="M232 262L226 248" stroke-width="6" stroke-linecap="round"/>
<path d="M275.2 305C275.2 309.2 275.2 320.8 275.2 330C275.2 339.2 275.2 347 275.2 360C275.2 373 275.2 400 275.2 408" stroke-width="24.6" stroke-linecap="butt"/>
<path d="M512 245C510.8 244.9 509.3 244.7 504.8 244.5C500.3 244.3 491.3 244.1 485 244C478.7 243.9 474.3 243.6 467 244C459.7 244.4 449.7 245.1 441 246.5C432.3 247.9 422.2 250.5 415 252.5C407.8 254.5 402.8 256.2 397.5 258.5C392.2 260.8 387.6 263.4 383 266C378.4 268.6 377.2 270.6 370 274C362.8 277.4 349.7 282.2 340 286.5C330.3 290.8 319.5 296.2 312 300C304.5 303.8 299.7 306 295 309C290.3 312 285.8 316.5 284 318" stroke-width="15.5" stroke-linecap="round"/>
<path d="M510 217C507 219 497.2 225.5 492 229C486.8 232.5 480.8 236.5 478.5 238" stroke-width="5" stroke-linecap="round"/>
<path d="M360.3 166C360.2 171.3 360.3 189 360 198C359.7 207 360.7 210.7 358.5 220C356.3 229.3 351.2 243.7 347 254C342.8 264.3 337.2 275 333 282C328.8 289 323.8 293.7 322 296" stroke-width="8.8" stroke-linecap="round"/>
<path d="M380 176C380.8 180.8 383.8 197.3 384.5 205C385.2 212.7 385.1 215.7 384.5 222C383.9 228.3 382.6 237.2 381 243C379.4 248.8 376 254.7 375 257" stroke-width="6" stroke-linecap="round"/>
<path d="M297.5 505L297.5 580" stroke-width="25" stroke-linecap="butt"/>
<path d="M287 547C284.2 546.5 275.8 543.5 270 544C264.2 544.5 258.6 547 252 550C245.4 553 237.5 557.5 230.5 562C223.5 566.5 213.4 574.5 210 577" stroke-width="5" stroke-linecap="round"/>
<path d="M278 579C281.2 577.7 290.3 572.2 297 571C303.7 569.8 311.2 570.7 318 572C324.8 573.3 334.7 577.8 338 579" stroke-width="9" stroke-linecap="round"/>
</g>
</g>
<mask id="mk2" maskUnits="userSpaceOnUse" x="0" y="0" width="1024" height="573"><rect width="1024" height="573" fill="#fff"/>
<ellipse cx="347.5" cy="155" rx="30" ry="29" fill="url(#fk)"/>
<ellipse cx="373" cy="184" rx="18" ry="22" fill="url(#fk)"/>
<ellipse cx="250" cy="184" rx="22" ry="22" fill="url(#fk)"/>
<ellipse cx="-3" cy="231" rx="13" ry="13" fill="url(#fk)"/>
<ellipse cx="407" cy="365" rx="22" ry="17" fill="url(#fk)" transform="rotate(-15 407 365)"/>
</mask>
<g fill="none" stroke-linejoin="round" mask="url(#mk2)">
<g stroke="#8e2a27">
<path d="M-8 421C-6.7 419.7 -4.7 417.5 0 413C4.7 408.5 13.3 400.3 20 394C26.7 387.7 31.7 383.4 40 375.4C48.3 367.4 60.7 355.1 70 346C79.3 336.9 87.3 328.7 96 320.8C104.7 312.9 114.7 304.8 122 298.8C129.3 292.8 134.8 289.8 140 285C145.2 280.2 148.7 275.3 153 270C157.3 264.7 163.8 255.8 166 253" stroke-width="12.2" stroke-linecap="round"/>
<path d="M153 270C155.2 267.2 160.5 258 166 253C171.5 248 178.3 243.2 186 240C193.7 236.8 204.3 234.3 212 234C219.7 233.7 227 237 232 238C237 239 238 239.6 242 240C246 240.4 251.7 240 256 240.5C260.3 241 264 241.8 268 243C272 244.2 276.2 246 280 248C283.8 250 289.2 253.8 291 255" stroke-width="11.7" stroke-linecap="round"/>
<path d="M-4 232L5 237" stroke-width="5.7" stroke-linecap="round"/>
<path d="M250 186C252.1 190.3 259.2 205.4 262.5 212C265.8 218.6 267.2 221 270 225.5C272.8 230 276.1 234.8 279.5 239C282.9 243.2 285.9 246.2 290.5 251C295.1 255.8 302.1 262 307 268C311.9 274 316.5 280.7 320 287C323.5 293.3 325.7 300.5 328 306C330.3 311.5 333 317.7 334 320" stroke-width="13.2" stroke-linecap="round"/>
<path d="M347 156C347.7 161.7 349.8 180.2 351 190C352.2 199.8 353.3 206.2 354 215C354.7 223.8 355.2 233.8 355 243C354.8 252.2 353.5 262.2 352.5 270C351.5 277.8 350.1 282.3 349 290C347.9 297.7 346.5 311.7 346 316" stroke-width="14.2" stroke-linecap="round"/>
<path d="M371 182C372.1 186 375.8 199.3 377.5 206C379.2 212.7 379.9 216.3 381 222C382.1 227.7 383.7 235.3 384 240C384.3 244.7 383.2 248.3 383 250" stroke-width="7.2" stroke-linecap="round"/>
<path d="M512 238C510.8 237.6 508.8 236.9 504.8 235.7C500.8 234.5 494.4 232.8 488.2 231C481.9 229.2 475.7 226.7 467.3 224.9C458.9 223.2 446.3 221 437.6 220.5C428.9 220 421.6 220.3 414.9 221.8C408.2 223.3 402.3 225.8 397.5 229.3C392.7 232.8 387.9 240.7 386 243" stroke-width="10.4" stroke-linecap="round"/>
<path d="M392 234C391 235.5 388.5 238.7 386 243C383.5 247.3 379.9 253.8 377 260C374.1 266.2 370.8 274.3 368.5 280C366.2 285.7 364.8 289.7 363 294C361.2 298.3 359.5 302.2 358 306C356.5 309.8 354.7 315.2 354 317" stroke-width="11.7" stroke-linecap="round"/>
<path d="M343 540L343 580" stroke-width="35.2" stroke-linecap="butt"/>
<path d="M326 309C328.3 308.3 335.8 304.7 340 305C344.2 305.3 348.2 308.3 351 311C353.8 313.7 355 316.6 356.8 321C358.6 325.4 360.7 332.2 362 337.6C363.3 343 363.5 350 364.6 353.3C365.7 356.6 365.8 356.8 368.5 357.5C371.2 358.2 376.6 357.1 380.6 357.3C384.6 357.6 389.2 357.9 392.6 359C396 360.1 400.7 361.8 401 364C401.3 366.2 397.3 369.8 394.6 372.2C391.9 374.6 387.3 375.9 384.6 378.2C381.9 380.5 378.3 383.5 378.6 386.2C378.9 388.9 382.9 389.6 386.6 394.3C390.3 399 395.6 407 400.6 414.3C405.6 421.6 412 430.4 416.7 438.4C421.4 446.4 425.4 454.5 428.8 462.5C432.2 470.5 434.8 479.2 436.8 486.6C438.8 494 440.3 500.3 440.8 506.7C441.3 513.1 441.3 519.4 440 524.8C438.7 530.1 436.7 535.1 432.8 538.8C428.9 542.5 424.1 545 416.7 546.9C409.3 548.8 398 549.7 388.6 550C379.2 550.3 369.9 550.2 360.5 548.9C351.1 547.6 341.1 544.7 332.4 542C323.7 539.3 315.7 536 308.3 532.8C300.9 529.6 294.2 526.5 288.2 522.8C282.1 519.1 276.7 515.4 272 510.7C267.3 506 263 501.4 260 494.7C257 488 255.5 478.6 254 470.6C252.5 462.6 251.2 453.9 251.2 446.5C251.2 439.1 252.5 432.4 254 426.4C255.5 420.4 257.3 414.3 260 410.3C262.7 406.3 266.3 403.7 270 402.3C273.7 400.9 278.9 401.7 282 402C285.1 402.3 287.4 403.9 288.5 404.3L288.5 340L308 331L321 313Z" stroke-width="1.2" fill="#ea4c43"/>
</g><g stroke="#ea4c43">
<path d="M-8 421C-6.7 419.7 -4.7 417.5 0 413C4.7 408.5 13.3 400.3 20 394C26.7 387.7 31.7 383.4 40 375.4C48.3 367.4 60.7 355.1 70 346C79.3 336.9 87.3 328.7 96 320.8C104.7 312.9 114.7 304.8 122 298.8C129.3 292.8 134.8 289.8 140 285C145.2 280.2 148.7 275.3 153 270C157.3 264.7 163.8 255.8 166 253" stroke-width="11" stroke-linecap="round"/>
<path d="M153 270C155.2 267.2 160.5 258 166 253C171.5 248 178.3 243.2 186 240C193.7 236.8 204.3 234.3 212 234C219.7 233.7 227 237 232 238C237 239 238 239.6 242 240C246 240.4 251.7 240 256 240.5C260.3 241 264 241.8 268 243C272 244.2 276.2 246 280 248C283.8 250 289.2 253.8 291 255" stroke-width="10.5" stroke-linecap="round"/>
<path d="M-4 232L5 237" stroke-width="4.5" stroke-linecap="round"/>
<path d="M250 186C252.1 190.3 259.2 205.4 262.5 212C265.8 218.6 267.2 221 270 225.5C272.8 230 276.1 234.8 279.5 239C282.9 243.2 285.9 246.2 290.5 251C295.1 255.8 302.1 262 307 268C311.9 274 316.5 280.7 320 287C323.5 293.3 325.7 300.5 328 306C330.3 311.5 333 317.7 334 320" stroke-width="12" stroke-linecap="round"/>
<path d="M347 156C347.7 161.7 349.8 180.2 351 190C352.2 199.8 353.3 206.2 354 215C354.7 223.8 355.2 233.8 355 243C354.8 252.2 353.5 262.2 352.5 270C351.5 277.8 350.1 282.3 349 290C347.9 297.7 346.5 311.7 346 316" stroke-width="13" stroke-linecap="round"/>
<path d="M371 182C372.1 186 375.8 199.3 377.5 206C379.2 212.7 379.9 216.3 381 222C382.1 227.7 383.7 235.3 384 240C384.3 244.7 383.2 248.3 383 250" stroke-width="6" stroke-linecap="round"/>
<path d="M512 238C510.8 237.6 508.8 236.9 504.8 235.7C500.8 234.5 494.4 232.8 488.2 231C481.9 229.2 475.7 226.7 467.3 224.9C458.9 223.2 446.3 221 437.6 220.5C428.9 220 421.6 220.3 414.9 221.8C408.2 223.3 402.3 225.8 397.5 229.3C392.7 232.8 387.9 240.7 386 243" stroke-width="9.2" stroke-linecap="round"/>
<path d="M392 234C391 235.5 388.5 238.7 386 243C383.5 247.3 379.9 253.8 377 260C374.1 266.2 370.8 274.3 368.5 280C366.2 285.7 364.8 289.7 363 294C361.2 298.3 359.5 302.2 358 306C356.5 309.8 354.7 315.2 354 317" stroke-width="10.5" stroke-linecap="round"/>
<path d="M343 540L343 580" stroke-width="34" stroke-linecap="butt"/>
</g>
<path d="M326 309C328.3 308.3 335.8 304.7 340 305C344.2 305.3 348.2 308.3 351 311C353.8 313.7 355 316.6 356.8 321C358.6 325.4 360.7 332.2 362 337.6C363.3 343 363.5 350 364.6 353.3C365.7 356.6 365.8 356.8 368.5 357.5C371.2 358.2 376.6 357.1 380.6 357.3C384.6 357.6 389.2 357.9 392.6 359C396 360.1 400.7 361.8 401 364C401.3 366.2 397.3 369.8 394.6 372.2C391.9 374.6 387.3 375.9 384.6 378.2C381.9 380.5 378.3 383.5 378.6 386.2C378.9 388.9 382.9 389.6 386.6 394.3C390.3 399 395.6 407 400.6 414.3C405.6 421.6 412 430.4 416.7 438.4C421.4 446.4 425.4 454.5 428.8 462.5C432.2 470.5 434.8 479.2 436.8 486.6C438.8 494 440.3 500.3 440.8 506.7C441.3 513.1 441.3 519.4 440 524.8C438.7 530.1 436.7 535.1 432.8 538.8C428.9 542.5 424.1 545 416.7 546.9C409.3 548.8 398 549.7 388.6 550C379.2 550.3 369.9 550.2 360.5 548.9C351.1 547.6 341.1 544.7 332.4 542C323.7 539.3 315.7 536 308.3 532.8C300.9 529.6 294.2 526.5 288.2 522.8C282.1 519.1 276.7 515.4 272 510.7C267.3 506 263 501.4 260 494.7C257 488 255.5 478.6 254 470.6C252.5 462.6 251.2 453.9 251.2 446.5C251.2 439.1 252.5 432.4 254 426.4C255.5 420.4 257.3 414.3 260 410.3C262.7 406.3 266.3 403.7 270 402.3C273.7 400.9 278.9 401.7 282 402C285.1 402.3 287.4 403.9 288.5 404.3L288.5 340L308 331L321 313Z" fill="#ea4c43" stroke="none"/>
</g>
<mask id="mk3" maskUnits="userSpaceOnUse" x="0" y="0" width="1024" height="573"><rect width="1024" height="573" fill="#fff"/>
<ellipse cx="159" cy="380" rx="11" ry="11" fill="url(#fk)"/>
<ellipse cx="110" cy="438" rx="12" ry="12" fill="url(#fk)"/>
</mask>
<g fill="none" stroke-linejoin="round" mask="url(#mk3)">
<g stroke="#8e2a27">
<path d="M-4 262C-2.5 264.2 2.2 271.5 5 275C7.8 278.5 8.3 279 13 283C17.7 287 26 295.6 33 299C40 302.4 48.8 302.6 55 303.5C61.2 304.4 64.6 304.8 70 304.5C75.4 304.2 81.7 303.2 87.5 302C93.3 300.8 99.1 299.3 104.9 297.5C110.7 295.7 117.4 293.2 122.4 291.4C127.4 289.6 130.7 288.4 135 286.5C139.3 284.6 145.8 281.1 148 280" stroke-width="5.4" stroke-linecap="round"/>
<path d="M86 302C84.5 303.4 79.1 307.4 77 310.6C74.9 313.8 73.8 317.2 73.5 321C73.2 324.8 73.8 329.5 75.2 333.3C76.7 337.1 79.3 340.3 82.2 343.8C85.1 347.3 89.8 351.5 92.7 354.2C95.6 356.9 96.3 356.9 99.7 360C103.1 363.1 109.8 367.7 113 373C116.2 378.3 118.3 385.5 119 392C119.7 398.5 118.5 404.7 117 412C115.5 419.3 111.2 432 110 436" stroke-width="5.8" stroke-linecap="round"/>
<path d="M106 366C108.3 367 115.2 370.4 120 372C124.8 373.6 128.7 374.2 135 375.5C141.3 376.8 154.2 378.8 158 379.5" stroke-width="5.2" stroke-linecap="round"/>
</g><g stroke="#ea4c43">
<path d="M-4 262C-2.5 264.2 2.2 271.5 5 275C7.8 278.5 8.3 279 13 283C17.7 287 26 295.6 33 299C40 302.4 48.8 302.6 55 303.5C61.2 304.4 64.6 304.8 70 304.5C75.4 304.2 81.7 303.2 87.5 302C93.3 300.8 99.1 299.3 104.9 297.5C110.7 295.7 117.4 293.2 122.4 291.4C127.4 289.6 130.7 288.4 135 286.5C139.3 284.6 145.8 281.1 148 280" stroke-width="4.2" stroke-linecap="round"/>
<path d="M86 302C84.5 303.4 79.1 307.4 77 310.6C74.9 313.8 73.8 317.2 73.5 321C73.2 324.8 73.8 329.5 75.2 333.3C76.7 337.1 79.3 340.3 82.2 343.8C85.1 347.3 89.8 351.5 92.7 354.2C95.6 356.9 96.3 356.9 99.7 360C103.1 363.1 109.8 367.7 113 373C116.2 378.3 118.3 385.5 119 392C119.7 398.5 118.5 404.7 117 412C115.5 419.3 111.2 432 110 436" stroke-width="4.6" stroke-linecap="round"/>
<path d="M106 366C108.3 367 115.2 370.4 120 372C124.8 373.6 128.7 374.2 135 375.5C141.3 376.8 154.2 378.8 158 379.5" stroke-width="4" stroke-linecap="round"/>
</g>
</g>
<g fill="none" stroke="#8a2a26" stroke-width="1.1">
<path d="M314.3 360C316 362.3 320 368.3 324.3 374C328.6 379.7 334.4 386.9 340.4 394.3C346.4 401.7 354.5 409.7 360.5 418.4C366.5 427.1 371.8 437.1 376.5 446.5C381.2 455.9 384.6 465.2 388.6 474.6C392.6 484 395.9 494 400.6 502.7C405.3 511.4 411.7 520.4 416.7 526.8C421.7 533.1 428.4 538.5 430.8 540.8"/>
<path d="M326.3 400.3C326.5 396.6 326.8 384.6 327.5 378.2C328.2 371.8 328.9 366.1 330.4 362C331.9 357.9 333.7 354.5 336.4 353.3C339.1 352.1 342.4 354.2 346.4 355C350.4 355.8 358.1 357.5 360.5 358"/>
<path d="M289 404.3C291.6 404.6 299.4 405.6 304.3 406.3C309.2 407 314.6 409 318.3 408.3C322 407.6 322.6 404.3 326.3 402.3C330 400.3 335 397.6 340.4 396.3C345.8 395 353.1 393.6 358.5 394.3C363.9 395 370.2 399.3 372.5 400.3"/>
<path d="M372.5 400.3C372.8 402.6 373.1 410 374.5 414.3C375.9 418.6 377.2 422.9 380.6 426.4C384 429.9 389.9 433.2 394.6 435.2C399.3 437.2 405 437.9 408.7 438.4C412.4 438.9 415.4 438.4 416.7 438.4"/>
<path d="M318.3 408.3C317.6 411.3 317.3 420 314.3 426.4C311.3 432.8 305.2 439.8 300.2 446.5C295.2 453.2 288.9 460.1 284.2 466.5C279.5 472.9 275.2 478.6 272 484.6C268.8 490.6 266.2 499.7 265 502.7"/>
<path d="M260 410.3C259.7 413.6 258 423 258 430.4C258 437.8 259.3 446.5 260 454.5C260.7 462.5 261.2 470.6 262 478.6C262.8 486.6 264.5 498.7 265 502.7"/>
<path d="M372.5 400.3C373.4 398.9 376.9 394.3 378 392C379.1 389.7 378.8 387.4 379 386.5"/>
</g>
<g fill="none" stroke-linejoin="round">
<g stroke="#1f5a80">
<path d="M308 553.5C310.3 552.7 316.7 548.9 322 548.6C327.3 548.3 332.9 549.6 340 551.6C347.1 553.6 355.4 557.5 364.6 560.8C373.8 564.1 388.4 569 395 571.5C401.6 574 402.5 575.2 404 576" stroke-width="4.6" stroke-linecap="round"/>
</g><g stroke="#48a0cf">
<path d="M308 553.5C310.3 552.7 316.7 548.9 322 548.6C327.3 548.3 332.9 549.6 340 551.6C347.1 553.6 355.4 557.5 364.6 560.8C373.8 564.1 388.4 569 395 571.5C401.6 574 402.5 575.2 404 576" stroke-width="3.6" stroke-linecap="round"/>
</g>
</g>
<path d="M103 246.5C103.5 249 104.3 257.4 106 261.5C107.7 265.6 109 268 113 271C117 274 123.8 277.2 130 279.5C136.2 281.8 142.5 283.9 150 284.5C157.5 285.1 166.7 284.5 175 283C183.3 281.5 192.5 279.2 200 275.5C207.5 271.8 213.8 266.8 220 260.5C226.2 254.2 232.9 245.1 237.5 238C242.1 230.9 244.8 224.3 247.5 218C250.2 211.7 253.6 208 254 200C254.4 192 259 178.3 250 170C241 161.7 221.7 148.3 200 150C178.3 151.7 133.3 175 120 180Z" fill="#f8f8f8" opacity="0.84"/></g>
<g clip-path="url(#cr)"><g mask="url(#mlin)"><mask id="mk4" maskUnits="userSpaceOnUse" x="0" y="0" width="1024" height="573"><rect width="1024" height="573" fill="#fff"/>
<ellipse cx="672" cy="116" rx="13" ry="13" fill="url(#fk)"/>
<ellipse cx="667" cy="90" rx="8" ry="8" fill="url(#fk)"/>
<ellipse cx="686" cy="222" rx="11" ry="11" fill="url(#fk)"/>
<ellipse cx="821" cy="217" rx="11" ry="11" fill="url(#fk)"/>
<ellipse cx="838" cy="243" rx="11" ry="11" fill="url(#fk)"/>
<ellipse cx="669" cy="397" rx="8" ry="8" fill="url(#fk)"/>
<ellipse cx="860" cy="432" rx="31" ry="31" fill="url(#fk)"/>
</mask>
<g fill="none" stroke-linejoin="round" mask="url(#mk4)">
<g stroke="#1f5a80">
<path d="M731.3 40C731.8 47 733.1 70.6 734 82C734.9 93.4 735.7 98.3 736.5 108.5C737.3 118.7 737.2 113.4 738.8 143C740.4 172.6 744.1 249.8 746 286C747.9 322.2 749.1 340.3 750 360C750.9 379.7 751.2 396.7 751.5 404" stroke-width="17.5" stroke-linecap="round"/>
<path d="M734 82C731 82.1 721.6 81.1 716 82.6C710.4 84.1 704.8 88.1 700.5 91C696.2 93.9 693.1 96.9 690 99.8C686.9 102.7 684.7 106 682 108.5C679.3 111 675.3 113.9 674 115" stroke-width="9.1" stroke-linecap="round"/>
<path d="M731 62C727.9 61.9 717.7 60.9 712.5 61.5C707.3 62.1 704.1 63.7 700 65.5C695.9 67.3 692 69.8 688 72.5C684 75.2 679.2 79.4 676 82C672.8 84.6 670.2 87 669 88" stroke-width="4.3" stroke-linecap="round"/>
<path d="M735 240C733.3 239 728.8 235.8 725 234C721.2 232.2 716.7 230.7 712.5 229C708.3 227.3 704.1 225.1 700 224C695.9 222.9 690 222.8 688 222.5" stroke-width="8.1" stroke-linecap="round"/>
<path d="M758 232C761.2 233.8 771.7 239.8 777 242.5C782.3 245.2 785.7 247.8 790 248C794.3 248.2 799.7 246 803 244C806.3 242 807.7 239 810 236C812.3 233 815.3 228.7 817 226C818.7 223.3 819.5 221 820 220" stroke-width="8.1" stroke-linecap="round"/>
<path d="M795 248C797.2 248.1 803.8 248.9 808 248.5C812.2 248.1 815.5 246.4 820 245.5C824.5 244.6 832.5 243.4 835 243" stroke-width="8.1" stroke-linecap="round"/>
<path d="M740 268C737.5 269.3 730.4 273.2 725 276C719.6 278.8 714.2 281.2 707.5 285C700.8 288.8 690.8 292.9 685 298.5C679.2 304.1 675.7 310.2 672.5 318.5C669.3 326.8 667.2 339.3 666 348.5C664.8 357.7 664.7 365.9 665 373.5C665.3 381.1 667.5 390.6 668 394" stroke-width="4.1" stroke-linecap="round"/>
<path d="M772 246C774.2 247.3 780.3 250.5 785 254C789.7 257.5 793.9 261.7 800 267C806.1 272.3 814.3 280.7 821.4 286C828.5 291.3 836.3 293.8 842.4 299C848.5 304.2 854.3 310.9 858 317.4C861.7 323.9 863.2 330.9 864.6 338C866 345.1 866.6 350.5 866.5 360C866.4 369.5 865.8 383.7 864 395C862.2 406.3 857.3 422.5 856 428" stroke-width="4.2" stroke-linecap="round"/>
<path d="M752 400C751.7 403.3 751.2 414.5 750 420C748.8 425.5 747.2 428 745 433C742.8 438 740.6 443.2 737 450C733.4 456.8 727.8 465.8 723.5 474C719.2 482.2 715.6 491.3 711 499C706.4 506.7 701.8 512.8 696 520C690.2 527.2 684.5 533 676 542C667.5 551 650.2 568.7 645 574" stroke-width="10.1" stroke-linecap="round"/>
<path d="M708.5 512C708.9 515 710.2 523.7 711 530C711.8 536.3 712.8 542.1 713.5 549.6C714.2 557.1 714.8 570.8 715 575" stroke-width="7.6" stroke-linecap="round"/>
<path d="M752 405C752.3 407.5 753 415.4 754 420C755 424.6 755.4 427.4 758 432.4C760.6 437.4 766 444.2 769.8 449.8C773.6 455.4 776.8 459.5 781 466C785.2 472.5 790.8 482.8 795 489C799.2 495.2 804.2 500.7 806 503" stroke-width="9.9" stroke-linecap="round"/>
<path d="M806 503C808.3 505 815.1 511 820 515C824.9 519 829.3 521.3 835.5 527C841.7 532.7 850.8 541.4 857 549.4C863.2 557.4 870.3 570.7 873 575" stroke-width="9.7" stroke-linecap="round"/>
<path d="M806 500C805.8 503.4 804.8 512.8 805 520.6C805.2 528.4 805.5 537.9 807 547C808.5 556.1 812.8 570.3 814 575" stroke-width="7.6" stroke-linecap="round"/>
<path d="M560 -5C558.5 -1.8 554.3 7.3 551 14C547.7 20.7 544.3 27.8 540 35C535.7 42.2 529.7 50.7 525 57.5C520.3 64.3 515.5 71.6 512 76C508.5 80.4 505.3 82.7 504 84" stroke-width="4.1" stroke-linecap="round"/>
</g><g stroke="#48a0cf">
<path d="M731.3 40C731.8 47 733.1 70.6 734 82C734.9 93.4 735.7 98.3 736.5 108.5C737.3 118.7 737.2 113.4 738.8 143C740.4 172.6 744.1 249.8 746 286C747.9 322.2 749.1 340.3 750 360C750.9 379.7 751.2 396.7 751.5 404" stroke-width="16.4" stroke-linecap="round"/>
<path d="M734 82C731 82.1 721.6 81.1 716 82.6C710.4 84.1 704.8 88.1 700.5 91C696.2 93.9 693.1 96.9 690 99.8C686.9 102.7 684.7 106 682 108.5C679.3 111 675.3 113.9 674 115" stroke-width="8" stroke-linecap="round"/>
<path d="M731 62C727.9 61.9 717.7 60.9 712.5 61.5C707.3 62.1 704.1 63.7 700 65.5C695.9 67.3 692 69.8 688 72.5C684 75.2 679.2 79.4 676 82C672.8 84.6 670.2 87 669 88" stroke-width="3.2" stroke-linecap="round"/>
<path d="M735 240C733.3 239 728.8 235.8 725 234C721.2 232.2 716.7 230.7 712.5 229C708.3 227.3 704.1 225.1 700 224C695.9 222.9 690 222.8 688 222.5" stroke-width="7" stroke-linecap="round"/>
<path d="M758 232C761.2 233.8 771.7 239.8 777 242.5C782.3 245.2 785.7 247.8 790 248C794.3 248.2 799.7 246 803 244C806.3 242 807.7 239 810 236C812.3 233 815.3 228.7 817 226C818.7 223.3 819.5 221 820 220" stroke-width="7" stroke-linecap="round"/>
<path d="M795 248C797.2 248.1 803.8 248.9 808 248.5C812.2 248.1 815.5 246.4 820 245.5C824.5 244.6 832.5 243.4 835 243" stroke-width="7" stroke-linecap="round"/>
<path d="M740 268C737.5 269.3 730.4 273.2 725 276C719.6 278.8 714.2 281.2 707.5 285C700.8 288.8 690.8 292.9 685 298.5C679.2 304.1 675.7 310.2 672.5 318.5C669.3 326.8 667.2 339.3 666 348.5C664.8 357.7 664.7 365.9 665 373.5C665.3 381.1 667.5 390.6 668 394" stroke-width="3" stroke-linecap="round"/>
<path d="M772 246C774.2 247.3 780.3 250.5 785 254C789.7 257.5 793.9 261.7 800 267C806.1 272.3 814.3 280.7 821.4 286C828.5 291.3 836.3 293.8 842.4 299C848.5 304.2 854.3 310.9 858 317.4C861.7 323.9 863.2 330.9 864.6 338C866 345.1 866.6 350.5 866.5 360C866.4 369.5 865.8 383.7 864 395C862.2 406.3 857.3 422.5 856 428" stroke-width="3.1" stroke-linecap="round"/>
<path d="M752 400C751.7 403.3 751.2 414.5 750 420C748.8 425.5 747.2 428 745 433C742.8 438 740.6 443.2 737 450C733.4 456.8 727.8 465.8 723.5 474C719.2 482.2 715.6 491.3 711 499C706.4 506.7 701.8 512.8 696 520C690.2 527.2 684.5 533 676 542C667.5 551 650.2 568.7 645 574" stroke-width="9" stroke-linecap="round"/>
<path d="M708.5 512C708.9 515 710.2 523.7 711 530C711.8 536.3 712.8 542.1 713.5 549.6C714.2 557.1 714.8 570.8 715 575" stroke-width="6.5" stroke-linecap="round"/>
<path d="M752 405C752.3 407.5 753 415.4 754 420C755 424.6 755.4 427.4 758 432.4C760.6 437.4 766 444.2 769.8 449.8C773.6 455.4 776.8 459.5 781 466C785.2 472.5 790.8 482.8 795 489C799.2 495.2 804.2 500.7 806 503" stroke-width="8.8" stroke-linecap="round"/>
<path d="M806 503C808.3 505 815.1 511 820 515C824.9 519 829.3 521.3 835.5 527C841.7 532.7 850.8 541.4 857 549.4C863.2 557.4 870.3 570.7 873 575" stroke-width="8.6" stroke-linecap="round"/>
<path d="M806 500C805.8 503.4 804.8 512.8 805 520.6C805.2 528.4 805.5 537.9 807 547C808.5 556.1 812.8 570.3 814 575" stroke-width="6.5" stroke-linecap="round"/>
<path d="M560 -5C558.5 -1.8 554.3 7.3 551 14C547.7 20.7 544.3 27.8 540 35C535.7 42.2 529.7 50.7 525 57.5C520.3 64.3 515.5 71.6 512 76C508.5 80.4 505.3 82.7 504 84" stroke-width="3" stroke-linecap="round"/>
</g>
</g>
<mask id="mk5" maskUnits="userSpaceOnUse" x="0" y="0" width="1024" height="573"><rect width="1024" height="573" fill="#fff"/>
<ellipse cx="704" cy="149" rx="14" ry="14" fill="url(#fk)"/>
</mask>
<g fill="none" stroke-linejoin="round" mask="url(#mk5)">
<g stroke="#1f5a80">
<path d="M739 81.5C739.8 82.9 743.4 86.9 744 90C744.6 93.1 744.1 96.3 742.4 100C740.7 103.7 737.1 108 733.6 112C730.1 116 725.2 120.2 721.4 124.2C717.6 128.2 713.7 132.2 711 136C708.3 139.8 706 145.2 705 147" stroke-width="9.3" stroke-linecap="round"/>
</g><g stroke="#48a0cf">
<path d="M739 81.5C739.8 82.9 743.4 86.9 744 90C744.6 93.1 744.1 96.3 742.4 100C740.7 103.7 737.1 108 733.6 112C730.1 116 725.2 120.2 721.4 124.2C717.6 128.2 713.7 132.2 711 136C708.3 139.8 706 145.2 705 147" stroke-width="8.3" stroke-linecap="round"/>
</g>
</g>
<mask id="mk6" maskUnits="userSpaceOnUse" x="0" y="0" width="1024" height="573"><rect width="1024" height="573" fill="#fff"/>
<ellipse cx="814" cy="104" rx="10" ry="10" fill="url(#fk)"/>
<ellipse cx="880" cy="155" rx="24" ry="13" fill="url(#fk)"/>
<ellipse cx="650" cy="205" rx="11" ry="11" fill="url(#fk)"/>
<ellipse cx="652" cy="241.5" rx="10" ry="10" fill="url(#fk)"/>
<ellipse cx="708" cy="261" rx="13" ry="13" fill="url(#fk)"/>
<ellipse cx="842" cy="193" rx="11" ry="11" fill="url(#fk)"/>
<ellipse cx="868" cy="235" rx="10" ry="10" fill="url(#fk)"/>
<ellipse cx="704" cy="178" rx="6" ry="6" fill="url(#fk)"/>
<ellipse cx="709" cy="363" rx="10" ry="10" fill="url(#fk)"/>
<ellipse cx="681" cy="397" rx="8" ry="8" fill="url(#fk)"/>
<ellipse cx="828" cy="556" rx="11" ry="26" fill="url(#fk)"/>
<ellipse cx="848" cy="430" rx="31" ry="31" fill="url(#fk)"/>
</mask>
<g fill="none" stroke-linejoin="round" mask="url(#mk6)">
<g stroke="#8e2a27">
<path d="M765 396C764.5 400 763.5 412.3 762 420C760.5 427.7 758.7 435 756 442C753.3 449 748.8 457.3 746 462C743.2 466.7 742.7 465.4 739.3 470C735.9 474.6 729.8 484.1 725.8 489.8C721.8 495.5 719.2 499.5 715 504C710.8 508.5 706.4 512.6 700.7 516.7C695 520.8 687.8 524.4 680.9 528.4C674 532.4 666.8 536.6 659.3 541C651.8 545.4 643.2 550.2 636 554.5C628.8 558.8 622.5 563.1 616.2 567C609.9 570.9 601 576.2 598 578" stroke-width="11.9" stroke-linecap="round"/>
<path d="M772 396C772.6 399.7 774.1 411.8 775.5 418C776.9 424.2 778.4 428.3 780.5 433C782.6 437.7 785.4 442 788 446C790.6 450 791.8 451.2 796 457C800.2 462.8 806.8 471.7 813 481C819.2 490.3 825.8 502.2 833.5 512.7C841.2 523.2 850.4 533.6 859.5 544C868.6 554.4 883.2 569.8 888 575" stroke-width="12.7" stroke-linecap="round"/>
<path d="M706 512C705.2 513.5 702.2 516 701 521C699.8 526 698.7 535.5 698.5 542C698.3 548.5 699.4 554.5 700 560C700.6 565.5 701.7 572.5 702 575" stroke-width="7.6" stroke-linecap="round"/>
<path d="M812 480C812.7 481.7 814.9 485.4 816 490C817.1 494.6 817.7 500.2 818.8 507.5C819.9 514.8 821.5 526.6 822.7 533.7C823.9 540.8 825.5 547.3 826 550" stroke-width="7.6" stroke-linecap="round"/>
<path d="M760 342C758.7 342.6 755.3 344.5 752 345.5C748.7 346.5 744.2 347 740 348C735.8 349 730.7 350.2 727 351.5C723.3 352.8 720.7 354.4 718 356C715.3 357.6 712.2 360.2 711 361" stroke-width="6.1" stroke-linecap="round"/>
<path d="M752 153C748.8 153 738.8 152.5 732.5 153C726.2 153.5 720.1 154.4 714 156C707.9 157.6 699 161.4 696 162.5" stroke-width="4.5" stroke-linecap="round"/>
<path d="M708.5 196.5C708.5 195.1 708.9 190.6 708.6 188.3C708.3 186.1 707.2 184.5 706.5 183C705.8 181.5 704.8 180.1 704.5 179.5" stroke-width="4.5" stroke-linecap="round"/>
<path d="M770 163C772 162.1 777.7 158.9 782 157.3C786.3 155.7 791.7 154.4 796 153.6C800.3 152.8 803.8 152.4 808 152.6C812.2 152.8 815.9 153.8 821 155C826.1 156.2 832.8 159.2 838.5 160C844.2 160.8 849.4 160.3 855 159.6C860.6 158.9 867.2 157.2 872 156C876.8 154.8 882 153.1 884 152.5" stroke-width="4.6" stroke-linecap="round"/>
<path d="M756 231C753.3 230.2 745.2 227.3 740 226C734.8 224.7 730.8 223.5 725 223C719.2 222.5 710.8 222.2 705 223C699.2 223.8 692.5 227.2 690 228" stroke-width="7.1" stroke-linecap="round"/>
<path d="M696 226C695 226.3 692.5 227.9 690 228C687.5 228.1 683.5 227.3 681 226.5C678.5 225.7 677.2 224.7 675 223C672.8 221.3 670.1 218.4 668 216.5C665.9 214.6 665.2 213.2 662.5 211.5C659.8 209.8 653.8 206.9 652 206" stroke-width="5.7" stroke-linecap="round"/>
<path d="M695 227C694.2 228.1 691.7 231.5 690 233.5C688.3 235.5 687.2 237.6 685 239C682.8 240.4 679.5 241.3 677 242C674.5 242.7 673.8 243.1 670 243C666.2 242.9 656.7 241.8 654 241.5" stroke-width="5.3" stroke-linecap="round"/>
<path d="M756 262C754.7 263.1 750.7 265.8 748 268.5C745.3 271.2 743 275.1 740 278C737 280.9 735.4 282.2 730 286C724.6 289.8 713.8 295.2 707.5 301C701.2 306.8 696.5 313.1 692.5 321C688.5 328.9 685.6 340 683.8 348.5C681.9 357 682 364.4 681.5 372C681 379.6 681.1 390.3 681 394" stroke-width="4.3" stroke-linecap="round"/>
<path d="M772 255C774.3 257 780.8 261.8 786 267C791.2 272.2 797.1 280.2 803 286C808.9 291.8 815.3 295.2 821.4 301.7C827.5 308.2 835.2 317.6 839.8 325C844.4 332.4 847 339.8 849 346C851 352.2 851.2 353.8 851.5 362C851.8 370.2 851.6 385.7 851 395C850.4 404.3 848.5 414.2 848 418" stroke-width="4.3" stroke-linecap="round"/>
<path d="M770 229C771.5 228.6 776.3 226.2 779 226.5C781.7 226.8 783.8 228.8 786 231C788.2 233.2 789.6 237.2 792 240C794.4 242.8 797.3 246.2 800.5 247.7C803.7 249.2 807.5 249.9 811 249C814.5 248.1 818.7 244.7 821.4 242.5C824.1 240.3 826.1 237.1 827 236" stroke-width="8.1" stroke-linecap="round"/>
<path d="M821.4 242.5C822.7 240.8 827.4 235.4 829.3 232C831.2 228.6 831.9 225.5 833 222C834.1 218.5 834.7 215.3 836 211C837.3 206.7 840.2 198.5 841 196" stroke-width="5.5" stroke-linecap="round"/>
<path d="M825 238C826.5 236.8 831 232.4 834 231C837 229.6 839.8 229.6 843 229.5C846.2 229.4 849.2 229.9 853 230.7C856.8 231.5 863.8 233.9 866 234.5" stroke-width="5.5" stroke-linecap="round"/>
<path d="M503 22C504.2 20.4 507.5 15.7 510 12.5C512.5 9.3 515.7 5.8 518 3C520.3 0.2 523 -2.8 524 -4" stroke-width="9.6" stroke-linecap="round"/>
<path d="M700 -5C700.3 -2.2 700.9 6.2 702 12C703.1 17.8 705.1 25.8 706.6 30C708.1 34.2 708.3 34.4 711 37C713.7 39.6 718.3 42.8 723 45.7C727.7 48.6 732.9 51.8 739 54.4C745.1 57 752.8 59.6 759.8 61.4C766.8 63.1 773.7 64.5 780.7 64.9C787.7 65.3 795.9 64.9 801.7 64C807.5 63.1 811.9 62.2 815.7 59.7C819.5 57.2 822.7 53 824.4 49.2C826.1 45.4 826 41.7 825.8 37C825.6 32.3 824.8 28 823 21C821.2 14 816.3 -0.7 815 -5Z" stroke-width="1.1" fill="#ea4c43"/>
<path d="M750.5 50L751 143L753.5 260L754 300L757 360L758.5 385L758 412L778 412L776.5 380L775.5 330L775 286L775 143L774.6 130L773 100L772 50Z" stroke-width="1.1" fill="#ea4c43"/>
</g><g stroke="#ea4c43">
<path d="M765 396C764.5 400 763.5 412.3 762 420C760.5 427.7 758.7 435 756 442C753.3 449 748.8 457.3 746 462C743.2 466.7 742.7 465.4 739.3 470C735.9 474.6 729.8 484.1 725.8 489.8C721.8 495.5 719.2 499.5 715 504C710.8 508.5 706.4 512.6 700.7 516.7C695 520.8 687.8 524.4 680.9 528.4C674 532.4 666.8 536.6 659.3 541C651.8 545.4 643.2 550.2 636 554.5C628.8 558.8 622.5 563.1 616.2 567C609.9 570.9 601 576.2 598 578" stroke-width="10.8" stroke-linecap="round"/>
<path d="M772 396C772.6 399.7 774.1 411.8 775.5 418C776.9 424.2 778.4 428.3 780.5 433C782.6 437.7 785.4 442 788 446C790.6 450 791.8 451.2 796 457C800.2 462.8 806.8 471.7 813 481C819.2 490.3 825.8 502.2 833.5 512.7C841.2 523.2 850.4 533.6 859.5 544C868.6 554.4 883.2 569.8 888 575" stroke-width="11.6" stroke-linecap="round"/>
<path d="M706 512C705.2 513.5 702.2 516 701 521C699.8 526 698.7 535.5 698.5 542C698.3 548.5 699.4 554.5 700 560C700.6 565.5 701.7 572.5 702 575" stroke-width="6.5" stroke-linecap="round"/>
<path d="M812 480C812.7 481.7 814.9 485.4 816 490C817.1 494.6 817.7 500.2 818.8 507.5C819.9 514.8 821.5 526.6 822.7 533.7C823.9 540.8 825.5 547.3 826 550" stroke-width="6.5" stroke-linecap="round"/>
<path d="M760 342C758.7 342.6 755.3 344.5 752 345.5C748.7 346.5 744.2 347 740 348C735.8 349 730.7 350.2 727 351.5C723.3 352.8 720.7 354.4 718 356C715.3 357.6 712.2 360.2 711 361" stroke-width="5" stroke-linecap="round"/>
<path d="M752 153C748.8 153 738.8 152.5 732.5 153C726.2 153.5 720.1 154.4 714 156C707.9 157.6 699 161.4 696 162.5" stroke-width="3.4" stroke-linecap="round"/>
<path d="M708.5 196.5C708.5 195.1 708.9 190.6 708.6 188.3C708.3 186.1 707.2 184.5 706.5 183C705.8 181.5 704.8 180.1 704.5 179.5" stroke-width="3.4" stroke-linecap="round"/>
<path d="M770 163C772 162.1 777.7 158.9 782 157.3C786.3 155.7 791.7 154.4 796 153.6C800.3 152.8 803.8 152.4 808 152.6C812.2 152.8 815.9 153.8 821 155C826.1 156.2 832.8 159.2 838.5 160C844.2 160.8 849.4 160.3 855 159.6C860.6 158.9 867.2 157.2 872 156C876.8 154.8 882 153.1 884 152.5" stroke-width="3.5" stroke-linecap="round"/>
<path d="M756 231C753.3 230.2 745.2 227.3 740 226C734.8 224.7 730.8 223.5 725 223C719.2 222.5 710.8 222.2 705 223C699.2 223.8 692.5 227.2 690 228" stroke-width="6" stroke-linecap="round"/>
<path d="M696 226C695 226.3 692.5 227.9 690 228C687.5 228.1 683.5 227.3 681 226.5C678.5 225.7 677.2 224.7 675 223C672.8 221.3 670.1 218.4 668 216.5C665.9 214.6 665.2 213.2 662.5 211.5C659.8 209.8 653.8 206.9 652 206" stroke-width="4.6" stroke-linecap="round"/>
<path d="M695 227C694.2 228.1 691.7 231.5 690 233.5C688.3 235.5 687.2 237.6 685 239C682.8 240.4 679.5 241.3 677 242C674.5 242.7 673.8 243.1 670 243C666.2 242.9 656.7 241.8 654 241.5" stroke-width="4.2" stroke-linecap="round"/>
<path d="M756 262C754.7 263.1 750.7 265.8 748 268.5C745.3 271.2 743 275.1 740 278C737 280.9 735.4 282.2 730 286C724.6 289.8 713.8 295.2 707.5 301C701.2 306.8 696.5 313.1 692.5 321C688.5 328.9 685.6 340 683.8 348.5C681.9 357 682 364.4 681.5 372C681 379.6 681.1 390.3 681 394" stroke-width="3.2" stroke-linecap="round"/>
<path d="M772 255C774.3 257 780.8 261.8 786 267C791.2 272.2 797.1 280.2 803 286C808.9 291.8 815.3 295.2 821.4 301.7C827.5 308.2 835.2 317.6 839.8 325C844.4 332.4 847 339.8 849 346C851 352.2 851.2 353.8 851.5 362C851.8 370.2 851.6 385.7 851 395C850.4 404.3 848.5 414.2 848 418" stroke-width="3.2" stroke-linecap="round"/>
<path d="M770 229C771.5 228.6 776.3 226.2 779 226.5C781.7 226.8 783.8 228.8 786 231C788.2 233.2 789.6 237.2 792 240C794.4 242.8 797.3 246.2 800.5 247.7C803.7 249.2 807.5 249.9 811 249C814.5 248.1 818.7 244.7 821.4 242.5C824.1 240.3 826.1 237.1 827 236" stroke-width="7" stroke-linecap="round"/>
<path d="M821.4 242.5C822.7 240.8 827.4 235.4 829.3 232C831.2 228.6 831.9 225.5 833 222C834.1 218.5 834.7 215.3 836 211C837.3 206.7 840.2 198.5 841 196" stroke-width="4.4" stroke-linecap="round"/>
<path d="M825 238C826.5 236.8 831 232.4 834 231C837 229.6 839.8 229.6 843 229.5C846.2 229.4 849.2 229.9 853 230.7C856.8 231.5 863.8 233.9 866 234.5" stroke-width="4.4" stroke-linecap="round"/>
<path d="M503 22C504.2 20.4 507.5 15.7 510 12.5C512.5 9.3 515.7 5.8 518 3C520.3 0.2 523 -2.8 524 -4" stroke-width="8.5" stroke-linecap="round"/>
</g>
<path d="M700 -5C700.3 -2.2 700.9 6.2 702 12C703.1 17.8 705.1 25.8 706.6 30C708.1 34.2 708.3 34.4 711 37C713.7 39.6 718.3 42.8 723 45.7C727.7 48.6 732.9 51.8 739 54.4C745.1 57 752.8 59.6 759.8 61.4C766.8 63.1 773.7 64.5 780.7 64.9C787.7 65.3 795.9 64.9 801.7 64C807.5 63.1 811.9 62.2 815.7 59.7C819.5 57.2 822.7 53 824.4 49.2C826.1 45.4 826 41.7 825.8 37C825.6 32.3 824.8 28 823 21C821.2 14 816.3 -0.7 815 -5Z" fill="#ea4c43" stroke="none"/>
<path d="M750.5 50L751 143L753.5 260L754 300L757 360L758.5 385L758 412L778 412L776.5 380L775.5 330L775 286L775 143L774.6 130L773 100L772 50Z" fill="#ea4c43" stroke="none"/>
</g>
<g fill="none" stroke="#8e2a27" stroke-width="0.9">
<path d="M765 396C765.5 397.3 767.4 401.3 768 404C768.6 406.7 768.4 410.7 768.5 412"/>
</g>
<mask id="mk7" maskUnits="userSpaceOnUse" x="0" y="0" width="1024" height="573"><rect width="1024" height="573" fill="#fff"/>
<ellipse cx="814" cy="104" rx="10" ry="10" fill="url(#fk)"/>
<ellipse cx="709" cy="259.5" rx="14" ry="14" fill="url(#fk)"/>
<ellipse cx="880" cy="163" rx="24" ry="11" fill="url(#fk)"/>
</mask>
<g fill="none" stroke-linejoin="round" mask="url(#mk7)">
<g stroke="#8e2a27">
<path d="M812 107C810.8 108.7 807.6 113.5 805 117.3C802.4 121.1 799.8 125.5 796.5 130C793.2 134.4 789.1 139.7 785 144C780.9 148.3 776.5 152.2 772 156C767.5 159.8 761.9 163.8 758 167C754.1 170.2 750.6 172.3 748.5 175C746.4 177.7 745.5 180.4 745.5 183C745.5 185.6 746.8 188.8 748.5 190.5C750.2 192.2 753.6 193.1 756 193C758.4 192.9 762.1 191.1 763 190C763.9 188.9 761.8 187.1 761.5 186.5" stroke-width="4.5" stroke-linecap="round"/>
<path d="M692 188C693.3 188.8 697 191 700 192.5C703 194 705.8 195.5 710 197C714.2 198.5 720 201.2 725 201.5C730 201.8 735.8 200.2 740 199C744.2 197.8 745.7 195.8 750 194.5C754.3 193.2 761 192.2 765.7 191C770.4 189.8 774 188.6 778 187C782 185.4 784.6 184.3 790 181.5C795.4 178.7 805.3 172.8 810.6 170C815.9 167.2 818 166.4 822 165C826 163.6 829.8 162.4 834.5 161.8C839.2 161.2 844.8 161.2 850 161.2C855.2 161.2 860.7 161.8 866 162C871.3 162.2 879.3 162.4 882 162.5" stroke-width="4.4" stroke-linecap="round"/>
<path d="M762.5 218C761.3 219 758 221.4 755.5 224C753 226.6 750.4 230 747.3 233.5C744.2 237 740.7 241.8 737 245C733.3 248.2 729.2 250.8 725 253C720.8 255.2 714.2 257.6 712 258.5" stroke-width="9.7" stroke-linecap="round"/>
<path d="M767.5 331C767.2 332.1 767.2 335.6 766 337.5C764.8 339.4 761 341.7 760 342.5" stroke-width="6.1" stroke-linecap="round"/>
</g><g stroke="#ea4c43">
<path d="M812 107C810.8 108.7 807.6 113.5 805 117.3C802.4 121.1 799.8 125.5 796.5 130C793.2 134.4 789.1 139.7 785 144C780.9 148.3 776.5 152.2 772 156C767.5 159.8 761.9 163.8 758 167C754.1 170.2 750.6 172.3 748.5 175C746.4 177.7 745.5 180.4 745.5 183C745.5 185.6 746.8 188.8 748.5 190.5C750.2 192.2 753.6 193.1 756 193C758.4 192.9 762.1 191.1 763 190C763.9 188.9 761.8 187.1 761.5 186.5" stroke-width="3.4" stroke-linecap="round"/>
<path d="M692 188C693.3 188.8 697 191 700 192.5C703 194 705.8 195.5 710 197C714.2 198.5 720 201.2 725 201.5C730 201.8 735.8 200.2 740 199C744.2 197.8 745.7 195.8 750 194.5C754.3 193.2 761 192.2 765.7 191C770.4 189.8 774 188.6 778 187C782 185.4 784.6 184.3 790 181.5C795.4 178.7 805.3 172.8 810.6 170C815.9 167.2 818 166.4 822 165C826 163.6 829.8 162.4 834.5 161.8C839.2 161.2 844.8 161.2 850 161.2C855.2 161.2 860.7 161.8 866 162C871.3 162.2 879.3 162.4 882 162.5" stroke-width="3.3" stroke-linecap="round"/>
<path d="M762.5 218C761.3 219 758 221.4 755.5 224C753 226.6 750.4 230 747.3 233.5C744.2 237 740.7 241.8 737 245C733.3 248.2 729.2 250.8 725 253C720.8 255.2 714.2 257.6 712 258.5" stroke-width="8.6" stroke-linecap="round"/>
<path d="M767.5 331C767.2 332.1 767.2 335.6 766 337.5C764.8 339.4 761 341.7 760 342.5" stroke-width="5" stroke-linecap="round"/>
</g>
</g>
<mask id="mk8" maskUnits="userSpaceOnUse" x="0" y="0" width="1024" height="573"><rect width="1024" height="573" fill="#fff"/>
<ellipse cx="824" cy="86.5" rx="8" ry="8" fill="url(#fk)"/>
<ellipse cx="783" cy="119" rx="11" ry="11" fill="url(#fk)"/>
</mask>
<g fill="none" stroke-linejoin="round" mask="url(#mk8)">
<g stroke="#1f5a80">
<path d="M738 66C739.6 65.6 744.6 63.7 747.6 63.4C750.6 63.1 753.4 63.6 756 64C758.6 64.4 759.2 64.2 763.3 65.8C767.4 67.4 774.3 71 780.7 73.6C787.1 76.2 794.8 79.4 801.7 81.5C808.6 83.6 818.6 85.2 822 86" stroke-width="4.4" stroke-linecap="round"/>
<path d="M737 78C739.2 78.4 745.8 78.7 750 80.5C754.2 82.3 758.7 86 762 89C765.3 92 767.5 95.2 770 98.5C772.5 101.8 775 105.9 777 109C779 112.1 781.2 115.7 782 117" stroke-width="9.2" stroke-linecap="round"/>
</g><g stroke="#48a0cf">
<path d="M738 66C739.6 65.6 744.6 63.7 747.6 63.4C750.6 63.1 753.4 63.6 756 64C758.6 64.4 759.2 64.2 763.3 65.8C767.4 67.4 774.3 71 780.7 73.6C787.1 76.2 794.8 79.4 801.7 81.5C808.6 83.6 818.6 85.2 822 86" stroke-width="3.4" stroke-linecap="round"/>
<path d="M737 78C739.2 78.4 745.8 78.7 750 80.5C754.2 82.3 758.7 86 762 89C765.3 92 767.5 95.2 770 98.5C772.5 101.8 775 105.9 777 109C779 112.1 781.2 115.7 782 117" stroke-width="8.2" stroke-linecap="round"/>
</g>
</g></g></g>
<g clip-path="url(#cl)" stroke-linejoin="round">
<g fill="#f4f4f4" stroke="#8f8f8f" stroke-width="1.2">
<path d="M444.8 460.8L444.2 461.5L443.4 462.4L442.5 463.4L441.4 464.6L440.3 465.8L439.1 467L437.8 468.3L436.3 469.8L434.8 471.3L433.3 472.8L431.8 474.2L430.3 475.3L428.7 476.2L426.9 477L425.1 477.7L423.4 478.3L421.9 478.7L420.9 479.1L421.1 479.9L422.2 479.6L423.7 479.2L425.4 478.8L427.4 478.3L429.3 477.6L431.1 476.7L432.9 475.6L434.6 474.4L436.3 473L438 471.5L439.5 470.2L440.9 469L442.2 467.8L443.5 466.7L444.7 465.6L445.7 464.6L446.6 463.8L447.2 463.2Z"/>
<path d="M432.5 473.7L432.3 475.2L431.8 477.5L431.3 480.1L430.8 482.8L430.4 485.5L430.1 487.9L430 490L430 492.2L430.1 494.2L430.2 496L430.3 497.5L430.3 498.6L431.1 498.6L431.2 497.5L431.2 496L431.3 494.2L431.4 492.2L431.6 490.1L431.9 488.1L432.3 485.9L433 483.3L433.7 480.6L434.4 478.1L435 475.9L435.5 474.3Z"/>
<path d="M442.5 469.4L442 470.7L441.2 472.6L440.3 474.8L439.3 477.2L438.4 479.8L437.5 482.3L436.7 484.9L435.8 487.7L434.9 490.7L434.1 493.6L433.5 496.2L433.2 498.5L433.1 500.3L433.3 501.8L433.6 503L434.1 504.1L434.7 505.1L435.4 506.3L436.3 507.8L437.5 509.4L438.7 511.1L439.9 512.6L441 513.9L441.7 514.8L442.3 514.4L441.6 513.4L440.7 512L439.5 510.5L438.4 508.8L437.4 507.1L436.6 505.7L436 504.5L435.4 503.4L435 502.5L434.8 501.5L434.7 500.3L434.8 498.7L435.3 496.6L436 494.1L436.9 491.3L437.9 488.4L438.9 485.7L439.9 483.1L440.8 480.7L441.9 478.3L443 475.9L444 473.8L444.8 472L445.5 470.6Z"/>
<path d="M434.9 490.5L435.4 491.6L436.2 493.1L437.2 494.9L438.1 496.8L438.8 498.6L439.3 500.1L439.4 501.5L439.4 503L439.2 504.5L439 505.9L438.7 507.1L438.6 507.9L439.4 508.1L439.6 507.2L439.9 506.1L440.3 504.7L440.6 503.2L440.8 501.5L440.7 499.9L440.4 498.1L439.7 496.1L439 494.1L438.2 492.2L437.5 490.6L437.1 489.5Z"/>
</g><g fill="#f4f4f4" stroke="none">
<path d="M444.8 460.8L444.2 461.5L443.4 462.4L442.5 463.4L441.4 464.6L440.3 465.8L439.1 467L437.8 468.3L436.3 469.8L434.8 471.3L433.3 472.8L431.8 474.2L430.3 475.3L428.7 476.2L426.9 477L425.1 477.7L423.4 478.3L421.9 478.7L420.9 479.1L421.1 479.9L422.2 479.6L423.7 479.2L425.4 478.8L427.4 478.3L429.3 477.6L431.1 476.7L432.9 475.6L434.6 474.4L436.3 473L438 471.5L439.5 470.2L440.9 469L442.2 467.8L443.5 466.7L444.7 465.6L445.7 464.6L446.6 463.8L447.2 463.2Z"/>
<path d="M432.5 473.7L432.3 475.2L431.8 477.5L431.3 480.1L430.8 482.8L430.4 485.5L430.1 487.9L430 490L430 492.2L430.1 494.2L430.2 496L430.3 497.5L430.3 498.6L431.1 498.6L431.2 497.5L431.2 496L431.3 494.2L431.4 492.2L431.6 490.1L431.9 488.1L432.3 485.9L433 483.3L433.7 480.6L434.4 478.1L435 475.9L435.5 474.3Z"/>
<path d="M442.5 469.4L442 470.7L441.2 472.6L440.3 474.8L439.3 477.2L438.4 479.8L437.5 482.3L436.7 484.9L435.8 487.7L434.9 490.7L434.1 493.6L433.5 496.2L433.2 498.5L433.1 500.3L433.3 501.8L433.6 503L434.1 504.1L434.7 505.1L435.4 506.3L436.3 507.8L437.5 509.4L438.7 511.1L439.9 512.6L441 513.9L441.7 514.8L442.3 514.4L441.6 513.4L440.7 512L439.5 510.5L438.4 508.8L437.4 507.1L436.6 505.7L436 504.5L435.4 503.4L435 502.5L434.8 501.5L434.7 500.3L434.8 498.7L435.3 496.6L436 494.1L436.9 491.3L437.9 488.4L438.9 485.7L439.9 483.1L440.8 480.7L441.9 478.3L443 475.9L444 473.8L444.8 472L445.5 470.6Z"/>
<path d="M434.9 490.5L435.4 491.6L436.2 493.1L437.2 494.9L438.1 496.8L438.8 498.6L439.3 500.1L439.4 501.5L439.4 503L439.2 504.5L439 505.9L438.7 507.1L438.6 507.9L439.4 508.1L439.6 507.2L439.9 506.1L440.3 504.7L440.6 503.2L440.8 501.5L440.7 499.9L440.4 498.1L439.7 496.1L439 494.1L438.2 492.2L437.5 490.6L437.1 489.5Z"/>
</g></g>
<g clip-path="url(#cr)" stroke-linejoin="round">
<g fill="#f4f4f4" stroke="#8f8f8f" stroke-width="1.2">
<path d="M832.9 -1.1L832 -0.2L830.8 1.2L829.4 2.7L828 4.3L826.5 5.9L825.3 7.2L824.1 8.2L823 9.1L821.9 9.9L820.8 10.7L819.7 11.5L818.6 12.4L817.3 13.3L816 14.3L814.7 15.4L813.5 16.3L812.5 17.1L811.8 17.7L812.2 18.3L813 17.8L814.1 17.1L815.4 16.3L816.8 15.4L818.2 14.5L819.4 13.6L820.6 12.9L821.8 12.2L823 11.5L824.2 10.7L825.4 9.8L826.7 8.8L828.2 7.6L829.8 6.2L831.4 4.7L832.9 3.2L834.2 2L835.1 1.1Z"/>
<path d="M826.7 7.2L826.1 8.3L825.1 9.8L824 11.7L822.9 13.7L821.8 15.7L821 17.6L820.4 19.3L819.8 21L819.4 22.8L819.1 24.6L819.1 26.3L819.2 28.1L819.8 30L820.8 32L821.9 33.9L823 35.7L824 37.1L824.7 38.2L825.3 37.8L824.8 36.7L823.9 35.1L822.9 33.3L821.9 31.4L821.2 29.5L820.8 27.9L820.7 26.3L820.9 24.8L821.2 23.2L821.7 21.6L822.3 20L823 18.4L823.9 16.8L825 14.9L826.2 13.1L827.5 11.4L828.5 9.9L829.3 8.8Z"/>
<path d="M818.9 12.5L818.5 13.5L817.8 14.9L817 16.5L816.2 18.4L815.6 20.2L815.2 21.9L815.3 23.6L815.7 25.2L816.2 26.7L816.8 28.1L817.3 29.3L817.6 30.1L818.4 29.9L818.1 29L817.7 27.8L817.3 26.4L816.9 24.9L816.7 23.4L816.8 22.1L817.2 20.7L817.9 19.1L818.8 17.5L819.7 15.9L820.5 14.5L821.1 13.5Z"/>
<path d="M834.4 4L834.5 6L834.6 8.8L834.7 12L834.9 15.5L834.9 18.9L834.9 21.9L834.7 24.8L834.2 27.8L833.7 30.8L833.2 33.7L833.1 36.2L833.4 38.2L834.5 39.6L836.1 40.3L837.8 40.5L839.6 40.5L841 40.4L842 40.4L842 39.6L841 39.5L839.5 39.5L837.9 39.5L836.4 39.2L835.2 38.7L834.6 37.8L834.5 36.2L834.8 33.9L835.3 31.2L836 28.2L836.7 25.1L837.1 22.1L837.3 18.9L837.4 15.5L837.5 12L837.5 8.7L837.6 6L837.6 4Z"/>
</g><g fill="#f4f4f4" stroke="none">
<path d="M832.9 -1.1L832 -0.2L830.8 1.2L829.4 2.7L828 4.3L826.5 5.9L825.3 7.2L824.1 8.2L823 9.1L821.9 9.9L820.8 10.7L819.7 11.5L818.6 12.4L817.3 13.3L816 14.3L814.7 15.4L813.5 16.3L812.5 17.1L811.8 17.7L812.2 18.3L813 17.8L814.1 17.1L815.4 16.3L816.8 15.4L818.2 14.5L819.4 13.6L820.6 12.9L821.8 12.2L823 11.5L824.2 10.7L825.4 9.8L826.7 8.8L828.2 7.6L829.8 6.2L831.4 4.7L832.9 3.2L834.2 2L835.1 1.1Z"/>
<path d="M826.7 7.2L826.1 8.3L825.1 9.8L824 11.7L822.9 13.7L821.8 15.7L821 17.6L820.4 19.3L819.8 21L819.4 22.8L819.1 24.6L819.1 26.3L819.2 28.1L819.8 30L820.8 32L821.9 33.9L823 35.7L824 37.1L824.7 38.2L825.3 37.8L824.8 36.7L823.9 35.1L822.9 33.3L821.9 31.4L821.2 29.5L820.8 27.9L820.7 26.3L820.9 24.8L821.2 23.2L821.7 21.6L822.3 20L823 18.4L823.9 16.8L825 14.9L826.2 13.1L827.5 11.4L828.5 9.9L829.3 8.8Z"/>
<path d="M818.9 12.5L818.5 13.5L817.8 14.9L817 16.5L816.2 18.4L815.6 20.2L815.2 21.9L815.3 23.6L815.7 25.2L816.2 26.7L816.8 28.1L817.3 29.3L817.6 30.1L818.4 29.9L818.1 29L817.7 27.8L817.3 26.4L816.9 24.9L816.7 23.4L816.8 22.1L817.2 20.7L817.9 19.1L818.8 17.5L819.7 15.9L820.5 14.5L821.1 13.5Z"/>
<path d="M834.4 4L834.5 6L834.6 8.8L834.7 12L834.9 15.5L834.9 18.9L834.9 21.9L834.7 24.8L834.2 27.8L833.7 30.8L833.2 33.7L833.1 36.2L833.4 38.2L834.5 39.6L836.1 40.3L837.8 40.5L839.6 40.5L841 40.4L842 40.4L842 39.6L841 39.5L839.5 39.5L837.9 39.5L836.4 39.2L835.2 38.7L834.6 37.8L834.5 36.2L834.8 33.9L835.3 31.2L836 28.2L836.7 25.1L837.1 22.1L837.3 18.9L837.4 15.5L837.5 12L837.5 8.7L837.6 6L837.6 4Z"/>
</g></g>
<g fill="none" stroke-linecap="round" stroke-linejoin="round">
<g clip-path="url(#cl)">
<path d="M0 101C2.7 102.7 12.7 107.4 16 111C19.3 114.6 18.7 117.7 20 122.5C21.3 127.3 23.2 134.6 24 140C24.8 145.4 23.6 149.6 25 155C26.4 160.4 29.2 167.1 32.5 172.5C35.8 177.9 42.1 182.9 45 187.5C47.9 192.1 47.5 195.8 50 200C52.5 204.2 56.2 209.4 60 212.5C63.8 215.6 68.3 218.2 72.5 218.8C76.7 219.3 80.8 217.9 85 216C89.2 214.1 95 209.8 97.5 207.5C100 205.2 99.6 203.3 100 202.5" stroke="#111111" stroke-width="1.9"/>
<path d="M36 179C33.3 180 26 181.9 20 185C14 188.1 3.3 195.4 0 197.5" stroke="#111111" stroke-width="1.9"/>
<path d="M16 111C17.9 112.1 23.1 116.4 27.5 117.5C31.9 118.6 39 118.8 42.5 117.5C46 116.2 47.7 111.2 48.8 110" stroke="#111111" stroke-width="1.4"/>
<path d="M21 122.5C22.9 123.1 28.1 125.6 32.5 126C36.9 126.4 44.4 125.6 47.5 125C50.6 124.4 50.4 122.9 51 122.5" stroke="#111111" stroke-width="1.1"/>
<path d="M51 122.5C51.2 127.9 52 146.2 52.5 155C53 163.8 53.5 171.7 53.8 175" stroke="#555555" stroke-width="0.9"/>
<path d="M46 175L46 187.5" stroke="#555555" stroke-width="0.9"/>
<path d="M0 95C2.9 96.5 10.4 101.5 17.5 103.8C24.6 106 38.3 107.9 42.5 108.8" stroke="#555555" stroke-width="0.9" stroke-dasharray="9 3"/>
<path d="M50 122.5L65 122.5" stroke="#555555" stroke-width="0.8"/>
<path d="M66 113.8C68.3 114.8 74.8 119.8 80 120C85.2 120.2 91.2 117.3 97.5 115C103.8 112.7 110.4 108.7 117.5 106C124.6 103.3 132.9 101 140 98.8C147.1 96.5 156.7 93.5 160 92.5" stroke="#111111" stroke-width="1.3" stroke-dasharray="22 3"/>
<path d="M70 112.5C75 111.2 90 107.8 100 105C110 102.2 118.3 98.5 130 96C141.7 93.5 163.3 91 170 90" stroke="#555555" stroke-width="0.9" stroke-dasharray="14 4"/>
<path d="M68 116C69.3 116.8 73.3 119.7 76 120.5C78.7 121.3 82.7 120.9 84 121" stroke="#555555" stroke-width="0.9"/>
<path d="M107.5 118.8C109.6 119.3 115 121.6 120 122C125 122.4 131.2 121.8 137.5 121C143.8 120.2 154.2 117.7 157.5 117" stroke="#111111" stroke-width="1.9"/>
<path d="M120 122.5C121.7 123.9 126.2 129.1 130 131C133.8 132.9 140.4 133.3 142.5 133.8" stroke="#555555" stroke-width="0.8"/>
<path d="M125 123.8C126.8 124.6 132.2 127.8 136 128.8C139.8 129.7 145.6 129.4 147.5 129.5" stroke="#555555" stroke-width="0.8"/>
<path d="M115 160C116.2 159.8 120.4 157.5 122.5 158.8C124.6 160 126.9 164 127.5 167.5C128.1 171 127.2 176.5 126 180C124.8 183.5 123.1 186.1 120 188.8C116.9 191.4 110.8 193.5 107.5 196C104.2 198.5 101.2 202.5 100 203.8" stroke="#111111" stroke-width="1.3"/>
<path d="M127.5 167.5C129.6 169.4 134 175.7 140 178.8C146 181.8 159.8 184.8 163.8 186" stroke="#111111" stroke-width="1.3"/>
<path d="M72.5 219C74.2 220.9 78.3 227.5 82.5 230.5C86.7 233.5 91.2 235.9 97.5 236.8C103.8 237.6 112.5 237 120 235.5C127.5 234 135.4 231.3 142.5 228C149.6 224.7 157.5 218.8 162.5 215.5C167.5 212.2 170.8 209.7 172.5 208.5" stroke="#111111" stroke-width="1.9"/>
<path d="M172.5 208.5L191 213.5" stroke="#111111" stroke-width="1.2"/>
<path d="M104 246C106.7 246.3 114.8 248.5 120 248C125.2 247.5 130.4 245.1 135 243C139.6 240.9 145.4 236.8 147.5 235.5" stroke="#555555" stroke-width="1"/>
<path d="M136 244.5C137.5 244.1 142.2 242.3 145 242C147.8 241.7 151.7 242.4 153 242.5" stroke="#555555" stroke-width="0.8"/>
<path d="M97.5 237.5C98.3 238.8 101.2 242.1 102.5 245.5C103.8 248.9 103.3 253.8 105 258C106.7 262.2 108.3 267 112.5 270.5C116.7 274 123.8 276.8 130 279C136.2 281.2 142.5 283.3 150 284C157.5 284.7 166.7 284.4 175 283C183.3 281.6 192.5 279.2 200 275.5C207.5 271.8 214.2 265.9 220 260.5C225.8 255.1 232.5 245.9 235 243" stroke="#111111" stroke-width="2"/>
<path d="M235 243C236 241.2 238.9 236.2 241 232C243.1 227.8 246.4 220.3 247.5 218" stroke="#666" stroke-width="0.9" opacity="0.7"/>
<path d="M247.5 218C248.3 215.7 251.4 208 252.5 204C253.6 200 253.8 195.7 254 194" stroke="#555555" stroke-width="0.9" opacity="0.5"/>
<path d="M249 221C249.5 226.7 250.8 243.5 252 255C253.2 266.5 255.3 284.2 256 290" stroke="#999" stroke-width="0.7"/>
<path d="M266 230.6C267.6 237.5 273.4 262.1 275.8 272C278.2 281.9 279.9 287 280.7 290" stroke="#999" stroke-width="0.7"/>
<path d="M225.4 0C229.3 2.9 239.5 12.2 248.9 17.6C258.3 23 276.5 29.8 282 32.3" stroke="#555555" stroke-width="0.8" opacity="0.7"/>
<path d="M235 0L258.6 30.3" stroke="#555555" stroke-width="0.8" opacity="0.6"/>
<path d="M247 0L262.6 13.7" stroke="#555555" stroke-width="0.8" opacity="0.6"/>
<path d="M298 0C297 1.6 294.6 6.2 291.9 9.8C289.2 13.4 283.6 19.6 282 21.5" stroke="#555555" stroke-width="0.8" stroke-dasharray="10 3" opacity="0.7"/>
<path d="M352.5 0C352.8 1.9 354.7 6.8 354.4 11.7C354.1 16.6 352.1 23.8 350.5 29.3C348.9 34.9 347 40.8 344.7 45C342.4 49.2 339.5 51.5 336.9 54.7C334.3 58 330.3 62 329 64.5C327.7 67 329 69.1 329 70" stroke="#555555" stroke-width="0.9"/>
<path d="M317.3 66C318.2 63.1 322.7 54.4 323 48.9C323.3 43.4 320.2 37.4 319.3 33.2C318.4 29 317 26.4 317.3 23.5C317.6 20.6 318.6 17.4 321.2 15.6C323.8 13.8 329.9 12 333 12.7C336.1 13.3 338.5 17.1 339.8 19.5C341.1 21.9 340.6 26.1 340.8 27.4" stroke="#555555" stroke-width="0.9" stroke-dasharray="16 3"/>
<path d="M324 39L335 38" stroke="#555555" stroke-width="0.8"/>
<path d="M366 0C366.2 2.6 368 9.1 367 15.6C366 22.1 362.4 32.1 360 39C357.6 45.9 354.4 51.8 352.5 56.7C350.6 61.6 349.2 66.5 348.6 68.4" stroke="#111111" stroke-width="1.6"/>
<path d="M372 4L376 14" stroke="#555555" stroke-width="0.8"/>
<path d="M378.3 0C378.9 1.8 379.9 6.7 381.8 10.5C383.7 14.3 386.4 18.1 389.7 22.7C393 27.3 397.2 33.2 401.9 38.4C406.5 43.6 411.8 49.6 417.6 54C423.4 58.4 430.6 62 436.7 64.6C442.8 67.2 447 68 454.2 69.8C461.4 71.6 471.5 73.6 480 75.5C488.5 77.4 500.8 80.1 505 81" stroke="#111111" stroke-width="1.8"/>
<path d="M313.5 290C314.3 284.2 316 268.3 318.5 255.5C321 242.7 326.4 223.4 328.5 213C330.6 202.6 329.1 199.2 331 193C332.9 186.8 336.7 179.8 340 176C343.3 172.2 344.2 169.8 351 170.5C357.8 171.2 367.7 175.5 381 180.5C394.3 185.5 415.2 193.8 431 200.5C446.8 207.2 464.5 215.2 476 220.5C487.5 225.8 496 230.1 500 232" stroke="#777" stroke-width="0.9"/>
<path d="M290 236C291.7 240.3 297.3 253 300 262C302.7 271 305 285.3 306 290" stroke="#888" stroke-width="0.8"/>
<path d="M180 284C181.7 285.3 187.3 289.3 190 292C192.7 294.7 195 298.7 196 300" stroke="#888" stroke-width="0.8"/>
<path d="M180 286C177.1 289.3 167.5 296.4 162.5 306C157.5 315.6 155.4 333.1 150 343.5C144.6 353.9 134.6 359.3 130 368.5C125.4 377.7 125.8 388.4 122.5 398.5C119.2 408.6 113.1 422.1 110 429C106.9 435.9 106 433.7 104 440C102 446.3 101.1 456 98 466.7C94.9 477.4 89.6 490.2 85.4 504C81.2 517.8 76 537.8 72.9 549.6C69.8 561.4 67.6 570.8 66.6 575" stroke="#666" stroke-width="0.9"/>
<path d="M93 487C94.2 489.7 96.3 500.3 100.5 503C104.7 505.7 109.6 504 118 503C126.4 502 145.2 497.8 150.7 496.8" stroke="#888" stroke-width="0.8"/>
<path d="M85 504C84.5 508.3 83.5 520.7 82 530C80.5 539.3 77 555 76 560" stroke="#999" stroke-width="0.7"/>
<path d="M36 424C35.4 425.3 34.4 427 32.6 432C30.8 437 28.4 444.8 25 454C21.6 463.2 16.7 475.7 12.5 487C8.3 498.3 2.1 516.2 0 522" stroke="#333" stroke-width="1.1"/>
<path d="M38 400L36 424" stroke="#555" stroke-width="0.8"/>
<path d="M402 549.7C410 550.2 432.5 549.8 450 553C467.5 556.2 497.5 566.3 507 569" stroke="#777" stroke-width="0.8"/>
<path d="M434 540C440.9 540.6 463.2 542.1 475.4 543.4C487.6 544.7 501.7 547.2 507 548" stroke="#999" stroke-width="0.8"/>
<path d="M200 568C205.1 566 221.3 562 230.5 556C239.7 550 249.7 539.6 255 532C260.3 524.4 261 517.2 262.5 510.5C264 503.8 263.8 495.1 264 492" stroke="#888" stroke-width="0.8"/>
</g>
<g clip-path="url(#cr)">
<path d="M553.8 0C552 4.2 546.5 16.7 543 25C539.5 33.3 535.5 40.4 532.5 50C529.5 59.6 526.7 72.1 525 82.5C523.3 92.9 522.1 102.4 522.5 112.5C522.9 122.6 524.4 135 527.5 143C530.6 151 538.8 157.6 541 160.5" stroke="#111111" stroke-width="1.4"/>
<path d="M510 189C515.2 184.2 534.2 163 541 160.5C547.8 158 549.3 171.8 551 174" stroke="#111111" stroke-width="1.6"/>
<path d="M551 174C550.2 178 547 189.8 546 198C545 206.2 547.2 213.8 545 223C542.8 232.2 537.1 242.5 532.5 253C527.9 263.5 521.1 278.7 517.5 286C513.9 293.3 512.2 293.7 511 297C509.8 300.3 510.2 304.5 510 306" stroke="#111111" stroke-width="1.4"/>
<path d="M535 143L541 160.5" stroke="#111111" stroke-width="1.4"/>
<path d="M560 193C558.7 195.8 554.5 204.6 552 210C549.5 215.4 546.2 222.9 545 225.5" stroke="#555555" stroke-width="0.9"/>
<path d="M600 0C598.3 9.1 593.4 37 589.6 54.5C585.8 72 579.8 90.8 577 104.8C574.2 118.8 573.5 130.1 572.9 138.3C572.3 146.5 572.7 150 573.5 154C574.3 158 575.9 161.6 577.5 162.5C579.1 163.4 580.6 163.3 583.3 159.3C586 155.3 591 144.6 593.8 138.3C596.6 132 596.9 127.1 600 121.5C603.1 115.9 607.8 109.3 612.7 104.8C617.6 100.3 626.6 96 629.4 94.3" stroke="#7a7a7a" stroke-width="0.8"/>
<path d="M597.5 25C598.8 26.7 602.9 32.5 605 35C607.1 37.5 609.2 39.2 610 40" stroke="#7a7a7a" stroke-width="0.8"/>
<path d="M591.7 54.5C592.2 57.4 593.6 66.4 595 72C596.4 77.6 597.4 82.9 600 88C602.6 93.1 605.4 102.4 610.6 102.7C615.9 103 623.1 95.2 631.5 90C639.9 84.8 651.1 77.1 660.9 71.2C670.6 65.3 682.3 59.4 690 54.5C697.7 49.6 703.8 46.8 707 41.9C710.2 37 708.7 27.8 709 25" stroke="#7a7a7a" stroke-width="0.8"/>
<path d="M577 104.8C574.2 110.4 565.2 126.4 560.3 138.3C555.4 150.2 550.9 164.1 547.7 176C544.6 187.9 542.5 203.9 541.4 209.5" stroke="#999" stroke-width="0.7"/>
<ellipse cx="564.5" cy="94.3" rx="15.5" ry="8" transform="rotate(-40 564.5 94.3)" stroke="#8a8a8a" stroke-width="0.8"/>
<path d="M560 96C560.5 96.4 561.8 98.5 563 98.5C564.2 98.5 566.3 96.4 567 96" stroke="#8a8a8a" stroke-width="0.8"/>
<path d="M962.8 0C964.5 4.3 970 15.1 973 26C976 36.9 979.2 52.3 981 65.4C982.8 78.5 983.2 91.8 983.7 104.7C984.2 117.6 983.9 134.4 983.7 143C983.5 151.6 983.7 152.3 982.4 156C981.1 159.7 978.8 165 976 165C973.2 165 968.5 159.7 965.4 156C962.3 152.3 959.8 147.3 957.6 143C955.4 138.7 952.9 132.2 952 130" stroke="#666" stroke-width="0.9"/>
<path d="M818.8 59C822.3 60.8 833 67.6 840 70C847 72.4 852.9 74.1 860.7 73.3C868.5 72.5 879.1 70.2 887 65.4C894.9 60.6 900.8 54.1 907.8 44.5C914.8 34.9 924.3 15.8 928.8 7.8C933.3 -0.1 934 -1.2 935 -3" stroke="#7a7a7a" stroke-width="0.8"/>
<ellipse cx="931.4" cy="51" rx="21" ry="9.5" transform="rotate(14 931.4 51)" stroke="#8a8a8a" stroke-width="0.8"/>
<path d="M925 48C926 48.4 928.8 50.2 931 50.5C933.2 50.8 936.8 50.1 938 50" stroke="#8a8a8a" stroke-width="0.8"/>
<path d="M887 89C893.5 91.2 912.9 98.1 926 102C939.1 105.9 954.5 110.6 965.4 112.6C976.3 114.6 987.2 113.7 991.6 113.9" stroke="#333" stroke-width="1"/>
<path d="M978.5 117.8C982.1 119.8 993.5 126.1 1000 130C1006.5 133.9 1014.8 139.5 1017.8 141.4" stroke="#555" stroke-width="0.9"/>
<path d="M790 69.4C795 70.8 809.1 75.6 820 78C830.9 80.4 849.6 82.8 855.5 83.8" stroke="#999" stroke-width="0.7"/>
<path d="M821.4 60.2C827.8 62.5 849.1 69.6 860 74C870.9 78.4 876 79.1 887 86.4C898 93.7 914.2 109.1 926 117.8C937.8 126.5 952.3 135.2 957.6 138.7" stroke="#7a7a7a" stroke-width="0.8"/>
<path d="M1014 176L1019 181" stroke="#555" stroke-width="0.9"/>
<path d="M510 478C514.6 480.3 531 487.5 537.7 491.8C544.4 496.1 545 498.6 550 504C555 509.4 562.5 518.5 568 524C573.5 529.5 579.3 535.2 583 537C586.7 538.8 588.8 536.2 590 535C591.2 533.8 591.3 533.3 590.5 529.5C589.7 525.7 589.2 519.8 585.4 512C581.6 504.2 574 491.3 567.8 483C561.6 474.7 555.1 468.5 548 462C540.9 455.5 531.3 449.5 525 444C518.7 438.5 512.5 431.5 510 429" stroke="#111111" stroke-width="1.3"/>
<path d="M512.5 481.7C514.6 485.4 518.8 494.8 525 504C531.2 513.2 542.9 527.7 550 537C557.1 546.3 563.8 556.4 567.8 559.6C571.8 562.8 573 557.6 574 556C575 554.4 574.6 552.3 574 550C573.4 547.7 570.9 543.3 570.3 542" stroke="#111111" stroke-width="1.3"/>
<path d="M510 537C514.6 540.3 530.8 552.4 537.7 557C544.6 561.6 549.1 564 551.5 564.7C553.9 565.4 552.2 562.3 552 561C551.8 559.7 550.3 557.7 550 557" stroke="#111111" stroke-width="1.2"/>
<path d="M510 560C512.5 561.2 521.3 564.8 525 567C528.7 569.2 530.8 572 532 573" stroke="#111111" stroke-width="1.1"/>
<path d="M550 488L558 482" stroke="#555555" stroke-width="0.8"/>
<path d="M518 520L524 512" stroke="#555555" stroke-width="0.8"/>
<path d="M548 548L556 540" stroke="#555555" stroke-width="0.8"/>
<path d="M570 483C573.3 486.3 585 498.1 590 503C595 507.9 594.3 507.7 600 512.5C605.7 517.3 616.3 525.8 624.4 532C632.5 538.2 640.6 544.4 648.7 549.8C656.8 555.2 666 560.4 673 564.4C680 568.4 688 572.4 691 574" stroke="#222" stroke-width="0.9"/>
<path d="M608 534.5C610 537.6 615.8 546.2 620 553C624.2 559.8 630.8 571.3 633 575" stroke="#777" stroke-width="0.8"/>
<path d="M510 300C510.5 306.7 512.7 326.7 513 340C513.3 353.3 512.5 365.2 512 380C511.5 394.8 510.3 420.8 510 429" stroke="#999" stroke-width="0.8" opacity="0.6"/>
<path d="M934 574C937.5 572.2 947.6 567.5 955 563C962.4 558.5 971 552.8 978.5 546.8C986 540.8 993.2 533.8 1000 527C1006.8 520.2 1015.8 509.5 1019 506" stroke="#444" stroke-width="0.9"/>
<path d="M955 574L981 552" stroke="#777" stroke-width="0.8"/>
<path d="M1019 524C1018.1 526 1013.9 532 1013.9 536C1013.9 540 1018.1 546 1019 548" stroke="#111111" stroke-width="1.3"/>
<path d="M738 488C740 487.2 745.7 483.3 750 483C754.3 482.7 759.2 483.8 764 486C768.8 488.2 776.5 494.3 779 496" stroke="#444" stroke-width="0.8"/>
<path d="M738 488C740 489 745.7 492.5 750 494C754.3 495.5 759.2 496.7 764 497C768.8 497.3 776.5 496.2 779 496" stroke="#444" stroke-width="0.8"/>
</g>
</g>
<g font-family="Liberation Sans, sans-serif" font-weight="bold" fill="#0a0a0a">
<g fill="none" stroke="#0a0a0a" stroke-width="3" stroke-linejoin="miter" stroke-linecap="butt">
<path d="M416.5 116V222"/>
<path d="M354.8 202V333H318" stroke-width="3.6"/>
<path d="M696 172H789.5V236" stroke-width="2.6"/>
<path d="M641.5 437V499H819"/>
<path d="M893.5 406V447H795"/>
</g>
<rect x="36.5" y="33.5" width="184.5" height="54" fill="#f7d447" stroke="#0a0a0a" stroke-width="3"/>
<text x="47" y="75.8" font-size="41.4" textLength="164" lengthAdjust="spacingAndGlyphs">Arteries</text>
<rect x="300.3" y="71.3" width="152.9" height="44.9" fill="#f7d447" stroke="#0a0a0a" stroke-width="2.6"/>
<text x="313.5" y="103.5" font-size="26.5" textLength="127" lengthAdjust="spacingAndGlyphs">Subclavian</text>
<rect x="208.8" y="316.3" width="109.4" height="38.9" fill="#f7d447" stroke="#0a0a0a" stroke-width="2.6"/>
<text x="220" y="345" font-size="26.5" textLength="86.5" lengthAdjust="spacingAndGlyphs">Carotid</text>
<rect x="598.3" y="150.3" width="97.4" height="40.9" fill="#f7d447" stroke="#0a0a0a" stroke-width="2.6"/>
<text x="615" y="180.5" font-size="26.5" textLength="64" lengthAdjust="spacingAndGlyphs">Renal</text>
<rect x="586.3" y="392.8" width="114.9" height="44.4" fill="#f7d447" stroke="#0a0a0a" stroke-width="2.6"/>
<text x="597" y="424.5" font-size="26.5" textLength="94.5" lengthAdjust="spacingAndGlyphs">Femoral</text>
<rect x="804.8" y="361.3" width="181.4" height="45.4" fill="#f7d447" stroke="#0a0a0a" stroke-width="2.6"/>
<text x="815.5" y="394" font-size="26.5" textLength="160" lengthAdjust="spacingAndGlyphs">Common iliac</text>
</g>
<circle cx="973.5" cy="535.3" r="14.4" fill="#fbfbfb" opacity="0.92"/>
<circle cx="973.5" cy="535.3" r="11.9" fill="#f2d574"/>
<path d="M965.5 533.5L968 531.8L971.6 536.2C976 529 983 521.5 990.5 517.5C984 524 977.5 532.5 972.6 542.2Z" fill="#626264"/>
<rect x="1018" y="0" width="6" height="573" fill="#fff"/>
<rect x="505" y="0" width="5.2" height="573" fill="#f6d346"/>
</svg>
</body></html>
